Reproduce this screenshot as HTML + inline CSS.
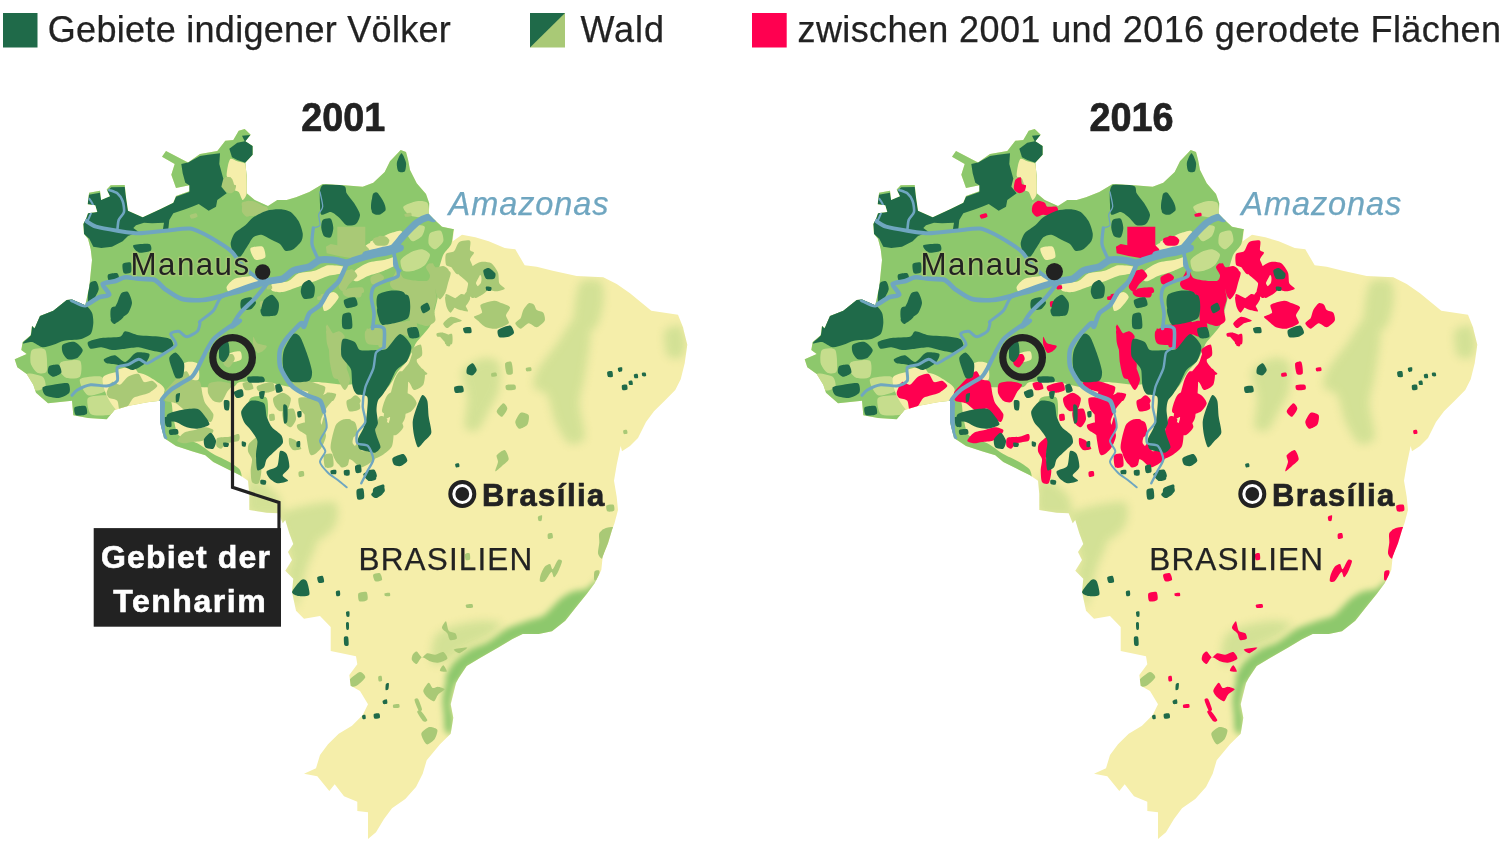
<!DOCTYPE html>
<html lang="de"><head><meta charset="utf-8"><title>Brasilien 2001 / 2016</title>
<style>
html,body{margin:0;padding:0;background:#fff}
svg{display:block}
text{font-family:"Liberation Sans",sans-serif;fill:#222222;stroke:#222222;stroke-width:0.25px}
.b{font-weight:bold}
.hv{stroke:#222222;stroke-width:0.7px}
.wh{fill:#fff;stroke:#fff;stroke-width:0.6px}
.bl{fill:#6fa6c0;stroke:#6fa6c0}
</style></head><body>
<svg width="1500" height="855" viewBox="0 0 1500 855">
<defs>
<clipPath id="bz"><path d="M34.7,328.0 L40.0,316.0 L53.3,310.7 L66.7,300.0 L72.0,299.5 L85.3,305.3 L89.3,286.7 L92.0,260.0 L90.7,249.3 L88.0,238.7 L84.0,234.0 L83.3,224.0 L86.0,218.7 L88.0,213.3 L97.3,212.0 L95.3,205.3 L87.7,204.3 L89.1,192.7 L100.0,190.7 L101.1,200.0 L110.0,196.3 L106.7,189.6 L110.7,185.3 L124.7,185.1 L126.0,197.3 L128.0,210.7 L142.7,217.3 L160.0,209.3 L173.3,202.7 L176.0,196.0 L189.3,191.3 L189.3,185.3 L176.0,188.0 L171.3,174.7 L174.7,164.0 L162.0,156.7 L166.0,150.9 L188.0,162.4 L200.0,154.0 L217.3,150.9 L225.3,140.7 L233.3,140.0 L238.7,130.7 L244.7,129.1 L250.7,134.7 L245.3,141.3 L252.7,146.0 L252.7,154.7 L245.3,162.7 L246.7,176.0 L246.7,193.3 L254.7,200.0 L268.0,206.0 L277.3,200.0 L286.7,200.0 L296.0,197.3 L309.3,192.0 L322.7,184.0 L344.0,185.3 L362.7,186.7 L373.3,182.7 L384.7,172.0 L390.0,161.3 L400.7,150.1 L406.0,152.0 L408.1,160.0 L410.0,169.9 L416.7,183.2 L426.0,193.9 L429.2,203.2 L428.9,213.9 L434.0,219.2 L442.0,226.7 L454.0,229.3 L452.7,241.3 L462.0,234.7 L475.3,237.3 L488.7,241.3 L504.7,248.0 L515.3,249.3 L524.7,265.3 L536.7,266.7 L552.7,270.7 L576.7,276.0 L603.3,277.3 L616.7,284.0 L630.0,293.3 L651.3,310.7 L678.0,314.7 L683.3,328.0 L683.3,328.7 L687.3,344.7 L684.7,363.3 L680.7,379.3 L675.3,390.0 L664.7,400.7 L654.0,411.3 L646.0,422.0 L638.0,438.0 L630.0,446.0 L622.0,451.3 L620.7,446.0 L616.7,464.7 L614.0,480.7 L616.7,496.7 L618.0,510.0 L614.5,523.3 L612.0,530.0 L608.0,543.3 L602.7,556.7 L601.3,570.0 L594.7,583.3 L586.7,594.0 L576.0,607.3 L565.3,620.7 L552.0,631.3 L538.7,634.0 L522.7,634.0 L512.0,639.3 L498.7,647.3 L480.0,658.0 L466.7,666.0 L458.7,678.0 L456.0,683.0 L450.7,704.3 L453.3,717.7 L450.7,733.7 L440.0,744.3 L426.7,760.3 L422.7,773.7 L416.0,787.0 L405.3,799.0 L392.0,808.3 L384.0,819.0 L376.0,832.3 L368.0,839.0 L368.0,812.3 L357.3,811.0 L357.3,801.7 L344.0,796.3 L334.7,784.3 L329.3,791.0 L317.3,776.3 L304.0,773.7 L316.0,768.3 L320.0,755.0 L328.0,744.3 L338.7,733.7 L352.0,725.7 L362.7,715.0 L368.0,704.3 L360.0,691.0 L350.7,685.7 L349.3,675.0 L357.3,664.3 L356.0,656.3 L344.0,653.7 L330.7,651.0 L330.7,627.0 L320.0,616.0 L304.0,618.7 L296.0,610.7 L292.0,592.0 L293.3,578.7 L285.3,570.7 L292.0,560.0 L288.0,552.0 L293.3,544.0 L289.3,533.3 L285.3,520.0 L282.7,523.3 L278.7,513.2 L266.7,512.7 L249.3,510.0 L249.3,494.0 L248.0,480.7 L240.0,475.3 L229.3,470.0 L213.3,462.0 L205.3,455.3 L192.0,451.3 L176.0,446.0 L164.0,438.0 L160.0,422.0 L160.0,400.7 L149.3,402.0 L128.0,406.0 L114.7,410.0 L106.7,419.3 L88.0,418.0 L73.3,415.3 L72.0,400.7 L48.0,403.3 L36.0,392.7 L33.3,384.7 L26.7,374.0 L17.3,367.3 L14.7,359.3 L26.7,354.0 L21.3,350.0 L22.7,342.0 L30.7,335.3 L32.0,326.0Z" fill="#000" /></clipPath>
<filter id="bl" x="-10%" y="-10%" width="120%" height="120%"><feGaussianBlur stdDeviation="4"/></filter>
<filter id="bl2" x="-10%" y="-10%" width="120%" height="120%"><feGaussianBlur stdDeviation="3"/></filter>
</defs>
<rect width="1500" height="855" fill="#fff"/>
<rect x="3" y="13" width="34.5" height="34.5" fill="#1f6a49"/>
<text x="47.8" y="41.9" font-size="36" textLength="403" lengthAdjust="spacing">Gebiete indigener Völker</text>
<rect x="530" y="13" width="35" height="34.5" fill="#a9c976"/><path d="M530,13 H565 L530,47.5Z" fill="#1f6a49"/>
<text x="580.5" y="41.9" font-size="36" textLength="83.5" lengthAdjust="spacing">Wald</text>
<rect x="752" y="13" width="34.7" height="34.5" fill="#ff0050"/>
<text x="797.5" y="41.9" font-size="36" textLength="703.5" lengthAdjust="spacing">zwischen 2001 und 2016 gerodete Flächen</text>
<g id="m2001">
<g clip-path="url(#bz)">
<rect x="0" y="100" width="720" height="760" fill="#f5eeaa"/>
<g opacity="0.32" filter="url(#bl)"><path d="M249.3,478.0 C251.3,474.3 260.3,481.0 264.0,483.3 C267.7,485.6 276.7,492.7 278.7,496.7 C280.7,500.7 283.8,513.3 280.0,515.3 C276.2,517.3 251.8,517.4 248.0,512.7 C244.2,508.0 247.3,481.7 249.3,478.0Z M249.3,478.0 C251.3,474.3 260.3,481.0 264.0,483.3 C267.7,485.6 276.7,492.7 278.7,496.7 C280.7,500.7 283.8,513.3 280.0,515.3 C276.2,517.3 251.8,517.4 248.0,512.7 C244.2,508.0 247.3,481.7 249.3,478.0Z M434.7,636.7 C437.4,632.0 447.6,628.0 453.3,626.0 C459.0,624.0 474.0,621.0 480.0,620.7 C486.0,620.4 500.3,621.3 501.3,623.3 C502.3,625.3 492.3,633.7 488.0,636.7 C483.7,639.7 471.7,644.3 466.7,647.3 C461.7,650.3 452.3,658.7 448.0,660.7 C443.7,662.7 433.7,666.3 432.0,663.3 C430.3,660.3 432.0,641.4 434.7,636.7Z M434.7,636.7 C437.4,632.0 447.6,628.0 453.3,626.0 C459.0,624.0 474.0,621.0 480.0,620.7 C486.0,620.4 500.3,621.3 501.3,623.3 C502.3,625.3 492.3,633.7 488.0,636.7 C483.7,639.7 471.7,644.3 466.7,647.3 C461.7,650.3 452.3,658.7 448.0,660.7 C443.7,662.7 433.7,666.3 432.0,663.3 C430.3,660.3 432.0,641.4 434.7,636.7Z M462.0,371.3 C464.0,366.3 478.6,359.0 483.3,358.0 C488.0,357.0 497.3,359.3 499.3,363.3 C501.3,367.3 500.6,384.0 499.3,390.0 C498.0,396.0 491.4,406.3 488.7,411.3 C486.0,416.3 481.0,428.0 478.0,430.0 C475.0,432.0 466.0,431.3 464.7,427.3 C463.4,423.3 467.6,405.0 467.3,398.0 C467.0,391.0 460.0,376.3 462.0,371.3Z M536.7,371.3 C539.7,365.6 553.3,348.7 558.0,342.0 C562.7,335.3 570.0,321.3 574.0,318.0 C578.0,314.7 588.0,312.3 590.0,315.3 C592.0,318.3 590.7,334.3 590.0,342.0 C589.3,349.7 586.0,369.0 584.7,376.7 C583.4,384.4 579.3,395.6 579.3,403.3 C579.3,411.0 586.0,433.0 584.7,438.0 C583.4,443.0 572.4,445.3 568.7,443.3 C565.0,441.3 558.0,428.0 555.3,422.0 C552.6,416.0 550.0,399.6 547.3,395.3 C544.6,391.0 535.3,390.3 534.0,387.3 C532.7,384.3 533.7,377.0 536.7,371.3Z M664.7,331.3 C666.4,327.6 678.0,324.3 680.7,326.0 C683.4,327.7 686.0,340.7 686.0,344.7 C686.0,348.7 683.0,356.7 680.7,358.0 C678.4,359.3 669.3,358.6 667.3,355.3 C665.3,352.0 663.0,335.0 664.7,331.3Z M579.3,284.0 C582.6,278.2 597.7,279.0 600.7,281.3 C603.7,283.6 604.0,296.9 603.3,302.7 C602.6,308.5 599.0,324.8 595.3,328.0 C591.6,331.2 576.0,333.5 574.0,328.0 C572.0,322.5 576.0,289.8 579.3,284.0Z M288.0,520.0 C291.0,516.0 308.3,517.3 312.0,520.0 C315.7,522.7 318.0,535.3 317.3,541.3 C316.6,547.3 309.4,559.7 306.7,568.0 C304.0,576.3 298.0,605.7 296.0,608.0 C294.0,610.3 291.9,591.4 290.7,586.7 C289.5,582.0 286.5,574.0 286.7,570.7 C286.9,567.4 291.8,562.3 292.0,560.0 C292.2,557.7 288.5,557.0 288.0,552.0 C287.5,547.0 285.0,524.0 288.0,520.0Z M282.7,512.7 C288.5,508.0 326.6,500.7 333.3,502.0 C340.0,503.3 337.7,518.6 336.0,523.3 C334.3,528.0 326.2,537.3 320.0,539.3 C313.8,541.3 291.4,542.6 286.7,539.3 C282.0,536.0 276.9,517.4 282.7,512.7Z" fill="#8dc86c"/></g>
<path d="M0,100 C57.5,63.8 402.5,85.6 460,100 C517.5,114.4 460.8,198.8 460,215 C459.2,231.2 455.1,225.7 454.0,229.3 C452.9,232.9 452.6,240.8 451.3,244.0 C450.0,247.2 445.0,251.4 443.3,254.7 C441.6,258.0 439.7,267.4 438.0,270.7 C436.3,274.0 430.0,278.6 430.0,281.3 C430.0,284.0 437.3,288.7 438.0,292.0 C438.7,295.3 436.3,304.0 435.3,308.0 C434.3,312.0 430.0,323.8 430.0,324.0 C430.0,324.2 435.3,309.8 435.3,310.0 C435.3,310.2 432.3,322.0 430.0,326.0 C427.7,330.0 418.7,339.3 416.7,342.0 C414.7,344.7 415.2,345.0 414.0,347.3 C412.8,349.6 409.3,357.7 407.3,360.7 C405.3,363.7 400.2,368.3 398.0,371.3 C395.8,374.3 392.3,381.7 390.0,384.7 C387.7,387.7 380.1,396.0 379.3,395.3 C378.6,394.6 388.1,380.6 384.0,379.3 C379.9,378.0 355.4,384.4 346.7,384.7 C338.0,385.0 321.4,381.7 314.7,382.0 C308.0,382.3 299.3,387.3 293.3,387.3 C287.3,387.3 273.4,382.7 266.7,382.0 C260.0,381.3 244.3,381.3 240.0,382.0 C235.7,382.7 236.7,386.6 232.0,387.3 C227.3,388.0 208.4,387.6 202.7,387.3 C197.0,387.0 191.4,383.0 186.7,384.7 C182.0,386.4 170.0,398.5 165.3,400.7 C160.6,402.9 154.0,401.3 149.3,402.0 C144.6,402.7 132.3,405.0 128.0,406.0 C123.7,407.0 117.4,407.7 114.7,410.0 C112.0,412.3 114.4,422.9 106.7,424.7 C99.0,426.5 66.6,429.0 53.3,424.7 C40.0,420.4 6.7,430.6 0.0,390.0 C-6.7,349.4 -57.5,136.2 0,100Z M158.7,398.0 C160.0,392.7 168.9,398.4 170.7,400.7 C172.5,403.0 172.3,412.4 173.3,416.7 C174.3,421.0 175.7,432.0 178.7,435.3 C181.7,438.6 193.0,441.0 197.3,443.3 C201.6,445.6 209.3,451.7 213.3,454.0 C217.3,456.3 226.0,460.0 229.3,462.0 C232.6,464.0 238.7,467.7 240.0,470.0 C241.3,472.3 243.3,480.7 240.0,480.7 C236.7,480.7 220.0,473.3 213.3,470.0 C206.6,466.7 193.4,457.3 186.7,454.0 C180.0,450.7 163.5,450.3 160.0,443.3 C156.5,436.3 157.4,403.3 158.7,398.0Z M250.7,398.0 C253.4,395.7 264.7,395.0 266.7,398.0 C268.7,401.0 268.4,418.3 266.7,422.0 C265.0,425.7 256.0,428.0 253.3,427.3 C250.6,426.6 245.6,420.4 245.3,416.7 C245.0,413.0 248.0,400.3 250.7,398.0Z" fill="#8dc86c"/>
<g filter="url(#bl2)"><path d="M602.7,575.3 C604.0,575.3 599.3,585.7 597.3,588.7 C595.3,591.7 589.4,596.3 586.7,599.3 C584.0,602.3 578.7,609.4 576.0,612.7 C573.3,616.0 568.3,623.0 565.3,626.0 C562.3,629.0 555.3,635.0 552.0,636.7 C548.7,638.4 542.4,639.1 538.7,639.3 C535.0,639.5 526.0,637.5 522.7,638.0 C519.4,638.5 515.0,641.6 512.0,643.3 C509.0,645.0 502.7,649.0 498.7,651.3 C494.7,653.6 484.0,659.7 480.0,662.0 C476.0,664.3 469.4,667.5 466.7,670.0 C464.0,672.5 461.4,680.8 458.7,682.0 C456.0,683.2 446.0,681.6 445.3,679.3 C444.6,677.0 450.3,667.0 453.3,663.3 C456.3,659.6 465.0,652.7 469.3,650.0 C473.6,647.3 483.3,644.7 488.0,642.0 C492.7,639.3 501.7,631.4 506.7,628.7 C511.7,626.0 523.3,622.4 528.0,620.7 C532.7,619.0 540.0,618.0 544.0,615.3 C548.0,612.6 556.3,602.3 560.0,599.3 C563.7,596.3 570.0,592.6 573.3,591.3 C576.6,590.0 583.0,590.7 586.7,588.7 C590.4,586.7 601.4,575.3 602.7,575.3Z M466.7,667.0 C466.7,669.0 458.0,678.3 456.0,683.0 C454.0,687.7 451.0,700.0 450.7,704.3 C450.4,708.6 453.1,714.0 453.3,717.7 C453.5,721.4 453.0,732.0 452.0,733.7 C451.0,735.4 446.3,733.3 445.3,731.0 C444.3,728.7 444.3,719.0 444.0,715.0 C443.7,711.0 442.4,703.3 442.7,699.0 C443.0,694.7 445.0,684.3 446.7,680.3 C448.4,676.3 453.5,668.7 456.0,667.0 C458.5,665.3 466.7,665.0 466.7,667.0Z" fill="#8dc86c"/></g>
<path d="M230.7,158.7 C231.9,158.2 235.5,160.6 237.3,161.3 C239.1,162.0 244.1,162.2 245.3,164.0 C246.5,165.8 246.5,172.3 246.7,176.0 C246.9,179.7 247.2,190.3 246.7,193.3 C246.2,196.3 243.7,200.2 242.7,200.0 C241.7,199.8 239.9,193.3 238.7,192.0 C237.5,190.7 234.3,191.0 233.3,189.3 C232.3,187.6 231.5,180.4 230.7,178.7 C229.9,177.0 227.0,177.7 226.7,176.0 C226.4,174.3 227.5,167.5 228.0,165.3 C228.5,163.1 229.5,159.2 230.7,158.7Z M226.7,286.7 C227.4,285.0 231.7,280.0 234.7,278.7 C237.7,277.4 247.4,276.7 250.7,276.0 C254.0,275.3 259.3,272.6 261.3,273.3 C263.3,274.0 267.4,279.6 266.7,281.3 C266.0,283.0 259.3,285.5 256.0,286.7 C252.7,287.9 243.3,290.0 240.0,290.7 C236.7,291.4 231.0,292.5 229.3,292.0 C227.6,291.5 226.0,288.4 226.7,286.7Z M250.7,248.0 C252.0,247.0 260.9,245.5 262.7,246.7 C264.5,247.9 266.1,255.6 265.3,257.3 C264.5,259.0 257.7,260.3 256.0,260.0 C254.3,259.7 252.7,256.2 252.0,254.7 C251.3,253.2 249.4,249.0 250.7,248.0Z M272.0,284.0 C274.0,282.8 284.7,282.6 288.0,281.3 C291.3,280.0 295.4,274.6 298.7,273.3 C302.0,272.0 311.0,271.7 314.7,270.7 C318.4,269.7 324.3,265.8 328.0,265.3 C331.7,264.8 342.3,265.7 344.0,266.7 C345.7,267.7 343.3,272.1 341.3,273.3 C339.3,274.5 331.3,275.0 328.0,276.0 C324.7,277.0 318.4,280.0 314.7,281.3 C311.0,282.6 302.7,285.4 298.7,286.7 C294.7,288.0 286.0,291.5 282.7,292.0 C279.4,292.5 273.3,291.7 272.0,290.7 C270.7,289.7 270.0,285.2 272.0,284.0Z M354.7,270.7 C356.7,268.7 364.3,264.0 368.0,262.7 C371.7,261.4 380.7,260.7 384.0,260.0 C387.3,259.3 393.4,256.6 394.7,257.3 C396.0,258.0 396.0,263.6 394.7,265.3 C393.4,267.0 387.3,269.4 384.0,270.7 C380.7,272.0 371.3,274.7 368.0,276.0 C364.7,277.3 359.3,281.0 357.3,281.3 C355.3,281.6 352.3,280.0 352.0,278.7 C351.7,277.4 352.7,272.7 354.7,270.7Z M370.7,241.3 C372.2,240.1 381.0,238.9 384.0,238.7 C387.0,238.5 393.5,238.8 394.7,240.0 C395.9,241.2 395.0,246.8 393.3,248.0 C391.6,249.2 384.0,249.3 381.3,249.3 C378.6,249.3 373.3,249.0 372.0,248.0 C370.7,247.0 369.2,242.5 370.7,241.3Z M322.7,297.3 C323.9,295.0 331.3,292.0 333.3,292.0 C335.3,292.0 339.0,295.3 338.7,297.3 C338.4,299.3 332.5,306.3 330.7,308.0 C328.9,309.7 325.0,312.0 324.0,310.7 C323.0,309.4 321.5,299.6 322.7,297.3Z M366.0,245.3 C367.5,243.6 376.3,240.2 379.3,238.7 C382.3,237.2 387.3,234.3 390.0,233.3 C392.7,232.3 399.0,230.4 400.7,230.7 C402.4,231.0 404.3,234.3 403.3,236.0 C402.3,237.7 395.7,242.5 392.7,244.0 C389.7,245.5 382.5,247.0 379.3,248.0 C376.1,249.0 369.0,252.3 367.3,252.0 C365.6,251.7 364.5,247.0 366.0,245.3Z M103.3,376.7 C105.5,373.9 118.3,371.6 123.3,371.3 C128.3,371.0 138.8,372.5 143.3,374.0 C147.8,375.5 156.6,381.3 159.3,383.3 C162.0,385.3 164.7,387.7 164.7,390.0 C164.7,392.3 162.0,400.3 159.3,402.0 C156.6,403.7 147.0,402.5 143.3,403.3 C139.6,404.1 133.3,407.9 130.0,408.7 C126.7,409.5 119.7,411.8 116.7,410.0 C113.7,408.2 107.7,398.2 106.0,394.0 C104.3,389.8 101.1,379.5 103.3,376.7Z M184.0,363.3 C185.3,361.1 195.5,361.3 197.3,363.3 C199.1,365.3 200.0,377.1 198.7,379.3 C197.4,381.5 188.5,382.7 186.7,380.7 C184.9,378.7 182.7,365.5 184.0,363.3Z M205.3,390.0 C208.0,387.3 223.5,384.7 226.7,384.7 C229.9,384.7 230.2,383.3 230.7,390.0 C231.2,396.7 232.2,432.3 230.7,438.0 C229.2,443.7 220.9,437.3 218.7,435.3 C216.5,433.3 215.0,425.7 213.3,422.0 C211.6,418.3 206.3,410.0 205.3,406.0 C204.3,402.0 202.6,392.7 205.3,390.0Z M228.0,354.0 C229.0,352.7 238.3,350.6 240.0,351.3 C241.7,352.0 242.3,358.0 241.3,359.3 C240.3,360.6 233.7,362.7 232.0,362.0 C230.3,361.3 227.0,355.3 228.0,354.0Z M117.3,370.0 C119.3,368.5 130.6,366.5 133.3,367.3 C136.0,368.1 139.7,374.9 138.7,376.7 C137.7,378.5 128.0,381.7 125.3,382.0 C122.6,382.3 118.3,380.8 117.3,379.3 C116.3,377.8 115.3,371.5 117.3,370.0Z" fill="#f5eeaa"/>
<g opacity="0.55"><path d="M400.7,260.0 C401.7,257.7 408.6,253.3 411.3,252.0 C414.0,250.7 419.7,249.0 422.0,249.3 C424.3,249.6 429.7,252.7 430.0,254.7 C430.3,256.7 426.7,263.3 424.7,265.3 C422.7,267.3 416.7,270.0 414.0,270.7 C411.3,271.4 405.0,272.0 403.3,270.7 C401.6,269.4 399.7,262.3 400.7,260.0Z M407.3,233.3 C407.8,231.3 414.5,226.1 416.7,225.3 C418.9,224.5 424.0,225.4 424.7,226.7 C425.4,228.0 423.5,234.2 422.0,236.0 C420.5,237.8 414.5,241.6 412.7,241.3 C410.9,241.0 406.8,235.3 407.3,233.3Z M430.0,233.3 C431.5,231.6 439.0,229.7 440.7,230.7 C442.4,231.7 444.0,239.0 443.3,241.3 C442.6,243.6 437.1,249.0 435.3,249.3 C433.5,249.6 429.4,246.0 428.7,244.0 C428.0,242.0 428.5,235.0 430.0,233.3Z M403.3,206.7 C404.3,205.0 413.7,201.8 416.7,201.3 C419.7,200.8 425.8,201.0 427.3,202.7 C428.8,204.4 429.7,212.9 428.7,214.7 C427.7,216.5 421.8,217.3 419.3,217.3 C416.8,217.3 410.7,216.0 408.7,214.7 C406.7,213.4 402.3,208.4 403.3,206.7Z M32.0,350.0 C33.8,348.3 43.5,347.3 45.3,350.0 C47.1,352.7 47.7,368.5 46.7,371.3 C45.7,374.1 39.3,373.7 37.3,372.7 C35.3,371.7 31.4,366.1 30.7,363.3 C30.0,360.5 30.2,351.7 32.0,350.0Z M61.3,362.0 C63.8,360.7 77.7,358.9 80.0,360.7 C82.3,362.5 81.7,374.5 80.0,376.7 C78.3,378.9 69.2,378.7 66.7,378.0 C64.2,377.3 60.7,373.3 60.0,371.3 C59.3,369.3 58.8,363.3 61.3,362.0Z M88.0,398.0 C90.0,395.7 101.7,395.3 106.7,395.3 C111.7,395.3 125.7,396.0 128.0,398.0 C130.3,400.0 128.0,409.1 125.3,411.3 C122.6,413.5 111.0,415.0 106.7,415.3 C102.4,415.6 93.0,416.2 90.7,414.0 C88.4,411.8 86.0,400.3 88.0,398.0Z M26.7,374.0 C27.7,372.3 40.4,375.0 42.7,376.7 C45.0,378.4 46.3,385.6 45.3,387.3 C44.3,389.0 37.0,391.7 34.7,390.0 C32.4,388.3 25.7,375.7 26.7,374.0Z M80.0,379.3 C81.7,377.0 98.0,375.4 101.3,376.7 C104.6,378.0 108.4,387.7 106.7,390.0 C105.0,392.3 91.3,396.6 88.0,395.3 C84.7,394.0 78.3,381.6 80.0,379.3Z" fill="#f5eeaa"/></g>
<path d="M225.3,177.3 C226.6,176.6 230.8,177.2 232.0,178.7 C233.2,180.2 234.9,187.5 234.7,189.3 C234.5,191.1 232.0,193.3 230.7,193.3 C229.4,193.3 225.2,190.5 224.0,189.3 C222.8,188.1 221.1,185.5 221.3,184.0 C221.5,182.5 224.0,178.0 225.3,177.3Z M242.0,202.7 C243.2,201.4 250.2,200.6 253.3,201.3 C256.4,202.0 265.4,206.5 266.7,208.0 C268.0,209.5 266.0,212.3 264.0,213.3 C262.0,214.3 253.2,216.2 250.7,216.0 C248.2,215.8 245.1,213.7 244.0,212.0 C242.9,210.3 240.8,204.0 242.0,202.7Z M349.3,680.0 C350.5,678.2 358.0,672.3 360.0,672.0 C362.0,671.7 365.6,675.6 365.3,677.3 C365.0,679.0 359.1,684.1 357.3,685.3 C355.5,686.5 351.7,687.4 350.7,686.7 C349.7,686.0 348.1,681.8 349.3,680.0Z M421.3,733.7 C421.6,731.5 427.3,727.5 429.3,727.0 C431.3,726.5 436.6,728.2 437.3,729.7 C438.0,731.2 436.0,737.2 434.7,739.0 C433.4,740.8 428.4,745.0 426.7,744.3 C425.0,743.6 421.0,735.9 421.3,733.7Z" fill="#a9c976"/>
<path d="M434.7,275.3 C435.9,272.5 443.3,270.3 445.3,270.0 C447.3,269.7 450.4,271.0 450.7,272.7 C451.0,274.4 448.7,280.8 448.0,283.3 C447.3,285.8 446.3,290.7 445.3,292.7 C444.3,294.7 441.2,299.3 440.0,299.3 C438.8,299.3 436.7,295.7 436.0,292.7 C435.3,289.7 433.5,278.1 434.7,275.3Z M458.7,274.0 C459.2,273.0 464.9,270.7 466.7,270.0 C468.5,269.3 471.6,268.2 473.3,268.7 C475.0,269.2 479.7,272.2 480.0,274.0 C480.3,275.8 476.0,281.3 476.0,283.3 C476.0,285.3 480.3,288.2 480.0,290.0 C479.7,291.8 475.0,297.7 473.3,298.0 C471.6,298.3 467.4,294.5 466.7,292.7 C466.0,290.9 468.5,285.1 468.0,283.3 C467.5,281.5 463.9,279.2 462.7,278.0 C461.5,276.8 458.2,275.0 458.7,274.0Z M445.3,296.7 C446.1,295.7 451.3,299.6 453.3,299.3 C455.3,299.0 459.6,294.3 461.3,294.0 C463.0,293.7 466.2,295.4 466.7,296.7 C467.2,298.0 465.1,302.9 465.3,304.7 C465.5,306.5 468.5,310.6 468.0,311.3 C467.5,312.0 462.8,310.7 461.3,310.0 C459.8,309.3 457.3,305.7 456.0,306.0 C454.7,306.3 451.9,312.5 450.7,312.7 C449.5,312.9 447.4,309.3 446.7,307.3 C446.0,305.3 444.5,297.7 445.3,296.7Z M365.3,331.3 C366.3,329.1 373.3,327.0 376.0,326.0 C378.7,325.0 383.7,324.0 386.7,323.3 C389.7,322.6 397.5,320.0 400.0,320.7 C402.5,321.4 406.7,326.7 406.7,328.7 C406.7,330.7 401.7,334.8 400.0,336.7 C398.3,338.6 397.3,343.1 393.3,344.0 C389.3,344.9 371.5,345.6 368.0,344.0 C364.5,342.4 364.3,333.6 365.3,331.3Z M445.3,336.7 C446.1,335.4 451.2,333.1 452.0,334.0 C452.8,334.9 452.8,342.8 452.0,344.0 C451.2,345.2 446.1,344.9 445.3,344.0 C444.5,343.1 444.5,337.9 445.3,336.7Z M225.3,180.0 C226.1,178.5 229.9,176.8 230.7,177.3 C231.5,177.8 231.3,183.0 232.0,184.0 C232.7,185.0 235.7,184.5 236.0,185.3 C236.3,186.1 235.5,189.7 234.7,190.7 C233.9,191.7 230.6,193.5 229.3,193.3 C228.0,193.1 224.5,191.0 224.0,189.3 C223.5,187.6 224.5,181.5 225.3,180.0Z M242.7,205.3 C243.4,203.9 246.5,201.1 248.0,200.8 C249.5,200.5 253.5,202.0 254.7,202.7 C255.9,203.4 255.8,206.2 257.3,206.7 C258.8,207.2 265.4,205.9 266.7,206.7 C268.0,207.5 268.8,212.1 268.0,213.3 C267.2,214.5 261.8,215.8 260.0,216.0 C258.2,216.2 255.0,214.6 253.3,214.7 C251.6,214.8 248.1,217.1 246.7,216.8 C245.3,216.5 242.6,213.4 242.1,212.0 C241.6,210.6 242.0,206.7 242.7,205.3Z M189.9,215.2 C190.5,214.5 195.1,213.1 196.0,213.3 C196.9,213.5 197.9,216.1 197.3,216.8 C196.7,217.5 192.4,218.9 191.5,218.7 C190.6,218.5 189.3,215.9 189.9,215.2Z M337.3,226.7 L365.3,226.7 L365.3,245.3 L369.3,249.3 L368.0,257.3 L354.7,258.7 L338.7,256.0 L326.7,253.3 L325.9,246.7 L330.7,244.0 L337.3,245.3Z M373.3,238.7 C374.3,237.5 382.0,235.8 384.0,236.0 C386.0,236.2 389.0,238.8 389.3,240.0 C389.6,241.2 388.4,244.6 386.7,245.3 C385.0,246.0 377.7,246.1 376.0,245.3 C374.3,244.5 372.3,239.9 373.3,238.7Z M345.3,273.3 C347.0,271.1 350.5,269.0 352.0,269.3 C353.5,269.6 357.6,274.2 357.3,276.0 C357.0,277.8 351.0,282.0 349.3,284.0 C347.6,286.0 345.3,291.7 344.0,292.0 C342.7,292.3 338.5,289.0 338.7,286.7 C338.9,284.4 343.6,275.5 345.3,273.3Z M342.7,292.0 C343.4,290.9 349.7,288.0 352.0,288.0 C354.3,288.0 360.3,290.8 361.3,292.0 C362.3,293.2 361.8,296.7 360.0,297.3 C358.2,297.9 348.9,297.5 346.7,296.8 C344.5,296.1 342.0,293.1 342.7,292.0Z M370.7,277.3 C371.5,276.0 377.0,273.3 378.7,273.3 C380.4,273.3 383.8,276.0 384.0,277.3 C384.2,278.6 381.5,282.7 380.0,283.5 C378.5,284.3 373.2,284.8 372.0,284.0 C370.8,283.2 369.9,278.6 370.7,277.3Z M266.7,285.9 C267.2,285.4 270.8,284.9 271.5,285.3 C272.2,285.7 272.5,288.3 272.0,288.8 C271.5,289.3 267.9,289.7 267.2,289.3 C266.5,288.9 266.2,286.4 266.7,285.9Z M260.0,302.1 C260.4,301.4 263.0,300.8 263.5,301.3 C264.0,301.8 264.4,305.4 264.0,306.1 C263.6,306.8 261.0,307.2 260.5,306.7 C260.0,306.2 259.6,302.8 260.0,302.1Z M317.3,296.8 C317.8,296.3 321.4,295.7 322.1,296.0 C322.8,296.3 323.2,299.0 322.7,299.5 C322.2,300.0 318.6,300.3 317.9,300.0 C317.2,299.7 316.8,297.3 317.3,296.8Z M372.7,242.0 C372.7,241.1 377.5,236.5 379.3,235.9 C381.1,235.3 386.1,236.7 387.3,237.5 C388.5,238.3 389.7,241.3 388.7,242.0 C387.7,242.7 381.3,243.3 379.3,243.3 C377.3,243.3 372.7,242.9 372.7,242.0Z M404.7,214.0 C405.4,213.5 410.0,212.4 410.8,212.7 C411.6,213.0 412.0,215.6 411.3,216.1 C410.6,216.6 406.3,217.0 405.5,216.7 C404.7,216.4 404.0,214.5 404.7,214.0Z M390.0,283.3 C390.3,281.3 394.3,274.7 395.3,272.7 C396.3,270.7 397.0,266.6 398.0,267.3 C399.0,268.0 401.0,276.3 403.3,278.0 C405.6,279.7 413.7,280.4 416.7,280.7 C419.7,281.0 425.6,281.4 427.3,280.7 C429.0,280.0 430.2,277.0 430.0,275.3 C429.8,273.6 426.0,268.8 426.0,267.3 C426.0,265.8 428.8,263.3 430.0,263.3 C431.2,263.3 434.3,265.5 435.3,267.3 C436.3,269.1 438.0,275.3 438.0,278.0 C438.0,280.7 435.5,286.0 435.3,288.7 C435.1,291.4 436.9,296.6 436.7,299.3 C436.5,302.0 434.2,307.3 434.0,310.0 C433.8,312.7 436.1,318.7 435.3,320.7 C434.5,322.7 429.6,325.7 427.3,326.0 C425.0,326.3 418.9,324.0 416.7,323.3 C414.5,322.6 411.0,323.7 410.0,320.7 C409.0,317.7 409.9,303.0 408.7,299.3 C407.5,295.6 402.7,292.6 400.7,291.3 C398.7,290.0 394.0,289.7 392.7,288.7 C391.4,287.7 389.7,285.3 390.0,283.3Z M367.3,331.3 C368.3,331.0 374.5,334.8 376.7,334.0 C378.9,333.2 382.0,326.0 384.7,324.7 C387.4,323.4 395.0,323.8 398.0,323.3 C401.0,322.8 406.4,320.7 408.7,320.7 C411.0,320.7 415.7,321.6 416.7,323.3 C417.7,325.0 417.7,332.3 416.7,334.0 C415.7,335.7 410.7,336.7 408.7,336.7 C406.7,336.7 403.0,333.3 400.7,334.0 C398.4,334.7 391.3,340.2 390.0,342.0 C388.7,343.8 391.0,348.0 390.0,348.7 C389.0,349.4 383.7,348.5 382.0,347.3 C380.3,346.1 378.4,340.6 376.7,339.3 C375.0,338.0 369.9,337.7 368.7,336.7 C367.5,335.7 366.3,331.6 367.3,331.3Z M446.0,254.0 C447.0,252.3 452.3,252.8 454.0,251.3 C455.7,249.8 457.3,243.3 459.3,242.0 C461.3,240.7 468.7,239.7 470.0,240.7 C471.3,241.7 469.5,248.5 470.0,250.0 C470.5,251.5 474.0,251.5 474.0,252.7 C474.0,253.9 470.2,257.5 470.0,259.3 C469.8,261.1 473.4,265.6 472.7,267.3 C472.0,269.0 466.7,271.9 464.7,272.7 C462.7,273.5 458.4,274.7 456.7,274.0 C455.0,273.3 452.6,268.5 451.3,267.3 C450.0,266.1 446.7,266.4 446.0,264.7 C445.3,263.0 445.0,255.7 446.0,254.0Z M427.3,264.7 C427.8,263.9 431.7,263.0 432.7,263.3 C433.7,263.6 434.0,267.0 435.3,267.3 C436.6,267.6 441.6,265.7 443.3,266.0 C445.0,266.3 448.2,268.5 448.7,270.0 C449.2,271.5 448.0,275.7 447.3,278.0 C446.6,280.3 444.5,288.0 443.3,288.7 C442.1,289.4 439.0,285.3 438.0,283.3 C437.0,281.3 436.5,274.4 435.3,272.7 C434.1,271.0 429.7,271.0 428.7,270.0 C427.7,269.0 426.8,265.5 427.3,264.7Z M471.3,267.3 C472.3,266.0 478.2,262.5 480.7,262.0 C483.2,261.5 489.1,262.0 491.3,263.3 C493.5,264.6 497.0,270.2 498.0,272.7 C499.0,275.2 498.5,281.3 499.3,283.3 C500.1,285.3 505.0,287.7 504.7,288.7 C504.4,289.7 498.7,291.1 496.7,291.3 C494.7,291.5 490.4,289.7 488.7,290.0 C487.0,290.3 485.0,293.0 483.3,294.0 C481.6,295.0 476.6,298.3 475.3,298.0 C474.0,297.7 472.0,293.1 472.7,291.3 C473.4,289.5 479.7,285.3 480.7,283.3 C481.7,281.3 481.7,276.6 480.7,275.3 C479.7,274.0 473.9,273.7 472.7,272.7 C471.5,271.7 470.3,268.6 471.3,267.3Z M446.0,294.0 C447.5,293.7 456.6,299.6 459.3,299.3 C462.0,299.0 466.0,291.3 467.3,291.3 C468.6,291.3 470.7,297.0 470.0,299.3 C469.3,301.6 464.0,309.0 462.0,310.0 C460.0,311.0 455.8,308.3 454.0,307.3 C452.2,306.3 448.3,303.7 447.3,302.0 C446.3,300.3 444.5,294.3 446.0,294.0Z M480.7,304.7 C482.2,303.2 491.3,300.9 494.0,300.7 C496.7,300.5 500.0,302.5 502.0,303.3 C504.0,304.1 509.5,305.8 510.0,307.3 C510.5,308.8 506.2,313.3 506.0,315.3 C505.8,317.3 509.9,321.6 508.7,323.3 C507.5,325.0 499.5,328.2 496.7,328.7 C493.9,329.2 488.3,328.3 486.0,327.3 C483.7,326.3 479.5,322.0 478.0,320.7 C476.5,319.4 473.5,317.7 474.0,316.7 C474.5,315.7 481.2,314.2 482.0,312.7 C482.8,311.2 479.2,306.2 480.7,304.7Z M523.3,310.0 C524.3,308.2 527.4,304.0 528.7,303.3 C530.0,302.6 533.0,303.9 534.0,304.7 C535.0,305.5 535.5,309.0 536.7,310.0 C537.9,311.0 542.3,311.4 543.3,312.7 C544.3,314.0 545.5,318.9 544.7,320.7 C543.9,322.5 538.7,327.0 536.7,327.3 C534.7,327.6 530.7,323.1 528.7,323.3 C526.7,323.5 522.4,328.7 520.7,328.7 C519.0,328.7 515.3,324.6 515.3,323.3 C515.3,322.0 519.7,319.7 520.7,318.0 C521.7,316.3 522.3,311.8 523.3,310.0Z M443.3,323.3 C443.8,321.9 449.0,317.0 451.3,316.7 C453.6,316.4 461.7,319.9 462.0,320.7 C462.3,321.5 455.8,322.4 454.0,323.3 C452.2,324.2 448.6,328.1 447.3,328.1 C446.0,328.1 442.8,324.7 443.3,323.3Z M447.3,335.3 C447.9,334.3 450.5,335.4 450.8,336.7 C451.1,338.0 450.6,345.0 450.0,346.0 C449.4,347.0 446.3,346.0 446.0,344.7 C445.7,343.4 446.7,336.3 447.3,335.3Z M436.7,333.5 C437.4,333.0 442.0,332.4 442.8,332.7 C443.6,333.0 444.0,335.6 443.3,336.1 C442.6,336.6 438.3,337.0 437.5,336.7 C436.7,336.4 436.0,334.0 436.7,333.5Z M326.0,331.3 C326.3,329.6 329.6,334.0 331.3,334.0 C333.0,334.0 337.6,331.0 339.3,331.3 C341.0,331.6 344.5,334.7 344.7,336.7 C344.9,338.7 341.0,344.3 340.7,347.3 C340.4,350.3 341.2,357.7 342.0,360.7 C342.8,363.7 347.0,369.1 347.3,371.3 C347.6,373.5 346.4,377.2 344.7,378.0 C343.0,378.8 335.8,379.8 334.0,378.0 C332.2,376.2 330.7,367.1 330.0,363.3 C329.3,359.5 329.2,351.3 328.7,347.3 C328.2,343.3 325.7,333.0 326.0,331.3Z M412.7,352.7 C414.0,350.4 418.1,345.0 419.3,344.7 C420.5,344.4 422.3,348.0 422.0,350.0 C421.7,352.0 416.7,358.4 416.7,360.7 C416.7,363.0 420.7,367.0 422.0,368.7 C423.3,370.4 428.0,373.0 427.3,374.0 C426.6,375.0 419.0,376.2 416.7,376.7 C414.4,377.2 410.7,378.3 408.7,378.0 C406.7,377.7 400.7,375.8 400.7,374.0 C400.7,372.2 407.2,366.0 408.7,363.3 C410.2,360.6 411.4,355.0 412.7,352.7Z M506.0,363.3 C506.5,362.0 510.5,361.0 511.3,362.0 C512.1,363.0 513.2,370.0 512.7,371.3 C512.2,372.6 508.1,373.7 507.3,372.7 C506.5,371.7 505.5,364.6 506.0,363.3Z M526.0,368.1 C526.5,367.6 530.1,367.0 530.8,367.3 C531.5,367.6 531.8,370.3 531.3,370.8 C530.8,371.3 527.2,371.6 526.5,371.3 C525.8,371.0 525.5,368.6 526.0,368.1Z M344.7,271.3 C345.5,270.3 351.5,269.3 352.7,270.0 C353.9,270.7 354.8,275.7 354.0,276.7 C353.2,277.7 347.2,278.7 346.0,278.0 C344.8,277.3 343.9,272.3 344.7,271.3Z M347.3,288.7 C349.0,287.9 360.0,286.8 362.0,287.3 C364.0,287.8 365.0,291.9 363.3,292.7 C361.6,293.5 350.7,294.5 348.7,294.0 C346.7,293.5 345.6,289.5 347.3,288.7Z M320.7,294.5 C321.2,293.8 324.8,293.5 325.5,294.0 C326.2,294.5 326.5,298.1 326.0,298.8 C325.5,299.5 321.9,299.8 321.2,299.3 C320.5,298.8 320.2,295.2 320.7,294.5Z M106.7,392.7 C107.0,390.7 110.3,383.0 112.0,382.0 C113.7,381.0 118.0,385.4 120.0,384.7 C122.0,384.0 125.7,378.0 128.0,376.7 C130.3,375.4 136.7,373.3 138.7,374.0 C140.7,374.7 142.3,381.2 144.0,382.0 C145.7,382.8 150.3,380.2 152.0,380.7 C153.7,381.2 157.6,384.5 157.3,386.0 C157.0,387.5 151.3,391.5 149.3,392.7 C147.3,393.9 143.3,394.6 141.3,395.3 C139.3,396.0 135.0,396.7 133.3,398.0 C131.6,399.3 129.7,404.3 128.0,406.0 C126.3,407.7 121.3,412.0 120.0,411.3 C118.7,410.6 118.6,402.4 117.3,400.7 C116.0,399.0 110.6,399.0 109.3,398.0 C108.0,397.0 106.4,394.7 106.7,392.7Z M164.0,392.7 C164.7,390.7 168.5,387.0 170.7,384.7 C172.9,382.4 179.3,375.7 181.3,374.0 C183.3,372.3 185.4,370.6 186.7,371.3 C188.0,372.0 190.3,378.0 192.0,379.3 C193.7,380.6 198.7,380.0 200.0,382.0 C201.3,384.0 202.0,392.6 202.7,395.3 C203.4,398.0 204.0,401.0 205.3,403.3 C206.6,405.6 212.6,411.7 213.3,414.0 C214.0,416.3 212.0,421.7 210.7,422.0 C209.4,422.3 204.4,418.4 202.7,416.7 C201.0,415.0 199.3,409.4 197.3,408.7 C195.3,408.0 189.4,412.0 186.7,411.3 C184.0,410.6 178.7,404.6 176.0,403.3 C173.3,402.0 166.8,402.0 165.3,400.7 C163.8,399.4 163.3,394.7 164.0,392.7Z M209.3,383.3 C211.0,381.9 218.5,381.3 221.3,381.5 C224.1,381.7 231.3,383.3 232.0,384.7 C232.7,386.1 228.0,390.5 226.7,392.7 C225.4,394.9 223.0,401.0 221.3,402.0 C219.6,403.0 215.0,401.9 213.3,400.7 C211.6,399.5 208.5,394.9 208.0,392.7 C207.5,390.5 207.6,384.7 209.3,383.3Z M177.3,440.7 C177.3,439.4 181.8,434.0 184.0,432.7 C186.2,431.4 192.0,430.7 194.7,430.0 C197.4,429.3 203.0,427.3 205.3,427.3 C207.6,427.3 212.6,429.0 213.3,430.0 C214.0,431.0 212.0,434.0 210.7,435.3 C209.4,436.6 205.0,439.9 202.7,440.7 C200.4,441.5 194.3,441.7 192.0,442.0 C189.7,442.3 185.8,443.5 184.0,443.3 C182.2,443.1 177.3,442.0 177.3,440.7Z M217.3,438.0 C218.9,436.8 226.6,437.2 229.3,436.7 C232.0,436.2 237.5,433.5 238.7,434.0 C239.9,434.5 240.2,439.5 238.7,440.7 C237.2,441.9 228.9,442.3 226.7,443.3 C224.5,444.3 222.6,448.4 221.3,448.7 C220.0,449.0 217.0,447.3 216.5,446.0 C216.0,444.7 215.7,439.2 217.3,438.0Z M249.3,443.3 C250.8,441.3 259.0,434.6 260.0,435.3 C261.0,436.0 257.8,445.7 257.3,448.7 C256.8,451.7 255.5,456.6 256.0,459.3 C256.5,462.0 261.0,467.0 261.3,470.0 C261.6,473.0 259.9,481.8 258.7,483.3 C257.5,484.8 253.0,483.7 252.0,482.0 C251.0,480.3 250.7,472.8 250.7,470.0 C250.7,467.2 252.3,461.6 252.0,459.3 C251.7,457.0 248.3,453.3 248.0,451.3 C247.7,449.3 247.8,445.3 249.3,443.3Z M222.7,356.7 C223.7,355.4 230.5,353.7 232.0,354.0 C233.5,354.3 235.0,357.6 234.7,359.3 C234.4,361.0 230.6,366.6 229.3,367.3 C228.0,368.0 224.8,366.0 224.0,364.7 C223.2,363.4 221.7,358.0 222.7,356.7Z M253.3,336.7 C253.8,336.5 255.6,342.1 257.3,343.3 C259.0,344.5 266.0,345.0 266.7,346.0 C267.4,347.0 263.9,350.5 262.7,351.3 C261.5,352.1 258.5,353.5 257.3,352.7 C256.1,351.9 253.8,346.7 253.3,344.7 C252.8,342.7 252.8,336.9 253.3,336.7Z M326.7,324.7 C327.5,323.7 331.5,332.2 333.3,334.0 C335.1,335.8 340.1,337.0 341.3,339.3 C342.5,341.6 342.0,349.7 342.7,352.7 C343.4,355.7 346.4,360.3 346.7,363.3 C347.0,366.3 346.3,374.7 345.3,376.7 C344.3,378.7 340.2,380.3 338.7,379.3 C337.2,378.3 334.3,371.7 333.3,368.7 C332.3,365.7 331.5,358.6 330.7,355.3 C329.9,352.0 327.2,345.8 326.7,342.0 C326.2,338.2 325.9,325.7 326.7,324.7Z M366.7,328.7 C367.4,327.9 371.1,330.7 373.3,330.0 C375.5,329.3 381.3,324.5 384.0,323.3 C386.7,322.1 392.7,320.4 394.7,320.7 C396.7,321.0 399.3,323.0 400.0,326.0 C400.7,329.0 401.7,341.9 400.0,344.7 C398.3,347.5 389.4,348.7 386.7,348.7 C384.0,348.7 379.9,346.2 378.7,344.7 C377.5,343.2 378.6,337.7 377.3,336.7 C376.0,335.7 369.3,337.7 368.0,336.7 C366.7,335.7 366.0,329.5 366.7,328.7Z M242.7,383.3 C243.4,382.3 249.4,381.3 250.7,382.0 C252.0,382.7 254.0,387.7 253.3,388.7 C252.6,389.7 246.6,390.7 245.3,390.0 C244.0,389.3 242.0,384.3 242.7,383.3Z M257.3,386.0 C259.0,384.8 269.8,381.5 272.0,382.0 C274.2,382.5 275.4,388.7 274.7,390.0 C274.0,391.3 268.7,392.5 266.7,392.7 C264.7,392.9 259.9,392.1 258.7,391.3 C257.5,390.5 255.6,387.2 257.3,386.0Z M273.3,398.0 C274.3,396.3 280.5,392.7 282.7,392.7 C284.9,392.7 290.0,396.0 290.7,398.0 C291.4,400.0 289.3,407.0 288.0,408.7 C286.7,410.4 281.7,411.6 280.0,411.3 C278.3,411.0 275.5,407.7 274.7,406.0 C273.9,404.3 272.3,399.7 273.3,398.0Z M293.3,382.0 C294.8,381.2 303.4,380.4 306.7,380.7 C310.0,381.0 317.7,383.9 320.0,384.7 C322.3,385.5 325.0,386.0 325.3,387.3 C325.6,388.6 324.4,394.6 322.7,395.3 C321.0,396.0 314.7,393.4 312.0,392.7 C309.3,392.0 303.5,390.7 301.3,390.0 C299.1,389.3 295.7,388.3 294.7,387.3 C293.7,386.3 291.8,382.8 293.3,382.0Z M282.7,411.3 C283.9,409.6 291.6,407.7 293.3,408.7 C295.0,409.7 296.3,417.0 296.0,419.3 C295.7,421.6 292.2,427.0 290.7,427.3 C289.2,427.6 285.0,424.0 284.0,422.0 C283.0,420.0 281.5,413.0 282.7,411.3Z M298.7,398.0 C299.9,396.7 307.0,397.0 309.3,398.0 C311.6,399.0 316.0,403.7 317.3,406.0 C318.6,408.3 320.3,414.4 320.0,416.7 C319.7,419.0 316.4,424.7 314.7,424.7 C313.0,424.7 308.5,418.7 306.7,416.7 C304.9,414.7 301.0,411.0 300.0,408.7 C299.0,406.4 297.5,399.3 298.7,398.0Z M297.3,424.7 C298.6,423.7 306.5,421.7 309.3,422.0 C312.1,422.3 318.2,428.0 320.0,427.3 C321.8,426.6 323.2,416.7 324.0,416.7 C324.8,416.7 327.2,424.3 326.7,427.3 C326.2,430.3 321.8,438.7 320.0,440.7 C318.2,442.7 313.7,444.0 312.0,443.3 C310.3,442.6 308.4,437.0 306.7,435.3 C305.0,433.6 299.9,431.3 298.7,430.0 C297.5,428.7 296.0,425.7 297.3,424.7Z M289.3,438.0 C290.1,437.5 294.5,439.4 296.0,440.7 C297.5,442.0 301.6,447.5 301.3,448.7 C301.0,449.9 294.8,450.5 293.3,450.0 C291.8,449.5 289.8,446.2 289.3,444.7 C288.8,443.2 288.5,438.5 289.3,438.0Z M326.7,392.7 C327.7,392.0 335.2,393.0 336.0,394.0 C336.8,395.0 334.3,400.0 333.3,400.7 C332.3,401.4 328.8,400.3 328.0,399.3 C327.2,398.3 325.7,393.4 326.7,392.7Z M332.0,438.0 C332.7,435.0 334.5,427.0 336.0,424.7 C337.5,422.4 341.7,419.6 344.0,419.3 C346.3,419.0 353.0,420.3 354.7,422.0 C356.4,423.7 357.6,430.7 357.3,432.7 C357.0,434.7 353.7,437.7 352.0,438.0 C350.3,438.3 345.3,434.6 344.0,435.3 C342.7,436.0 340.6,441.3 341.3,443.3 C342.0,445.3 348.5,448.6 349.3,451.3 C350.1,454.0 349.0,462.7 348.0,464.7 C347.0,466.7 342.8,468.0 341.3,467.3 C339.8,466.6 337.3,461.6 336.0,459.3 C334.7,457.0 331.2,451.4 330.7,448.7 C330.2,446.0 331.3,441.0 332.0,438.0Z M352.0,454.0 C351.7,451.7 356.0,443.6 357.3,443.3 C358.6,443.0 360.7,450.6 362.7,451.3 C364.7,452.0 371.0,449.7 373.3,448.7 C375.6,447.7 380.6,446.0 381.3,443.3 C382.0,440.6 378.0,430.0 378.7,427.3 C379.4,424.6 384.9,421.7 386.7,422.0 C388.5,422.3 392.6,427.0 393.3,430.0 C394.0,433.0 393.2,443.0 392.0,446.0 C390.8,449.0 386.3,452.3 384.0,454.0 C381.7,455.7 376.3,458.3 373.3,459.3 C370.3,460.3 362.7,462.7 360.0,462.0 C357.3,461.3 352.3,456.3 352.0,454.0Z M389.3,398.0 C390.5,394.7 393.4,382.6 394.7,379.3 C396.0,376.0 398.3,371.6 400.0,371.3 C401.7,371.0 407.3,371.0 408.0,376.7 C408.7,382.4 406.6,410.4 405.3,416.7 C404.0,423.0 399.0,427.3 397.3,427.3 C395.6,427.3 393.7,417.7 392.0,416.7 C390.3,415.7 384.8,420.6 384.0,419.3 C383.2,418.0 384.6,408.7 385.3,406.0 C386.0,403.3 388.1,401.3 389.3,398.0Z M346.7,400.7 C347.7,399.0 355.6,397.0 357.3,398.0 C359.0,399.0 361.0,407.0 360.0,408.7 C359.0,410.4 351.0,412.3 349.3,411.3 C347.6,410.3 345.7,402.4 346.7,400.7Z M324.0,455.3 C324.8,453.6 330.8,452.7 332.0,454.0 C333.2,455.3 334.1,464.3 333.3,466.0 C332.5,467.7 326.5,468.6 325.3,467.3 C324.1,466.0 323.2,457.0 324.0,455.3Z M269.3,414.5 C269.8,413.7 273.4,413.3 274.1,414.0 C274.8,414.7 275.2,419.3 274.7,420.1 C274.2,420.9 270.6,421.4 269.9,420.7 C269.2,420.0 268.8,415.3 269.3,414.5Z M298.7,471.9 C299.2,471.2 302.8,470.8 303.5,471.3 C304.2,471.8 304.5,475.4 304.0,476.1 C303.5,476.8 299.9,477.2 299.2,476.7 C298.5,476.2 298.2,472.6 298.7,471.9Z M326.0,326.0 C326.7,325.0 332.0,332.7 334.0,334.0 C336.0,335.3 341.2,335.0 342.0,336.7 C342.8,338.4 340.4,344.0 340.7,347.3 C341.0,350.6 343.5,359.3 344.7,363.3 C345.9,367.3 350.0,376.0 350.0,379.3 C350.0,382.6 346.4,390.3 344.7,390.0 C343.0,389.7 338.4,380.7 336.7,376.7 C335.0,372.7 332.3,362.3 331.3,358.0 C330.3,353.7 329.4,346.0 328.7,342.0 C328.0,338.0 325.3,327.0 326.0,326.0Z M370.0,334.0 C370.3,332.7 376.8,330.0 379.3,328.7 C381.8,327.4 387.7,323.6 390.0,323.3 C392.3,323.0 397.3,324.3 398.0,326.0 C398.7,327.7 396.6,334.4 395.3,336.7 C394.0,339.0 389.3,343.4 387.3,344.7 C385.3,346.0 380.6,348.0 379.3,347.3 C378.0,346.6 377.9,341.0 376.7,339.3 C375.5,337.6 369.7,335.3 370.0,334.0Z M411.3,350.0 C412.0,348.2 419.4,344.0 420.7,344.7 C422.0,345.4 422.7,353.5 422.0,355.3 C421.3,357.1 416.6,360.0 415.3,359.3 C414.0,358.6 410.6,351.8 411.3,350.0Z M406.0,368.7 C408.0,367.9 414.4,365.7 416.7,366.0 C419.0,366.3 423.9,369.0 424.7,371.3 C425.5,373.6 424.6,382.4 423.3,384.7 C422.0,387.0 415.8,390.3 414.0,390.0 C412.2,389.7 410.7,383.3 408.7,382.0 C406.7,380.7 399.0,380.5 398.0,379.3 C397.0,378.1 399.7,374.0 400.7,372.7 C401.7,371.4 404.0,369.5 406.0,368.7Z M387.3,395.3 C389.3,392.6 395.0,390.0 398.0,390.0 C401.0,390.0 409.0,393.6 411.3,395.3 C413.6,397.0 416.7,401.3 416.7,403.3 C416.7,405.3 413.3,409.6 411.3,411.3 C409.3,413.0 401.7,414.7 400.7,416.7 C399.7,418.7 404.0,425.0 403.3,427.3 C402.6,429.6 397.3,435.0 395.3,435.3 C393.3,435.6 388.0,432.3 387.3,430.0 C386.6,427.7 390.7,419.0 390.0,416.7 C389.3,414.4 382.3,414.0 382.0,411.3 C381.7,408.6 385.3,398.0 387.3,395.3Z M379.3,416.7 C381.0,414.4 386.6,417.6 387.3,419.3 C388.0,421.0 384.4,427.3 384.7,430.0 C385.0,432.7 390.7,438.4 390.0,440.7 C389.3,443.0 381.3,449.0 379.3,448.7 C377.3,448.4 374.0,442.0 374.0,438.0 C374.0,434.0 377.6,419.0 379.3,416.7Z M310.0,387.3 C312.0,384.6 318.4,394.6 320.7,395.3 C323.0,396.0 327.0,392.4 328.7,392.7 C330.4,393.0 334.3,396.0 334.0,398.0 C333.7,400.0 327.7,405.7 326.0,408.7 C324.3,411.7 320.7,418.7 320.7,422.0 C320.7,425.3 326.0,432.0 326.0,435.3 C326.0,438.6 322.7,446.4 320.7,448.7 C318.7,451.0 312.0,458.0 310.0,454.0 C308.0,450.0 304.7,425.0 304.7,416.7 C304.7,408.4 308.0,390.0 310.0,387.3Z M332.7,435.3 C333.5,431.3 337.1,424.0 339.3,422.0 C341.5,420.0 348.0,418.3 350.0,419.3 C352.0,420.3 355.0,427.0 355.3,430.0 C355.6,433.0 351.7,440.6 352.7,443.3 C353.7,446.0 360.6,451.0 363.3,451.3 C366.0,451.6 372.0,445.7 374.0,446.0 C376.0,446.3 379.6,452.0 379.3,454.0 C379.0,456.0 373.6,460.3 371.3,462.0 C369.0,463.7 363.4,467.6 360.7,467.3 C358.0,467.0 352.7,459.6 350.0,459.3 C347.3,459.0 341.5,465.4 339.3,464.7 C337.1,464.0 333.5,457.7 332.7,454.0 C331.9,450.3 331.9,439.3 332.7,435.3Z M347.3,403.3 C347.5,401.5 353.6,395.6 355.3,395.3 C357.0,395.0 360.9,398.9 360.7,400.7 C360.5,402.5 355.7,409.7 354.0,410.0 C352.3,410.3 347.1,405.1 347.3,403.3Z M505.2,363.3 C505.8,361.8 510.4,360.7 511.3,362.0 C512.2,363.3 513.3,372.0 512.7,373.5 C512.1,375.0 507.7,375.3 506.8,374.0 C505.9,372.7 504.6,364.8 505.2,363.3Z M491.3,373.5 C491.8,373.0 495.4,372.4 496.1,372.7 C496.8,373.0 497.2,375.6 496.7,376.1 C496.2,376.6 492.6,377.0 491.9,376.7 C491.2,376.4 490.8,374.0 491.3,373.5Z M506.0,385.2 C507.0,384.5 513.6,384.2 514.8,384.7 C516.0,385.2 516.3,388.8 515.3,389.5 C514.3,390.2 508.0,390.5 506.8,390.0 C505.6,389.5 505.0,385.9 506.0,385.2Z M496.7,411.3 C496.9,409.6 502.0,403.6 503.3,403.3 C504.6,403.0 507.5,407.0 507.3,408.7 C507.1,410.4 503.3,416.4 502.0,416.7 C500.7,417.0 496.5,413.0 496.7,411.3Z M515.3,422.0 C515.5,420.0 519.0,413.5 520.7,412.7 C522.4,411.9 527.9,413.8 528.7,415.3 C529.5,416.8 528.5,423.0 527.3,424.7 C526.1,426.4 520.8,429.0 519.3,428.7 C517.8,428.4 515.1,424.0 515.3,422.0Z M496.7,455.3 C497.5,453.8 503.2,449.5 504.7,450.0 C506.2,450.5 509.0,457.3 508.7,459.3 C508.4,461.3 503.7,464.5 502.0,466.0 C500.3,467.5 495.8,471.8 495.3,471.3 C494.8,470.8 497.8,464.0 498.0,462.0 C498.2,460.0 495.9,456.8 496.7,455.3Z M623.3,430.5 C623.7,430.0 626.3,429.6 626.8,430.0 C627.3,430.4 627.7,433.0 627.3,433.5 C626.9,434.0 624.4,434.4 623.9,434.0 C623.4,433.6 622.9,431.0 623.3,430.5Z M606.5,505.5 C607.3,504.7 612.6,504.0 613.5,504.7 C614.4,505.4 614.8,510.0 614.0,510.8 C613.2,511.6 608.2,512.0 607.3,511.3 C606.4,510.6 605.7,506.3 606.5,505.5Z M602.0,530.0 C603.7,528.5 612.5,526.1 614.0,527.3 C615.5,528.5 615.7,537.8 614.0,539.3 C612.3,540.8 602.2,540.5 600.7,539.3 C599.2,538.1 600.3,531.5 602.0,530.0Z M538.0,516.7 C538.4,516.0 541.6,514.8 542.0,515.3 C542.4,515.8 541.9,520.0 541.5,520.7 C541.1,521.4 538.9,521.2 538.5,520.7 C538.1,520.2 537.6,517.4 538.0,516.7Z M439.3,335.3 C439.1,334.1 441.8,332.5 443.3,332.7 C444.8,332.9 450.6,335.2 451.3,336.7 C452.0,338.2 449.5,344.0 448.7,344.7 C447.9,345.4 445.9,343.2 444.7,342.0 C443.5,340.8 439.5,336.5 439.3,335.3Z M599.3,533.3 C600.1,531.5 604.3,528.7 606.0,528.0 C607.7,527.3 612.0,526.5 612.7,528.0 C613.4,529.5 612.1,537.3 611.3,540.0 C610.5,542.7 607.2,547.0 606.0,549.3 C604.8,551.6 603.0,558.2 602.0,558.7 C601.0,559.2 598.3,555.3 598.0,553.3 C597.7,551.3 599.1,545.2 599.3,542.7 C599.5,540.2 598.5,535.1 599.3,533.3Z M594.5,571.5 C595.1,570.3 598.8,569.7 599.3,570.7 C599.8,571.7 599.4,578.3 598.8,579.5 C598.2,580.7 594.8,581.0 594.3,580.0 C593.8,579.0 593.9,572.7 594.5,571.5Z M547.9,534.1 C548.4,533.4 551.5,532.8 552.1,533.3 C552.7,533.8 553.2,537.4 552.7,538.1 C552.2,538.8 548.7,539.2 548.1,538.7 C547.5,538.2 547.4,534.8 547.9,534.1Z M540.7,574.7 C541.3,572.9 543.5,568.0 544.7,566.7 C545.9,565.4 549.0,563.7 550.0,564.0 C551.0,564.3 551.7,569.8 552.7,569.3 C553.7,568.8 556.8,561.0 558.0,560.0 C559.2,559.0 562.0,559.8 562.0,561.3 C562.0,562.8 559.0,570.0 558.0,572.0 C557.0,574.0 554.8,577.3 554.0,577.3 C553.2,577.3 552.5,571.5 551.3,572.0 C550.1,572.5 546.1,580.1 544.7,581.3 C543.3,582.5 540.4,582.1 539.9,581.3 C539.4,580.5 540.1,576.5 540.7,574.7Z M465.2,554.1 C465.7,553.3 468.9,552.6 469.5,553.3 C470.1,554.0 470.5,558.7 470.0,559.5 C469.5,560.3 466.3,560.7 465.7,560.0 C465.1,559.3 464.7,554.9 465.2,554.1Z M466.0,604.8 C466.7,604.3 471.3,603.7 472.1,604.0 C472.9,604.3 473.4,607.0 472.7,607.5 C472.0,608.0 467.6,608.3 466.8,608.0 C466.0,607.7 465.3,605.3 466.0,604.8Z M373.2,574.7 C373.8,573.7 378.8,572.6 379.9,573.3 C381.0,574.0 382.6,579.0 382.0,580.0 C381.4,581.0 376.4,582.0 375.3,581.3 C374.2,580.6 372.6,575.7 373.2,574.7Z M358.5,593.3 C359.4,592.1 365.4,591.2 366.5,592.0 C367.6,592.8 368.2,598.8 367.3,600.0 C366.4,601.2 360.4,602.1 359.3,601.3 C358.2,600.5 357.6,594.5 358.5,593.3Z M384.7,593.3 C385.2,592.9 388.8,592.5 389.5,592.8 C390.2,593.1 390.5,595.6 390.0,596.0 C389.5,596.4 385.9,596.3 385.2,596.0 C384.5,595.7 384.2,593.7 384.7,593.3Z M442.0,628.0 C441.8,626.5 445.2,621.0 446.0,621.3 C446.8,621.6 447.5,629.2 448.7,630.7 C449.9,632.2 454.3,632.3 455.3,633.3 C456.3,634.3 457.4,637.9 456.7,638.7 C456.0,639.5 451.2,640.7 450.0,640.0 C448.8,639.3 448.3,634.8 447.3,633.3 C446.3,631.8 442.2,629.5 442.0,628.0Z M454.0,649.3 C455.0,648.6 466.6,647.0 467.3,647.5 C468.0,648.0 461.0,653.1 459.3,653.3 C457.6,653.5 453.0,650.0 454.0,649.3Z M412.7,654.7 C413.3,653.6 415.5,651.2 416.7,651.5 C417.9,651.8 420.7,657.1 422.0,657.3 C423.3,657.5 425.6,653.6 427.3,653.3 C429.0,653.0 433.3,654.9 435.3,654.7 C437.3,654.5 441.8,651.5 443.3,652.0 C444.8,652.5 448.0,657.4 447.3,658.7 C446.6,660.0 440.2,662.4 438.0,662.7 C435.8,663.0 432.0,662.0 430.0,661.3 C428.0,660.6 423.7,657.0 422.0,657.3 C420.3,657.6 418.0,663.7 416.7,664.0 C415.4,664.3 412.4,661.2 411.9,660.0 C411.4,658.8 412.1,655.8 412.7,654.7Z M439.9,670.7 C439.5,669.9 442.4,665.2 443.3,665.3 C444.2,665.4 447.2,670.8 446.8,671.5 C446.4,672.2 440.3,671.5 439.9,670.7Z M423.3,690.7 C423.5,688.9 427.5,683.0 428.7,682.7 C429.9,682.4 431.5,687.5 432.7,688.0 C433.9,688.5 436.5,686.5 438.0,686.7 C439.5,686.9 444.7,688.3 444.7,689.3 C444.7,690.3 439.3,693.2 438.0,694.7 C436.7,696.2 435.3,701.0 434.0,701.3 C432.7,701.6 428.6,698.6 427.3,697.3 C426.0,696.0 423.1,692.5 423.3,690.7Z M414.5,700.0 C414.4,698.5 417.1,697.5 418.0,698.7 C418.9,699.9 421.9,707.8 422.0,709.3 C422.1,710.8 419.7,711.9 418.8,710.7 C417.9,709.5 414.6,701.5 414.5,700.0Z M417.2,712.0 C416.9,710.7 419.4,709.7 420.7,710.7 C422.0,711.7 427.0,718.7 427.3,720.0 C427.6,721.3 424.6,722.3 423.3,721.3 C422.0,720.3 417.5,713.3 417.2,712.0Z M393.2,704.8 C393.8,704.3 398.0,703.7 398.8,704.0 C399.6,704.3 399.9,707.0 399.3,707.5 C398.7,708.0 394.5,708.3 393.7,708.0 C392.9,707.7 392.6,705.3 393.2,704.8Z M378.3,676.8 C378.6,676.1 381.0,675.5 381.5,676.0 C382.0,676.5 382.3,680.1 382.0,680.8 C381.7,681.5 379.3,681.8 378.8,681.3 C378.3,680.8 378.0,677.5 378.3,676.8Z" fill="#a9c976"/>
<path d="M234.0,392.0 C234.7,390.9 240.8,388.8 242.0,389.3 C243.2,389.8 244.0,394.9 243.3,396.0 C242.6,397.1 237.9,398.5 236.7,398.0 C235.5,397.5 233.3,393.1 234.0,392.0Z M275.3,385.3 C275.7,384.2 279.1,383.3 280.0,384.0 C280.9,384.7 283.1,389.6 282.7,390.7 C282.3,391.8 277.6,393.4 276.7,392.7 C275.8,392.0 274.9,386.4 275.3,385.3Z M259.3,392.0 C259.9,391.2 264.2,390.5 264.7,391.3 C265.2,392.1 263.9,397.9 263.3,398.7 C262.7,399.5 260.5,398.8 260.0,398.0 C259.5,397.2 258.7,392.8 259.3,392.0Z M283.3,405.3 C283.7,403.3 286.8,404.7 287.3,406.7 C287.8,408.7 287.7,419.3 287.3,421.3 C286.9,423.3 284.5,424.7 284.0,422.7 C283.5,420.7 282.9,407.3 283.3,405.3Z M297.3,412.0 C297.7,411.2 300.8,410.7 301.3,411.3 C301.8,411.9 301.7,415.9 301.3,416.7 C300.9,417.4 298.5,417.9 298.0,417.3 C297.5,416.7 296.9,412.8 297.3,412.0Z M296.7,442.0 C297.1,441.3 299.6,440.7 300.0,441.3 C300.4,441.9 300.4,446.0 300.0,446.7 C299.6,447.4 297.1,447.3 296.7,446.7 C296.3,446.1 296.3,442.7 296.7,442.0Z M242.0,441.3 C242.5,440.9 245.6,442.0 246.0,442.7 C246.4,443.4 245.8,446.3 245.3,446.7 C244.8,447.1 242.4,446.7 242.0,446.0 C241.6,445.3 241.5,441.7 242.0,441.3Z M223.3,442.7 C223.9,442.3 228.1,442.8 228.7,443.3 C229.3,443.8 228.6,446.3 228.0,446.7 C227.4,447.1 224.6,447.2 224.0,446.7 C223.4,446.2 222.7,443.1 223.3,442.7Z M260.7,480.0 C261.4,479.6 265.4,480.1 266.0,480.7 C266.6,481.3 266.0,484.3 265.3,484.7 C264.6,485.1 261.3,484.6 260.7,484.0 C260.1,483.4 260.0,480.4 260.7,480.0Z M176.0,394.7 C176.5,393.6 179.7,392.5 180.0,393.3 C180.3,394.1 179.2,400.2 178.7,401.3 C178.2,402.4 176.3,402.8 176.0,402.0 C175.7,401.2 175.5,395.8 176.0,394.7Z M164.7,417.3 C165.3,416.4 169.9,417.5 170.7,418.7 C171.5,419.9 171.9,425.8 171.3,426.7 C170.7,427.6 166.8,427.2 166.0,426.0 C165.2,424.8 164.1,418.2 164.7,417.3Z M169.3,430.0 C170.2,429.3 176.2,428.8 177.3,429.3 C178.4,429.8 178.9,433.3 178.0,434.0 C177.1,434.7 171.1,435.2 170.0,434.7 C168.9,434.2 168.4,430.7 169.3,430.0Z M84.0,234.0 L83.3,224.0 L86.0,218.7 L88.0,213.3 L97.3,212.0 L95.3,205.3 L87.7,204.3 L88.8,194.7 L100.0,192.7 L101.1,200.0 L110.0,196.3 L107.3,190.7 L111.3,187.3 L124.7,186.9 L126.0,197.3 L128.0,210.7 L142.7,217.3 L160.0,209.3 L173.3,202.7 L176.0,196.7 L189.3,192.0 L189.3,185.3 L185.3,182.7 L182.7,173.3 L181.3,164.0 L188.0,162.4 L200.0,156.0 L208.0,154.7 L220.0,153.3 L219.3,164.0 L223.3,178.7 L221.3,186.7 L226.7,193.3 L217.3,200.0 L216.0,206.7 L208.7,210.7 L198.7,204.0 L192.0,206.7 L185.3,209.3 L173.3,213.3 L169.3,220.0 L168.0,232.0 L162.7,230.7 L164.0,222.7 L152.0,223.3 L144.0,222.7 L136.0,225.3 L133.3,228.0 L138.7,232.0 L128.0,236.0 L122.7,241.3 L112.0,246.7 L101.3,248.0 L93.3,246.7 L89.3,238.7Z M229.3,148.7 L237.3,142.7 L244.7,141.3 L242.0,135.7 L250.4,134.9 L246.0,141.3 L252.7,146.0 L252.7,154.7 L245.3,162.7 L237.3,160.0 L232.0,157.3Z M230.7,244.0 C230.7,241.2 232.9,235.6 234.7,233.3 C236.5,231.0 243.0,227.3 245.3,225.3 C247.6,223.3 250.6,219.1 253.3,217.3 C256.0,215.5 263.4,211.7 266.7,210.7 C270.0,209.7 277.0,209.1 280.0,209.3 C283.0,209.5 288.4,210.5 290.7,212.0 C293.0,213.5 297.2,218.6 298.7,221.3 C300.2,224.0 302.4,230.8 302.7,233.3 C303.0,235.8 302.5,239.3 301.3,241.3 C300.1,243.3 295.3,248.1 293.3,249.3 C291.3,250.5 287.0,251.4 285.3,250.7 C283.6,250.0 281.7,245.3 280.0,244.0 C278.3,242.7 274.3,241.2 272.0,240.0 C269.7,238.8 263.6,235.0 261.3,234.7 C259.0,234.4 255.0,236.0 253.3,237.3 C251.6,238.6 249.7,242.8 248.0,245.3 C246.3,247.8 241.7,256.0 240.0,257.3 C238.3,258.6 235.9,257.7 234.7,256.0 C233.5,254.3 230.7,246.8 230.7,244.0Z M320.0,190.7 C320.5,188.3 321.0,185.4 324.0,184.8 C327.0,184.2 341.2,184.8 344.0,185.9 C346.8,187.0 345.4,191.0 346.7,193.3 C348.0,195.6 353.0,201.3 354.7,204.0 C356.4,206.7 359.8,212.2 360.0,214.7 C360.2,217.2 357.7,222.7 356.0,224.0 C354.3,225.3 348.9,226.1 346.7,225.3 C344.5,224.5 340.7,219.0 338.7,217.3 C336.7,215.6 332.9,212.3 330.7,212.0 C328.5,211.7 322.6,215.7 321.3,214.7 C320.0,213.7 320.2,207.0 320.0,204.0 C319.8,201.0 319.5,193.1 320.0,190.7Z M322.7,220.0 C323.9,218.8 329.4,217.7 330.7,218.7 C332.0,219.7 333.3,225.7 333.3,228.0 C333.3,230.3 331.9,236.3 330.7,237.3 C329.5,238.3 325.2,237.2 324.0,236.0 C322.8,234.8 321.5,230.0 321.3,228.0 C321.1,226.0 321.5,221.2 322.7,220.0Z M372.0,198.7 C372.8,196.7 375.8,192.8 377.3,193.3 C378.8,193.8 383.0,200.5 384.0,202.7 C385.0,204.9 386.3,209.2 385.3,210.7 C384.3,212.2 377.8,214.9 376.0,214.7 C374.2,214.5 371.7,211.3 371.2,209.3 C370.7,207.3 371.2,200.7 372.0,198.7Z M121.3,293.3 C122.6,292.0 126.7,290.8 128.0,292.0 C129.3,293.2 132.0,300.0 132.0,302.7 C132.0,305.4 129.5,311.3 128.0,313.3 C126.5,315.3 121.7,317.4 120.0,318.7 C118.3,320.0 115.9,323.8 114.7,324.0 C113.5,324.2 110.9,321.7 110.7,320.0 C110.5,318.3 112.5,312.9 113.3,310.7 C114.1,308.5 116.3,304.9 117.3,302.7 C118.3,300.5 120.0,294.6 121.3,293.3Z M89.3,284.0 C90.3,281.3 94.8,280.6 96.0,281.3 C97.2,282.0 99.0,287.0 98.7,289.3 C98.4,291.6 94.6,298.3 93.3,300.0 C92.0,301.7 88.5,304.7 88.0,302.7 C87.5,300.7 88.3,286.7 89.3,284.0Z M122.7,264.0 C123.5,262.7 129.6,261.7 130.7,262.7 C131.8,263.7 132.0,270.7 131.2,272.0 C130.4,273.3 125.1,274.3 124.0,273.3 C122.9,272.3 121.9,265.3 122.7,264.0Z M133.3,245.3 C134.6,244.2 147.1,243.3 149.3,244.0 C151.5,244.7 152.0,249.6 150.7,250.7 C149.4,251.8 140.9,253.2 138.7,252.5 C136.5,251.8 132.0,246.4 133.3,245.3Z M108.0,274.7 C109.0,273.7 116.0,272.6 117.3,273.3 C118.6,274.0 119.7,279.0 118.7,280.0 C117.7,281.0 110.6,282.0 109.3,281.3 C108.0,280.6 107.0,275.7 108.0,274.7Z M241.3,300.0 C242.5,298.5 248.9,297.0 250.7,297.3 C252.5,297.6 256.0,301.2 256.0,302.7 C256.0,304.2 252.5,308.5 250.7,309.3 C248.9,310.1 242.5,310.5 241.3,309.3 C240.1,308.1 240.1,301.5 241.3,300.0Z M264.0,300.0 C265.3,298.0 270.2,294.4 272.0,294.7 C273.8,295.0 278.0,300.4 278.7,302.7 C279.4,305.0 278.8,311.6 277.3,313.3 C275.8,315.0 268.7,316.3 266.7,316.0 C264.7,315.7 261.6,312.7 261.3,310.7 C261.0,308.7 262.7,302.0 264.0,300.0Z M302.7,284.0 C303.8,282.5 307.8,279.7 309.3,280.0 C310.8,280.3 314.2,284.5 314.7,286.7 C315.2,288.9 314.6,295.8 313.3,297.3 C312.0,298.8 305.6,299.4 304.0,298.7 C302.4,298.0 301.0,293.8 300.8,292.0 C300.6,290.2 301.6,285.5 302.7,284.0Z M344.0,300.0 C345.0,298.7 353.0,296.6 354.7,297.3 C356.4,298.0 358.3,304.0 357.3,305.3 C356.3,306.6 348.4,308.7 346.7,308.0 C345.0,307.3 343.0,301.3 344.0,300.0Z M342.7,314.7 C343.7,312.9 349.5,311.6 350.7,313.3 C351.9,315.0 353.0,326.2 352.0,328.0 C351.0,329.8 343.9,329.7 342.7,328.0 C341.5,326.3 341.7,316.5 342.7,314.7Z M396.9,162.7 C397.3,160.4 400.4,153.3 401.5,153.3 C402.6,153.3 405.6,160.4 406.0,162.7 C406.4,165.0 405.6,170.4 404.7,171.5 C403.8,172.6 399.5,172.6 398.5,171.5 C397.5,170.4 396.5,165.0 396.9,162.7Z M372.7,194.7 C373.5,192.4 376.5,191.5 378.0,193.3 C379.5,195.1 384.5,206.6 384.7,209.3 C384.9,212.0 380.9,214.4 379.3,214.7 C377.7,215.0 372.7,214.5 371.9,212.0 C371.1,209.5 371.9,197.0 372.7,194.7Z M483.3,270.7 C483.6,269.4 487.2,267.7 488.7,268.0 C490.2,268.3 494.6,272.0 495.3,273.3 C496.0,274.6 495.2,278.0 494.0,278.7 C492.8,279.4 487.3,279.7 486.0,278.7 C484.7,277.7 483.0,272.0 483.3,270.7Z M378.0,294.7 C379.7,292.9 386.8,291.0 390.0,290.7 C393.2,290.4 401.0,290.5 403.3,292.0 C405.6,293.5 408.2,299.7 408.7,302.7 C409.2,305.7 409.0,313.8 407.3,316.0 C405.6,318.2 397.8,319.0 395.3,320.0 C392.8,321.0 389.1,324.2 387.3,324.0 C385.5,323.8 382.0,321.0 380.7,318.7 C379.4,316.4 377.0,308.3 376.7,305.3 C376.4,302.3 376.3,296.5 378.0,294.7Z M420.7,306.7 C421.2,305.4 426.1,302.4 427.3,302.7 C428.5,303.0 430.5,308.0 430.0,309.3 C429.5,310.6 424.5,313.6 423.3,313.3 C422.1,313.0 420.2,308.0 420.7,306.7Z M486.0,286.7 C486.6,286.3 490.7,286.7 491.3,287.2 C491.9,287.7 491.4,290.3 490.8,290.7 C490.2,291.1 487.1,290.9 486.5,290.4 C485.9,289.9 485.4,287.1 486.0,286.7Z M34.7,327.9 C35.7,326.4 37.7,316.4 40.0,314.0 C42.3,311.6 50.0,310.7 53.3,308.7 C56.6,306.7 64.4,299.3 66.7,298.0 C69.0,296.7 69.7,297.2 72.0,298.0 C74.3,298.8 82.8,302.9 85.3,304.7 C87.8,306.5 91.0,310.4 92.0,312.7 C93.0,315.0 93.5,320.6 93.3,323.3 C93.1,326.0 92.4,332.0 90.7,334.0 C89.0,336.0 83.3,338.5 80.0,339.3 C76.7,340.1 67.3,340.0 64.0,340.7 C60.7,341.4 56.0,343.9 53.3,344.7 C50.6,345.5 45.4,347.6 42.7,347.3 C40.0,347.0 34.5,342.5 32.0,342.0 C29.5,341.5 22.9,344.1 22.7,343.3 C22.5,342.5 29.5,337.5 30.7,335.3 C31.9,333.1 31.5,326.9 32.0,326.0 C32.5,325.1 33.7,329.4 34.7,327.9Z M88.0,342.0 C89.3,340.7 97.3,338.7 101.3,338.0 C105.3,337.3 117.0,337.5 120.0,336.7 C123.0,335.9 123.0,331.5 125.3,331.3 C127.6,331.1 134.4,334.6 138.7,335.3 C143.0,336.0 156.0,336.2 160.0,336.7 C164.0,337.2 169.0,338.0 170.7,339.3 C172.4,340.6 174.0,345.6 173.3,347.3 C172.6,349.0 168.3,352.4 165.3,352.7 C162.3,353.0 152.6,350.7 149.3,350.0 C146.0,349.3 141.7,347.5 138.7,347.3 C135.7,347.1 128.6,348.4 125.3,348.7 C122.0,349.0 115.0,350.2 112.0,350.0 C109.0,349.8 104.0,347.5 101.3,347.3 C98.6,347.1 92.4,349.4 90.7,348.7 C89.0,348.0 86.7,343.3 88.0,342.0Z M112.0,307.3 C114.2,306.0 126.7,306.0 128.0,307.3 C129.3,308.6 124.4,316.0 122.7,318.0 C121.0,320.0 116.2,323.3 114.7,323.3 C113.2,323.3 111.0,320.0 110.7,318.0 C110.4,316.0 109.8,308.6 112.0,307.3Z M62.7,344.7 C64.2,343.4 72.2,341.3 74.7,342.0 C77.2,342.7 82.4,348.0 82.7,350.0 C83.0,352.0 79.1,356.8 77.3,358.0 C75.5,359.2 69.8,360.0 68.0,359.3 C66.2,358.6 63.4,354.5 62.7,352.7 C62.0,350.9 61.2,346.0 62.7,344.7Z M104.0,359.3 C105.0,358.3 112.0,355.0 114.7,355.3 C117.4,355.6 122.6,362.3 125.3,362.0 C128.0,361.7 133.0,353.7 136.0,352.7 C139.0,351.7 148.1,352.7 149.3,354.0 C150.5,355.3 147.3,361.3 145.3,363.3 C143.3,365.3 135.8,369.5 133.3,370.0 C130.8,370.5 127.3,368.0 125.3,367.3 C123.3,366.6 119.6,365.2 117.3,364.7 C115.0,364.2 108.4,364.0 106.7,363.3 C105.0,362.6 103.0,360.3 104.0,359.3Z M169.3,358.0 C169.8,356.0 174.2,352.0 176.0,352.7 C177.8,353.4 183.2,360.3 184.0,363.3 C184.8,366.3 183.7,374.9 182.7,376.7 C181.7,378.5 177.3,379.0 176.0,378.0 C174.7,377.0 172.8,371.2 172.0,368.7 C171.2,366.2 168.8,360.0 169.3,358.0Z M42.7,387.3 C43.7,386.0 50.1,385.2 53.3,384.7 C56.5,384.2 66.0,382.3 68.0,383.3 C70.0,384.3 70.5,390.9 69.3,392.7 C68.1,394.5 61.7,397.7 58.7,398.0 C55.7,398.3 47.3,396.6 45.3,395.3 C43.3,394.0 41.7,388.6 42.7,387.3Z M49.3,366.0 C50.6,365.0 57.2,363.9 58.7,364.7 C60.2,365.5 62.0,371.2 61.3,372.7 C60.6,374.2 55.0,376.7 53.3,376.7 C51.6,376.7 48.5,374.0 48.0,372.7 C47.5,371.4 48.0,367.0 49.3,366.0Z M74.7,407.3 C75.9,406.1 83.8,405.2 85.3,406.0 C86.8,406.8 87.9,412.8 86.7,414.0 C85.5,415.2 77.5,416.1 76.0,415.3 C74.5,414.5 73.5,408.5 74.7,407.3Z M168.0,414.0 C169.8,412.7 177.6,410.7 181.3,410.0 C185.0,409.3 194.3,407.9 197.3,408.7 C200.3,409.5 203.8,414.7 205.3,416.7 C206.8,418.7 210.3,423.2 209.3,424.7 C208.3,426.2 200.1,428.4 197.3,428.7 C194.5,429.0 189.4,428.1 186.7,427.3 C184.0,426.5 178.5,422.8 176.0,422.0 C173.5,421.2 167.7,421.7 166.7,420.7 C165.7,419.7 166.2,415.3 168.0,414.0Z M204.0,439.3 C204.7,437.5 209.2,432.5 210.7,432.7 C212.2,432.9 215.7,438.7 216.0,440.7 C216.3,442.7 214.6,447.9 213.3,448.7 C212.0,449.5 206.5,448.5 205.3,447.3 C204.1,446.1 203.3,441.1 204.0,439.3Z M241.3,411.3 C242.1,408.6 247.9,401.7 250.7,400.7 C253.5,399.7 262.0,401.3 264.0,403.3 C266.0,405.3 265.7,413.7 266.7,416.7 C267.7,419.7 270.2,425.0 272.0,427.3 C273.8,429.6 280.0,433.3 281.3,435.3 C282.6,437.3 283.5,441.3 282.7,443.3 C281.9,445.3 276.7,449.3 274.7,451.3 C272.7,453.3 268.0,457.3 266.7,459.3 C265.4,461.3 265.2,466.0 264.0,467.3 C262.8,468.6 258.3,471.7 257.3,470.0 C256.3,468.3 256.0,457.7 256.0,454.0 C256.0,450.3 258.0,443.7 257.3,440.7 C256.6,437.7 252.4,432.3 250.7,430.0 C249.0,427.7 245.2,424.3 244.0,422.0 C242.8,419.7 240.5,414.0 241.3,411.3Z M280.0,451.3 C281.2,449.8 285.5,452.0 286.7,454.0 C287.9,456.0 289.8,464.6 289.3,467.3 C288.8,470.0 282.9,473.6 282.7,475.3 C282.5,477.0 288.7,479.7 288.0,480.7 C287.3,481.7 279.6,483.6 277.3,483.3 C275.0,483.0 270.6,479.5 269.3,478.0 C268.0,476.5 265.7,472.8 266.7,471.3 C267.7,469.8 275.6,468.5 277.3,466.0 C279.0,463.5 278.8,452.8 280.0,451.3Z M284.0,350.0 C285.3,346.3 291.3,335.7 293.3,334.0 C295.3,332.3 298.3,334.4 300.0,336.7 C301.7,339.0 305.2,348.4 306.7,352.7 C308.2,357.0 311.7,367.8 312.0,371.3 C312.3,374.8 311.6,379.4 309.3,380.7 C307.0,382.0 296.3,382.5 293.3,382.0 C290.3,381.5 286.6,379.0 285.3,376.7 C284.0,374.4 282.9,366.6 282.7,363.3 C282.5,360.0 282.7,353.7 284.0,350.0Z M342.7,339.3 C344.4,337.6 352.5,340.7 354.7,342.0 C356.9,343.3 357.3,349.0 360.0,350.0 C362.7,351.0 372.7,350.2 376.0,350.0 C379.3,349.8 383.7,350.7 386.7,348.7 C389.7,346.7 396.9,334.3 400.0,334.0 C403.1,333.7 410.3,342.7 411.2,346.0 C412.1,349.3 409.0,357.7 407.2,360.7 C405.4,363.7 398.7,367.2 396.5,370.0 C394.3,372.8 391.6,380.3 389.9,383.3 C388.2,386.3 384.7,391.8 383.2,394.0 C381.7,396.2 378.7,398.7 377.9,400.7 C377.1,402.7 376.5,407.2 376.5,410.0 C376.5,412.8 378.1,420.8 377.9,423.3 C377.7,425.8 375.2,428.0 375.2,430.0 C375.2,432.0 377.2,437.1 377.9,439.3 C378.6,441.5 380.8,445.6 380.5,447.3 C380.2,449.0 376.9,452.2 375.2,452.7 C373.5,453.2 369.2,451.8 367.2,451.3 C365.2,450.8 360.4,450.2 359.2,448.7 C358.0,447.2 357.4,441.8 357.9,439.3 C358.4,436.8 362.2,431.0 363.2,428.7 C364.2,426.4 365.4,423.0 365.9,420.7 C366.4,418.4 367.0,413.0 367.2,410.0 C367.4,407.0 368.5,398.7 367.2,396.7 C365.9,394.7 358.3,395.3 356.5,394.0 C354.7,392.7 353.2,389.0 352.5,386.0 C351.8,383.0 351.9,372.8 351.2,370.0 C350.5,367.2 347.9,365.1 346.7,363.3 C345.5,361.5 341.8,358.3 341.3,355.3 C340.8,352.3 341.0,341.0 342.7,339.3Z M342.7,316.7 C343.5,314.9 349.5,312.7 350.7,314.0 C351.9,315.3 352.8,325.5 352.0,327.3 C351.2,329.1 345.2,330.0 344.0,328.7 C342.8,327.4 341.9,318.5 342.7,316.7Z M377.3,298.0 C378.0,295.0 380.2,294.3 384.0,294.0 C387.8,293.7 405.0,292.3 408.0,295.3 C411.0,298.3 411.0,314.3 408.0,318.0 C405.0,321.7 387.7,324.7 384.0,324.7 C380.3,324.7 379.5,321.3 378.7,318.0 C377.9,314.7 376.6,301.0 377.3,298.0Z M261.3,308.7 C263.1,307.8 275.5,307.9 277.3,308.7 C279.1,309.5 277.8,314.4 276.0,315.3 C274.2,316.2 264.5,316.7 262.7,315.9 C260.9,315.1 259.5,309.6 261.3,308.7Z M224.0,400.7 C224.6,399.7 228.7,400.0 229.3,401.2 C229.9,402.4 229.4,409.0 228.8,410.0 C228.2,411.0 225.1,410.4 224.5,409.2 C223.9,408.0 223.4,401.7 224.0,400.7Z M366.7,471.3 C367.5,470.0 373.5,469.0 374.7,470.0 C375.9,471.0 376.8,478.0 376.0,479.3 C375.2,480.6 369.2,481.7 368.0,480.7 C366.8,479.7 365.9,472.6 366.7,471.3Z M373.3,488.7 C374.5,487.0 382.8,484.0 384.0,484.7 C385.2,485.4 383.9,492.3 382.7,494.0 C381.5,495.7 375.9,498.7 374.7,498.0 C373.5,497.3 372.1,490.4 373.3,488.7Z M357.9,490.0 C358.5,488.7 362.4,487.7 363.2,488.7 C364.0,489.7 364.6,496.7 364.0,498.0 C363.4,499.3 359.5,500.3 358.7,499.3 C357.9,498.3 357.3,491.3 357.9,490.0Z M355.2,466.0 C355.8,465.0 359.7,463.9 360.5,464.7 C361.3,465.5 361.9,471.1 361.3,472.1 C360.7,473.1 356.8,473.5 356.0,472.7 C355.2,471.9 354.6,467.0 355.2,466.0Z M344.0,470.5 C344.6,469.8 348.6,469.4 349.3,470.0 C350.0,470.6 349.9,474.6 349.3,475.3 C348.7,476.0 345.2,475.9 344.5,475.3 C343.8,474.7 343.4,471.2 344.0,470.5Z M330.7,470.5 C331.3,470.0 335.3,469.6 336.0,470.0 C336.7,470.4 336.6,473.5 336.0,474.0 C335.4,474.5 331.9,474.4 331.2,474.0 C330.5,473.6 330.1,471.0 330.7,470.5Z M220.0,344.7 C221.1,342.7 226.8,340.8 228.0,342.0 C229.2,343.2 229.8,351.5 229.3,354.0 C228.8,356.5 225.3,361.5 224.0,362.0 C222.7,362.5 219.7,360.2 219.2,358.0 C218.7,355.8 218.9,346.7 220.0,344.7Z M248.0,376.7 C249.7,376.0 260.7,376.0 262.7,376.7 C264.7,377.4 265.7,381.3 264.0,382.0 C262.3,382.7 251.3,383.2 249.3,382.5 C247.3,381.8 246.3,377.4 248.0,376.7Z M378.0,307.3 C381.2,305.1 403.6,306.0 407.3,307.3 C411.0,308.6 409.1,316.3 407.3,318.0 C405.5,319.7 395.9,319.9 392.7,320.7 C389.5,321.5 383.8,326.4 382.0,324.7 C380.2,323.0 374.8,309.5 378.0,307.3Z M407.3,328.7 C408.1,327.4 415.2,326.3 416.7,327.3 C418.2,328.3 420.1,335.4 419.3,336.7 C418.5,338.0 411.5,339.0 410.0,338.0 C408.5,337.0 406.5,330.0 407.3,328.7Z M415.3,411.3 C416.5,408.0 420.5,396.6 422.0,395.3 C423.5,394.0 426.5,398.0 427.3,400.7 C428.1,403.4 428.2,412.7 428.7,416.7 C429.2,420.7 431.8,429.7 431.3,432.7 C430.8,435.7 426.4,438.9 424.7,440.7 C423.0,442.5 419.3,448.0 418.0,447.3 C416.7,446.6 414.7,438.5 414.0,435.3 C413.3,432.1 412.5,425.0 412.7,422.0 C412.9,419.0 414.1,414.6 415.3,411.3Z M392.7,458.0 C393.9,456.7 401.5,453.7 403.3,454.0 C405.1,454.3 407.6,459.2 407.3,460.7 C407.0,462.2 402.4,465.5 400.7,466.0 C399.0,466.5 395.0,465.7 394.0,464.7 C393.0,463.7 391.5,459.3 392.7,458.0Z M363.3,474.0 C364.0,472.7 372.3,469.7 374.0,470.0 C375.7,470.3 377.4,475.4 376.7,476.7 C376.0,478.0 370.4,481.0 368.7,480.7 C367.0,480.4 362.6,475.3 363.3,474.0Z M371.3,494.0 C372.0,492.3 380.3,485.0 382.0,484.7 C383.7,484.4 385.4,489.6 384.7,491.3 C384.0,493.0 378.4,497.7 376.7,498.0 C375.0,498.3 370.6,495.7 371.3,494.0Z M356.7,490.0 C357.4,488.7 362.0,487.7 362.8,488.7 C363.6,489.7 364.0,496.7 363.3,498.0 C362.6,499.3 358.3,500.3 357.5,499.3 C356.7,498.3 356.0,491.3 356.7,490.0Z M467.3,367.3 C468.0,366.0 471.5,363.0 472.7,363.3 C473.9,363.6 476.7,368.5 476.7,370.0 C476.7,371.5 473.9,374.9 472.7,375.3 C471.5,375.7 467.5,374.5 466.8,373.5 C466.1,372.5 466.6,368.6 467.3,367.3Z M454.5,386.8 C455.4,386.0 461.4,385.3 462.5,386.0 C463.6,386.7 464.2,391.3 463.3,392.1 C462.4,392.9 456.4,393.4 455.3,392.7 C454.2,392.0 453.6,387.6 454.5,386.8Z M463.3,328.1 C464.0,327.4 469.5,326.7 470.5,327.3 C471.5,327.9 472.0,332.0 471.3,332.7 C470.6,333.4 465.7,333.5 464.7,332.9 C463.7,332.3 462.6,328.8 463.3,328.1Z M498.0,330.0 C499.3,328.5 508.0,325.2 510.0,325.5 C512.0,325.8 514.2,331.3 514.0,332.7 C513.8,334.1 510.5,336.1 508.7,336.7 C506.9,337.3 500.6,338.0 499.3,337.2 C498.0,336.4 496.7,331.5 498.0,330.0Z M455.3,463.9 C455.7,463.4 458.3,462.9 458.8,463.3 C459.3,463.7 459.7,466.3 459.3,466.8 C458.9,467.3 456.4,467.7 455.9,467.3 C455.4,466.9 454.9,464.4 455.3,463.9Z M607.3,371.9 C607.8,371.2 611.4,370.7 612.1,371.3 C612.8,371.9 613.2,376.0 612.7,376.7 C612.2,377.4 608.8,377.3 608.1,376.7 C607.4,376.1 606.8,372.6 607.3,371.9Z M618.0,367.9 C618.4,367.4 621.5,366.9 622.0,367.3 C622.5,367.7 622.4,370.8 622.0,371.3 C621.6,371.8 619.0,371.7 618.5,371.3 C618.0,370.9 617.6,368.4 618.0,367.9Z M622.0,385.2 C622.5,384.5 626.1,384.2 626.8,384.7 C627.5,385.2 627.8,388.8 627.3,389.5 C626.8,390.2 623.2,390.5 622.5,390.0 C621.8,389.5 621.5,385.9 622.0,385.2Z M628.7,381.2 C629.1,380.7 631.6,380.3 632.1,380.7 C632.6,381.1 633.1,384.2 632.7,384.7 C632.3,385.2 629.7,385.1 629.2,384.7 C628.7,384.3 628.3,381.7 628.7,381.2Z M634.0,374.5 C634.4,374.0 637.0,373.6 637.5,374.0 C638.0,374.4 638.4,377.5 638.0,378.0 C637.6,378.5 635.0,378.4 634.5,378.0 C634.0,377.6 633.6,375.0 634.0,374.5Z M642.0,372.9 C642.4,372.5 645.0,372.3 645.5,372.7 C646.0,373.1 646.4,375.7 646.0,376.1 C645.6,376.5 643.0,376.5 642.5,376.1 C642.0,375.7 641.6,373.3 642.0,372.9Z M292.0,592.0 C292.3,590.0 299.5,581.3 301.3,580.0 C303.1,578.7 305.7,579.5 306.7,581.3 C307.7,583.1 310.3,592.9 309.3,594.7 C308.3,596.5 300.9,596.3 298.7,596.0 C296.5,595.7 291.7,594.0 292.0,592.0Z M317.3,577.3 C317.8,576.5 321.9,575.4 322.7,576.0 C323.5,576.6 324.5,581.1 324.0,581.9 C323.5,582.7 319.5,583.3 318.7,582.7 C317.9,582.1 316.8,578.1 317.3,577.3Z M336.0,591.5 C336.4,590.8 339.2,590.2 339.7,590.7 C340.2,591.2 340.4,594.8 340.0,595.5 C339.6,596.2 337.0,596.5 336.5,596.0 C336.0,595.5 335.6,592.2 336.0,591.5Z M344.0,637.3 C344.4,636.2 347.4,635.8 348.0,636.8 C348.6,637.8 348.9,644.2 348.5,645.3 C348.1,646.4 345.1,646.3 344.5,645.3 C343.9,644.3 343.6,638.4 344.0,637.3Z M346.1,612.0 C346.4,611.4 348.9,610.9 349.3,611.5 C349.7,612.1 349.6,615.9 349.3,616.5 C349.0,617.1 347.1,617.1 346.7,616.5 C346.3,615.9 345.8,612.6 346.1,612.0Z M346.1,622.7 C346.4,621.9 348.5,621.9 348.8,622.7 C349.1,623.5 349.1,628.5 348.8,629.3 C348.5,630.1 346.7,630.1 346.4,629.3 C346.1,628.5 345.8,623.5 346.1,622.7Z M385.9,684.0 C386.3,683.2 388.5,682.5 388.8,683.2 C389.1,683.9 388.7,688.5 388.3,689.3 C387.9,690.1 385.9,690.6 385.6,689.9 C385.3,689.2 385.5,684.8 385.9,684.0Z M382.7,700.8 C383.1,700.2 386.1,698.9 386.7,699.2 C387.3,699.5 387.6,702.9 387.2,703.5 C386.8,704.1 384.1,704.3 383.5,704.0 C382.9,703.7 382.3,701.4 382.7,700.8Z M373.9,714.1 C374.5,713.5 378.5,713.1 379.2,713.6 C379.9,714.1 380.3,717.3 379.7,717.9 C379.1,718.5 375.1,718.9 374.4,718.4 C373.7,717.9 373.3,714.7 373.9,714.1Z M362.1,715.5 C362.4,715.0 364.9,714.5 365.3,714.9 C365.7,715.3 365.9,718.2 365.6,718.7 C365.3,719.2 363.1,719.3 362.7,718.9 C362.3,718.5 361.8,716.0 362.1,715.5Z" fill="#1f6a49"/>
<path d="M163.1,402.7 C163.0,404.4 162.7,412.9 162.7,416.7 C162.7,420.4 163.0,430.0 163.3,432.7 C163.6,435.4 165.1,437.3 165.3,438.0" fill="none" stroke="#6fa6c0" stroke-width="4.0" stroke-linecap="round" stroke-linejoin="round"/>
<path d="M84.8,220.0 C86.2,220.8 91.9,225.4 96.0,226.7 C100.1,228.0 112.0,229.9 117.3,230.7 C122.6,231.5 132.7,233.3 138.7,233.3 C144.7,233.3 159.0,231.3 165.3,230.7 C171.6,230.1 184.6,228.2 189.3,228.5 C194.0,228.8 198.7,231.4 202.7,233.3 C206.7,235.2 217.6,241.7 221.3,244.0 C225.0,246.3 229.7,249.7 232.0,252.0 C234.3,254.3 237.7,260.0 240.0,262.7 C242.3,265.4 247.9,271.0 250.7,273.3 C253.5,275.6 261.2,280.3 262.7,281.3" fill="none" stroke="#6fa6c0" stroke-width="4.0" stroke-linecap="round" stroke-linejoin="round"/>
<path d="M117.3,230.7 C117.5,229.4 117.9,222.3 118.7,220.0 C119.5,217.7 123.5,214.3 124.0,212.0 C124.5,209.7 123.5,203.6 122.7,201.3 C121.9,199.0 119.0,194.7 117.3,193.3 C115.6,191.9 110.3,190.5 109.3,190.1" fill="none" stroke="#6fa6c0" stroke-width="2.6" stroke-linecap="round" stroke-linejoin="round"/>
<path d="M88.0,220.0 C88.7,218.3 93.1,209.4 93.3,206.7 C93.5,204.0 89.8,199.7 89.3,198.7" fill="none" stroke="#6fa6c0" stroke-width="2.0" stroke-linecap="round" stroke-linejoin="round"/>
<path d="M72.0,300.0 C73.7,300.7 82.0,305.6 85.3,305.3 C88.6,305.0 95.7,298.6 98.7,297.3 C101.7,296.0 108.8,296.4 109.3,294.7 C109.8,293.0 102.0,285.7 102.7,284.0 C103.4,282.3 111.9,282.1 114.7,281.3 C117.5,280.5 122.3,277.6 125.3,277.3 C128.3,277.0 135.0,278.4 138.7,278.7 C142.4,279.0 151.4,278.7 154.7,280.0 C158.0,281.3 162.0,287.0 165.3,289.3 C168.6,291.6 176.6,297.4 181.3,298.7 C186.0,300.0 197.7,300.3 202.7,300.0 C207.7,299.7 216.6,297.3 221.3,296.0 C226.0,294.7 235.7,290.8 240.0,289.3 C244.3,287.8 252.7,285.0 256.0,284.0 C259.3,283.0 265.4,281.6 266.7,281.3" fill="none" stroke="#6fa6c0" stroke-width="4.6" stroke-linecap="round" stroke-linejoin="round"/>
<path d="M262.7,281.9 C265.2,281.5 278.9,280.1 282.7,278.7 C286.5,277.3 290.0,272.2 293.3,270.7 C296.6,269.2 306.0,268.0 309.3,266.7 C312.6,265.4 317.0,260.8 320.0,260.0 C323.0,259.2 330.0,259.7 333.3,260.0 C336.6,260.3 344.0,262.7 346.7,262.7 C349.4,262.7 351.4,261.0 354.7,260.0 C358.0,259.0 369.3,255.7 373.3,254.7 C377.3,253.7 383.4,252.8 386.7,252.0 C390.0,251.2 402.6,247.7 400.0,248.0 C397.4,248.3 368.2,254.4 366.0,254.7 C363.8,255.0 378.7,251.5 382.0,250.7 C385.3,249.9 390.0,249.8 392.7,248.0 C395.4,246.2 400.3,239.2 403.3,236.0 C406.3,232.8 413.7,225.0 416.7,222.7 C419.7,220.4 425.2,217.8 427.3,217.3 C429.4,216.8 432.5,218.5 433.2,218.7" fill="none" stroke="#6fa6c0" stroke-width="7.0" stroke-linecap="round" stroke-linejoin="round"/>
<path d="M266.7,284.0 C265.4,285.7 259.3,293.6 256.0,297.3 C252.7,301.0 243.0,309.6 240.0,313.3 C237.0,317.0 232.0,325.8 232.0,326.7 C232.0,327.6 240.7,320.4 240.0,320.7 C239.3,320.9 230.0,326.4 226.7,328.7 C223.4,331.0 216.0,336.3 213.3,339.3 C210.6,342.3 207.3,349.0 205.3,352.7 C203.3,356.4 199.0,365.7 197.3,368.7 C195.6,371.7 194.0,374.9 192.0,376.7 C190.0,378.5 184.0,381.6 181.3,383.3 C178.6,385.0 173.2,387.8 170.7,390.0 C168.2,392.2 162.6,397.4 161.3,400.7 C160.0,404.0 159.8,412.7 160.0,416.7 C160.2,420.7 162.4,430.7 162.7,432.7" fill="none" stroke="#6fa6c0" stroke-width="4.2" stroke-linecap="round" stroke-linejoin="round"/>
<path d="M264.0,284.0 C261.0,285.0 245.3,290.3 240.0,292.0 C234.7,293.7 224.6,295.0 221.3,297.3 C218.0,299.6 216.0,307.7 213.3,310.7 C210.6,313.7 201.7,319.7 200.0,321.3 C198.3,322.9 200.3,322.1 200.0,323.3 C199.7,324.6 199.0,329.6 197.3,331.3 C195.6,333.0 189.0,336.7 186.7,336.7 C184.4,336.7 180.7,331.6 178.7,331.3 C176.7,331.0 171.0,332.3 170.7,334.0 C170.4,335.7 176.7,342.4 176.0,344.7 C175.3,347.0 168.0,350.9 165.3,352.7 C162.6,354.5 157.0,358.0 154.7,359.3 C152.4,360.6 148.7,363.3 146.7,363.3 C144.7,363.3 141.0,359.1 138.7,359.3 C136.4,359.5 130.7,363.7 128.0,364.7 C125.3,365.7 118.6,365.3 117.3,367.3 C116.0,369.3 118.6,378.4 117.3,380.7 C116.0,383.0 110.0,385.5 106.7,386.0 C103.4,386.5 94.4,384.2 90.7,384.7 C87.0,385.2 79.6,388.7 77.3,390.0 C75.0,391.3 72.7,394.6 72.0,395.3" fill="none" stroke="#6fa6c0" stroke-width="3.0" stroke-linecap="round" stroke-linejoin="round"/>
<path d="M320.0,192.0 C320.3,193.8 322.9,203.9 322.7,206.7 C322.5,209.5 319.0,212.4 318.7,214.7 C318.4,217.0 320.7,223.6 320.0,225.3 C319.3,227.0 314.1,227.7 313.3,228.0" fill="none" stroke="#6fa6c0" stroke-width="1.3" stroke-linecap="round" stroke-linejoin="round"/>
<path d="M313.3,228.0 C313.1,230.0 311.5,240.3 312.0,244.0 C312.5,247.7 316.3,255.2 317.3,257.3 C318.3,259.4 319.7,260.1 320.0,260.5" fill="none" stroke="#6fa6c0" stroke-width="3.3" stroke-linecap="round" stroke-linejoin="round"/>
<path d="M346.7,264.0 C345.7,266.2 341.0,277.8 338.7,281.3 C336.4,284.8 330.3,289.0 328.0,292.0 C325.7,295.0 322.3,302.6 320.0,305.3 C317.7,308.0 311.3,310.6 309.3,313.3 C307.3,316.0 305.0,325.4 304.0,326.7 C303.0,327.9 303.3,322.1 301.3,323.3 C299.3,324.6 290.7,333.4 288.0,336.7 C285.3,340.0 281.0,346.3 280.0,350.0 C279.0,353.7 279.2,362.3 280.0,366.0 C280.8,369.7 285.0,376.6 286.7,379.3 C288.4,382.0 290.8,385.3 293.3,387.3 C295.8,389.3 303.4,393.6 306.7,395.3 C310.0,397.0 317.8,398.7 320.0,400.7 C322.2,402.7 323.5,410.0 324.0,411.3" fill="none" stroke="#6fa6c0" stroke-width="4.6" stroke-linecap="round" stroke-linejoin="round"/>
<path d="M324.0,411.3 C324.3,413.3 327.2,423.6 326.7,427.3 C326.2,431.0 320.2,437.7 320.0,440.7 C319.8,443.7 325.3,448.6 325.3,451.3 C325.3,454.0 319.7,459.3 320.0,462.0 C320.3,464.7 325.7,470.4 328.0,472.7 C330.3,475.0 336.4,478.9 338.7,480.7 C341.0,482.5 345.7,486.5 346.7,487.3" fill="none" stroke="#6fa6c0" stroke-width="2.0" stroke-linecap="round" stroke-linejoin="round"/>
<path d="M392.7,249.3 C393.2,251.3 396.0,262.0 396.7,265.3 C397.4,268.6 399.5,274.0 398.0,276.0 C396.5,278.0 387.7,280.0 384.7,281.3 C381.7,282.6 375.7,284.7 374.0,286.7 C372.3,288.7 371.3,294.0 371.3,297.3 C371.3,300.6 373.8,309.5 374.0,313.3 C374.2,317.1 372.8,326.4 372.7,328.0 C372.6,329.6 371.9,325.9 373.3,326.0 C374.7,326.1 382.7,326.0 384.0,328.7 C385.3,331.4 384.0,345.0 384.0,347.3" fill="none" stroke="#6fa6c0" stroke-width="3.6" stroke-linecap="round" stroke-linejoin="round"/>
<path d="M384.0,347.3 C383.0,348.0 377.3,350.0 376.0,352.7 C374.7,355.4 374.6,364.4 373.3,368.7 C372.0,373.0 366.6,382.6 365.3,387.3 C364.0,392.0 362.7,401.7 362.7,406.0 C362.7,410.3 366.0,418.7 365.3,422.0 C364.6,425.3 358.3,430.0 357.3,432.7 C356.3,435.4 356.0,441.6 357.3,443.3 C358.6,445.0 366.0,444.0 368.0,446.0 C370.0,448.0 373.3,456.3 373.3,459.3 C373.3,462.3 369.5,467.0 368.0,470.0 C366.5,473.0 362.1,481.6 361.3,483.3" fill="none" stroke="#6fa6c0" stroke-width="2.4" stroke-linecap="round" stroke-linejoin="round"/>
<path d="M394.7,249.3 C394.7,251.3 394.0,262.6 394.7,265.3 C395.4,268.0 399.3,270.0 400.0,270.7" fill="none" stroke="#6fa6c0" stroke-width="3.0" stroke-linecap="round" stroke-linejoin="round"/>
</g>
<text x="301.3" y="131.4" class="b hv" font-size="40.5" textLength="84" lengthAdjust="spacingAndGlyphs">2001</text>
<text x="448.6" y="214.9" class="bl" font-style="italic" font-size="32.5" textLength="160" lengthAdjust="spacing">Amazonas</text>
<text x="130.6" y="275" font-size="31.3" textLength="118.5" lengthAdjust="spacing" style="stroke:#a9c976;stroke-opacity:0.8;stroke-width:3px;stroke-linejoin:round;paint-order:stroke">Manaus</text>
<circle cx="262.7" cy="272" r="7.7" fill="#222222"/>
<circle cx="462.3" cy="494" r="12" fill="#fff" stroke="#222222" stroke-width="4"/><circle cx="462.3" cy="494" r="6.9" fill="#222222"/>
<text x="482" y="506.2" class="b hv" font-size="31" textLength="122.3" lengthAdjust="spacing">Brasília</text>
<text x="358.6" y="569.8" font-size="31.5" textLength="173.6" lengthAdjust="spacing">BRASILIEN</text>
<circle cx="232.6" cy="357.4" r="19.8" fill="none" stroke="#222222" stroke-width="7.2"/>
<path d="M232.5,378 V487.3 L279,502.5 V529" fill="none" stroke="#222222" stroke-width="3.2"/>
<rect x="93.7" y="528.1" width="187.3" height="98.6" fill="#222222"/>
<text x="101" y="568" class="b wh" font-size="32" textLength="169" lengthAdjust="spacing">Gebiet der</text>
<text x="113.2" y="611.5" class="b wh" font-size="32" textLength="152.5" lengthAdjust="spacing">Tenharim</text>
</g>
<g id="m2016" transform="translate(790,0)">
<g clip-path="url(#bz)">
<rect x="0" y="100" width="720" height="760" fill="#f5eeaa"/>
<g opacity="0.32" filter="url(#bl)"><path d="M249.3,478.0 C251.3,474.3 260.3,481.0 264.0,483.3 C267.7,485.6 276.7,492.7 278.7,496.7 C280.7,500.7 283.8,513.3 280.0,515.3 C276.2,517.3 251.8,517.4 248.0,512.7 C244.2,508.0 247.3,481.7 249.3,478.0Z M249.3,478.0 C251.3,474.3 260.3,481.0 264.0,483.3 C267.7,485.6 276.7,492.7 278.7,496.7 C280.7,500.7 283.8,513.3 280.0,515.3 C276.2,517.3 251.8,517.4 248.0,512.7 C244.2,508.0 247.3,481.7 249.3,478.0Z M434.7,636.7 C437.4,632.0 447.6,628.0 453.3,626.0 C459.0,624.0 474.0,621.0 480.0,620.7 C486.0,620.4 500.3,621.3 501.3,623.3 C502.3,625.3 492.3,633.7 488.0,636.7 C483.7,639.7 471.7,644.3 466.7,647.3 C461.7,650.3 452.3,658.7 448.0,660.7 C443.7,662.7 433.7,666.3 432.0,663.3 C430.3,660.3 432.0,641.4 434.7,636.7Z M434.7,636.7 C437.4,632.0 447.6,628.0 453.3,626.0 C459.0,624.0 474.0,621.0 480.0,620.7 C486.0,620.4 500.3,621.3 501.3,623.3 C502.3,625.3 492.3,633.7 488.0,636.7 C483.7,639.7 471.7,644.3 466.7,647.3 C461.7,650.3 452.3,658.7 448.0,660.7 C443.7,662.7 433.7,666.3 432.0,663.3 C430.3,660.3 432.0,641.4 434.7,636.7Z M462.0,371.3 C464.0,366.3 478.6,359.0 483.3,358.0 C488.0,357.0 497.3,359.3 499.3,363.3 C501.3,367.3 500.6,384.0 499.3,390.0 C498.0,396.0 491.4,406.3 488.7,411.3 C486.0,416.3 481.0,428.0 478.0,430.0 C475.0,432.0 466.0,431.3 464.7,427.3 C463.4,423.3 467.6,405.0 467.3,398.0 C467.0,391.0 460.0,376.3 462.0,371.3Z M536.7,371.3 C539.7,365.6 553.3,348.7 558.0,342.0 C562.7,335.3 570.0,321.3 574.0,318.0 C578.0,314.7 588.0,312.3 590.0,315.3 C592.0,318.3 590.7,334.3 590.0,342.0 C589.3,349.7 586.0,369.0 584.7,376.7 C583.4,384.4 579.3,395.6 579.3,403.3 C579.3,411.0 586.0,433.0 584.7,438.0 C583.4,443.0 572.4,445.3 568.7,443.3 C565.0,441.3 558.0,428.0 555.3,422.0 C552.6,416.0 550.0,399.6 547.3,395.3 C544.6,391.0 535.3,390.3 534.0,387.3 C532.7,384.3 533.7,377.0 536.7,371.3Z M664.7,331.3 C666.4,327.6 678.0,324.3 680.7,326.0 C683.4,327.7 686.0,340.7 686.0,344.7 C686.0,348.7 683.0,356.7 680.7,358.0 C678.4,359.3 669.3,358.6 667.3,355.3 C665.3,352.0 663.0,335.0 664.7,331.3Z M579.3,284.0 C582.6,278.2 597.7,279.0 600.7,281.3 C603.7,283.6 604.0,296.9 603.3,302.7 C602.6,308.5 599.0,324.8 595.3,328.0 C591.6,331.2 576.0,333.5 574.0,328.0 C572.0,322.5 576.0,289.8 579.3,284.0Z M288.0,520.0 C291.0,516.0 308.3,517.3 312.0,520.0 C315.7,522.7 318.0,535.3 317.3,541.3 C316.6,547.3 309.4,559.7 306.7,568.0 C304.0,576.3 298.0,605.7 296.0,608.0 C294.0,610.3 291.9,591.4 290.7,586.7 C289.5,582.0 286.5,574.0 286.7,570.7 C286.9,567.4 291.8,562.3 292.0,560.0 C292.2,557.7 288.5,557.0 288.0,552.0 C287.5,547.0 285.0,524.0 288.0,520.0Z M282.7,512.7 C288.5,508.0 326.6,500.7 333.3,502.0 C340.0,503.3 337.7,518.6 336.0,523.3 C334.3,528.0 326.2,537.3 320.0,539.3 C313.8,541.3 291.4,542.6 286.7,539.3 C282.0,536.0 276.9,517.4 282.7,512.7Z" fill="#8dc86c"/></g>
<path d="M0,100 C57.5,63.8 402.5,85.6 460,100 C517.5,114.4 460.8,198.8 460,215 C459.2,231.2 455.1,225.7 454.0,229.3 C452.9,232.9 452.6,240.8 451.3,244.0 C450.0,247.2 445.0,251.4 443.3,254.7 C441.6,258.0 439.7,267.4 438.0,270.7 C436.3,274.0 430.0,278.6 430.0,281.3 C430.0,284.0 437.3,288.7 438.0,292.0 C438.7,295.3 436.3,304.0 435.3,308.0 C434.3,312.0 430.0,323.8 430.0,324.0 C430.0,324.2 435.3,309.8 435.3,310.0 C435.3,310.2 432.3,322.0 430.0,326.0 C427.7,330.0 418.7,339.3 416.7,342.0 C414.7,344.7 415.2,345.0 414.0,347.3 C412.8,349.6 409.3,357.7 407.3,360.7 C405.3,363.7 400.2,368.3 398.0,371.3 C395.8,374.3 392.3,381.7 390.0,384.7 C387.7,387.7 380.1,396.0 379.3,395.3 C378.6,394.6 388.1,380.6 384.0,379.3 C379.9,378.0 355.4,384.4 346.7,384.7 C338.0,385.0 321.4,381.7 314.7,382.0 C308.0,382.3 299.3,387.3 293.3,387.3 C287.3,387.3 273.4,382.7 266.7,382.0 C260.0,381.3 244.3,381.3 240.0,382.0 C235.7,382.7 236.7,386.6 232.0,387.3 C227.3,388.0 208.4,387.6 202.7,387.3 C197.0,387.0 191.4,383.0 186.7,384.7 C182.0,386.4 170.0,398.5 165.3,400.7 C160.6,402.9 154.0,401.3 149.3,402.0 C144.6,402.7 132.3,405.0 128.0,406.0 C123.7,407.0 117.4,407.7 114.7,410.0 C112.0,412.3 114.4,422.9 106.7,424.7 C99.0,426.5 66.6,429.0 53.3,424.7 C40.0,420.4 6.7,430.6 0.0,390.0 C-6.7,349.4 -57.5,136.2 0,100Z M158.7,398.0 C160.0,392.7 168.9,398.4 170.7,400.7 C172.5,403.0 172.3,412.4 173.3,416.7 C174.3,421.0 175.7,432.0 178.7,435.3 C181.7,438.6 193.0,441.0 197.3,443.3 C201.6,445.6 209.3,451.7 213.3,454.0 C217.3,456.3 226.0,460.0 229.3,462.0 C232.6,464.0 238.7,467.7 240.0,470.0 C241.3,472.3 243.3,480.7 240.0,480.7 C236.7,480.7 220.0,473.3 213.3,470.0 C206.6,466.7 193.4,457.3 186.7,454.0 C180.0,450.7 163.5,450.3 160.0,443.3 C156.5,436.3 157.4,403.3 158.7,398.0Z M250.7,398.0 C253.4,395.7 264.7,395.0 266.7,398.0 C268.7,401.0 268.4,418.3 266.7,422.0 C265.0,425.7 256.0,428.0 253.3,427.3 C250.6,426.6 245.6,420.4 245.3,416.7 C245.0,413.0 248.0,400.3 250.7,398.0Z" fill="#8dc86c"/>
<g filter="url(#bl2)"><path d="M602.7,575.3 C604.0,575.3 599.3,585.7 597.3,588.7 C595.3,591.7 589.4,596.3 586.7,599.3 C584.0,602.3 578.7,609.4 576.0,612.7 C573.3,616.0 568.3,623.0 565.3,626.0 C562.3,629.0 555.3,635.0 552.0,636.7 C548.7,638.4 542.4,639.1 538.7,639.3 C535.0,639.5 526.0,637.5 522.7,638.0 C519.4,638.5 515.0,641.6 512.0,643.3 C509.0,645.0 502.7,649.0 498.7,651.3 C494.7,653.6 484.0,659.7 480.0,662.0 C476.0,664.3 469.4,667.5 466.7,670.0 C464.0,672.5 461.4,680.8 458.7,682.0 C456.0,683.2 446.0,681.6 445.3,679.3 C444.6,677.0 450.3,667.0 453.3,663.3 C456.3,659.6 465.0,652.7 469.3,650.0 C473.6,647.3 483.3,644.7 488.0,642.0 C492.7,639.3 501.7,631.4 506.7,628.7 C511.7,626.0 523.3,622.4 528.0,620.7 C532.7,619.0 540.0,618.0 544.0,615.3 C548.0,612.6 556.3,602.3 560.0,599.3 C563.7,596.3 570.0,592.6 573.3,591.3 C576.6,590.0 583.0,590.7 586.7,588.7 C590.4,586.7 601.4,575.3 602.7,575.3Z M466.7,667.0 C466.7,669.0 458.0,678.3 456.0,683.0 C454.0,687.7 451.0,700.0 450.7,704.3 C450.4,708.6 453.1,714.0 453.3,717.7 C453.5,721.4 453.0,732.0 452.0,733.7 C451.0,735.4 446.3,733.3 445.3,731.0 C444.3,728.7 444.3,719.0 444.0,715.0 C443.7,711.0 442.4,703.3 442.7,699.0 C443.0,694.7 445.0,684.3 446.7,680.3 C448.4,676.3 453.5,668.7 456.0,667.0 C458.5,665.3 466.7,665.0 466.7,667.0Z" fill="#8dc86c"/></g>
<path d="M230.7,158.7 C231.9,158.2 235.5,160.6 237.3,161.3 C239.1,162.0 244.1,162.2 245.3,164.0 C246.5,165.8 246.5,172.3 246.7,176.0 C246.9,179.7 247.2,190.3 246.7,193.3 C246.2,196.3 243.7,200.2 242.7,200.0 C241.7,199.8 239.9,193.3 238.7,192.0 C237.5,190.7 234.3,191.0 233.3,189.3 C232.3,187.6 231.5,180.4 230.7,178.7 C229.9,177.0 227.0,177.7 226.7,176.0 C226.4,174.3 227.5,167.5 228.0,165.3 C228.5,163.1 229.5,159.2 230.7,158.7Z M226.7,286.7 C227.4,285.0 231.7,280.0 234.7,278.7 C237.7,277.4 247.4,276.7 250.7,276.0 C254.0,275.3 259.3,272.6 261.3,273.3 C263.3,274.0 267.4,279.6 266.7,281.3 C266.0,283.0 259.3,285.5 256.0,286.7 C252.7,287.9 243.3,290.0 240.0,290.7 C236.7,291.4 231.0,292.5 229.3,292.0 C227.6,291.5 226.0,288.4 226.7,286.7Z M250.7,248.0 C252.0,247.0 260.9,245.5 262.7,246.7 C264.5,247.9 266.1,255.6 265.3,257.3 C264.5,259.0 257.7,260.3 256.0,260.0 C254.3,259.7 252.7,256.2 252.0,254.7 C251.3,253.2 249.4,249.0 250.7,248.0Z M272.0,284.0 C274.0,282.8 284.7,282.6 288.0,281.3 C291.3,280.0 295.4,274.6 298.7,273.3 C302.0,272.0 311.0,271.7 314.7,270.7 C318.4,269.7 324.3,265.8 328.0,265.3 C331.7,264.8 342.3,265.7 344.0,266.7 C345.7,267.7 343.3,272.1 341.3,273.3 C339.3,274.5 331.3,275.0 328.0,276.0 C324.7,277.0 318.4,280.0 314.7,281.3 C311.0,282.6 302.7,285.4 298.7,286.7 C294.7,288.0 286.0,291.5 282.7,292.0 C279.4,292.5 273.3,291.7 272.0,290.7 C270.7,289.7 270.0,285.2 272.0,284.0Z M354.7,270.7 C356.7,268.7 364.3,264.0 368.0,262.7 C371.7,261.4 380.7,260.7 384.0,260.0 C387.3,259.3 393.4,256.6 394.7,257.3 C396.0,258.0 396.0,263.6 394.7,265.3 C393.4,267.0 387.3,269.4 384.0,270.7 C380.7,272.0 371.3,274.7 368.0,276.0 C364.7,277.3 359.3,281.0 357.3,281.3 C355.3,281.6 352.3,280.0 352.0,278.7 C351.7,277.4 352.7,272.7 354.7,270.7Z M370.7,241.3 C372.2,240.1 381.0,238.9 384.0,238.7 C387.0,238.5 393.5,238.8 394.7,240.0 C395.9,241.2 395.0,246.8 393.3,248.0 C391.6,249.2 384.0,249.3 381.3,249.3 C378.6,249.3 373.3,249.0 372.0,248.0 C370.7,247.0 369.2,242.5 370.7,241.3Z M322.7,297.3 C323.9,295.0 331.3,292.0 333.3,292.0 C335.3,292.0 339.0,295.3 338.7,297.3 C338.4,299.3 332.5,306.3 330.7,308.0 C328.9,309.7 325.0,312.0 324.0,310.7 C323.0,309.4 321.5,299.6 322.7,297.3Z M366.0,245.3 C367.5,243.6 376.3,240.2 379.3,238.7 C382.3,237.2 387.3,234.3 390.0,233.3 C392.7,232.3 399.0,230.4 400.7,230.7 C402.4,231.0 404.3,234.3 403.3,236.0 C402.3,237.7 395.7,242.5 392.7,244.0 C389.7,245.5 382.5,247.0 379.3,248.0 C376.1,249.0 369.0,252.3 367.3,252.0 C365.6,251.7 364.5,247.0 366.0,245.3Z M103.3,376.7 C105.5,373.9 118.3,371.6 123.3,371.3 C128.3,371.0 138.8,372.5 143.3,374.0 C147.8,375.5 156.6,381.3 159.3,383.3 C162.0,385.3 164.7,387.7 164.7,390.0 C164.7,392.3 162.0,400.3 159.3,402.0 C156.6,403.7 147.0,402.5 143.3,403.3 C139.6,404.1 133.3,407.9 130.0,408.7 C126.7,409.5 119.7,411.8 116.7,410.0 C113.7,408.2 107.7,398.2 106.0,394.0 C104.3,389.8 101.1,379.5 103.3,376.7Z M184.0,363.3 C185.3,361.1 195.5,361.3 197.3,363.3 C199.1,365.3 200.0,377.1 198.7,379.3 C197.4,381.5 188.5,382.7 186.7,380.7 C184.9,378.7 182.7,365.5 184.0,363.3Z M205.3,390.0 C208.0,387.3 223.5,384.7 226.7,384.7 C229.9,384.7 230.2,383.3 230.7,390.0 C231.2,396.7 232.2,432.3 230.7,438.0 C229.2,443.7 220.9,437.3 218.7,435.3 C216.5,433.3 215.0,425.7 213.3,422.0 C211.6,418.3 206.3,410.0 205.3,406.0 C204.3,402.0 202.6,392.7 205.3,390.0Z M228.0,354.0 C229.0,352.7 238.3,350.6 240.0,351.3 C241.7,352.0 242.3,358.0 241.3,359.3 C240.3,360.6 233.7,362.7 232.0,362.0 C230.3,361.3 227.0,355.3 228.0,354.0Z M117.3,370.0 C119.3,368.5 130.6,366.5 133.3,367.3 C136.0,368.1 139.7,374.9 138.7,376.7 C137.7,378.5 128.0,381.7 125.3,382.0 C122.6,382.3 118.3,380.8 117.3,379.3 C116.3,377.8 115.3,371.5 117.3,370.0Z" fill="#f5eeaa"/>
<g opacity="0.55"><path d="M400.7,260.0 C401.7,257.7 408.6,253.3 411.3,252.0 C414.0,250.7 419.7,249.0 422.0,249.3 C424.3,249.6 429.7,252.7 430.0,254.7 C430.3,256.7 426.7,263.3 424.7,265.3 C422.7,267.3 416.7,270.0 414.0,270.7 C411.3,271.4 405.0,272.0 403.3,270.7 C401.6,269.4 399.7,262.3 400.7,260.0Z M407.3,233.3 C407.8,231.3 414.5,226.1 416.7,225.3 C418.9,224.5 424.0,225.4 424.7,226.7 C425.4,228.0 423.5,234.2 422.0,236.0 C420.5,237.8 414.5,241.6 412.7,241.3 C410.9,241.0 406.8,235.3 407.3,233.3Z M430.0,233.3 C431.5,231.6 439.0,229.7 440.7,230.7 C442.4,231.7 444.0,239.0 443.3,241.3 C442.6,243.6 437.1,249.0 435.3,249.3 C433.5,249.6 429.4,246.0 428.7,244.0 C428.0,242.0 428.5,235.0 430.0,233.3Z M403.3,206.7 C404.3,205.0 413.7,201.8 416.7,201.3 C419.7,200.8 425.8,201.0 427.3,202.7 C428.8,204.4 429.7,212.9 428.7,214.7 C427.7,216.5 421.8,217.3 419.3,217.3 C416.8,217.3 410.7,216.0 408.7,214.7 C406.7,213.4 402.3,208.4 403.3,206.7Z M32.0,350.0 C33.8,348.3 43.5,347.3 45.3,350.0 C47.1,352.7 47.7,368.5 46.7,371.3 C45.7,374.1 39.3,373.7 37.3,372.7 C35.3,371.7 31.4,366.1 30.7,363.3 C30.0,360.5 30.2,351.7 32.0,350.0Z M61.3,362.0 C63.8,360.7 77.7,358.9 80.0,360.7 C82.3,362.5 81.7,374.5 80.0,376.7 C78.3,378.9 69.2,378.7 66.7,378.0 C64.2,377.3 60.7,373.3 60.0,371.3 C59.3,369.3 58.8,363.3 61.3,362.0Z M88.0,398.0 C90.0,395.7 101.7,395.3 106.7,395.3 C111.7,395.3 125.7,396.0 128.0,398.0 C130.3,400.0 128.0,409.1 125.3,411.3 C122.6,413.5 111.0,415.0 106.7,415.3 C102.4,415.6 93.0,416.2 90.7,414.0 C88.4,411.8 86.0,400.3 88.0,398.0Z M26.7,374.0 C27.7,372.3 40.4,375.0 42.7,376.7 C45.0,378.4 46.3,385.6 45.3,387.3 C44.3,389.0 37.0,391.7 34.7,390.0 C32.4,388.3 25.7,375.7 26.7,374.0Z M80.0,379.3 C81.7,377.0 98.0,375.4 101.3,376.7 C104.6,378.0 108.4,387.7 106.7,390.0 C105.0,392.3 91.3,396.6 88.0,395.3 C84.7,394.0 78.3,381.6 80.0,379.3Z" fill="#f5eeaa"/></g>
<path d="M225.3,177.3 C226.6,176.6 230.8,177.2 232.0,178.7 C233.2,180.2 234.9,187.5 234.7,189.3 C234.5,191.1 232.0,193.3 230.7,193.3 C229.4,193.3 225.2,190.5 224.0,189.3 C222.8,188.1 221.1,185.5 221.3,184.0 C221.5,182.5 224.0,178.0 225.3,177.3Z M242.0,202.7 C243.2,201.4 250.2,200.6 253.3,201.3 C256.4,202.0 265.4,206.5 266.7,208.0 C268.0,209.5 266.0,212.3 264.0,213.3 C262.0,214.3 253.2,216.2 250.7,216.0 C248.2,215.8 245.1,213.7 244.0,212.0 C242.9,210.3 240.8,204.0 242.0,202.7Z M349.3,680.0 C350.5,678.2 358.0,672.3 360.0,672.0 C362.0,671.7 365.6,675.6 365.3,677.3 C365.0,679.0 359.1,684.1 357.3,685.3 C355.5,686.5 351.7,687.4 350.7,686.7 C349.7,686.0 348.1,681.8 349.3,680.0Z M421.3,733.7 C421.6,731.5 427.3,727.5 429.3,727.0 C431.3,726.5 436.6,728.2 437.3,729.7 C438.0,731.2 436.0,737.2 434.7,739.0 C433.4,740.8 428.4,745.0 426.7,744.3 C425.0,743.6 421.0,735.9 421.3,733.7Z" fill="#a9c976"/>
<path d="M434.7,275.3 C435.9,272.5 443.3,270.3 445.3,270.0 C447.3,269.7 450.4,271.0 450.7,272.7 C451.0,274.4 448.7,280.8 448.0,283.3 C447.3,285.8 446.3,290.7 445.3,292.7 C444.3,294.7 441.2,299.3 440.0,299.3 C438.8,299.3 436.7,295.7 436.0,292.7 C435.3,289.7 433.5,278.1 434.7,275.3Z M458.7,274.0 C459.2,273.0 464.9,270.7 466.7,270.0 C468.5,269.3 471.6,268.2 473.3,268.7 C475.0,269.2 479.7,272.2 480.0,274.0 C480.3,275.8 476.0,281.3 476.0,283.3 C476.0,285.3 480.3,288.2 480.0,290.0 C479.7,291.8 475.0,297.7 473.3,298.0 C471.6,298.3 467.4,294.5 466.7,292.7 C466.0,290.9 468.5,285.1 468.0,283.3 C467.5,281.5 463.9,279.2 462.7,278.0 C461.5,276.8 458.2,275.0 458.7,274.0Z M445.3,296.7 C446.1,295.7 451.3,299.6 453.3,299.3 C455.3,299.0 459.6,294.3 461.3,294.0 C463.0,293.7 466.2,295.4 466.7,296.7 C467.2,298.0 465.1,302.9 465.3,304.7 C465.5,306.5 468.5,310.6 468.0,311.3 C467.5,312.0 462.8,310.7 461.3,310.0 C459.8,309.3 457.3,305.7 456.0,306.0 C454.7,306.3 451.9,312.5 450.7,312.7 C449.5,312.9 447.4,309.3 446.7,307.3 C446.0,305.3 444.5,297.7 445.3,296.7Z M365.3,331.3 C366.3,329.1 373.3,327.0 376.0,326.0 C378.7,325.0 383.7,324.0 386.7,323.3 C389.7,322.6 397.5,320.0 400.0,320.7 C402.5,321.4 406.7,326.7 406.7,328.7 C406.7,330.7 401.7,334.8 400.0,336.7 C398.3,338.6 397.3,343.1 393.3,344.0 C389.3,344.9 371.5,345.6 368.0,344.0 C364.5,342.4 364.3,333.6 365.3,331.3Z M445.3,336.7 C446.1,335.4 451.2,333.1 452.0,334.0 C452.8,334.9 452.8,342.8 452.0,344.0 C451.2,345.2 446.1,344.9 445.3,344.0 C444.5,343.1 444.5,337.9 445.3,336.7Z M225.3,180.0 C226.1,178.5 229.9,176.8 230.7,177.3 C231.5,177.8 231.3,183.0 232.0,184.0 C232.7,185.0 235.7,184.5 236.0,185.3 C236.3,186.1 235.5,189.7 234.7,190.7 C233.9,191.7 230.6,193.5 229.3,193.3 C228.0,193.1 224.5,191.0 224.0,189.3 C223.5,187.6 224.5,181.5 225.3,180.0Z M242.7,205.3 C243.4,203.9 246.5,201.1 248.0,200.8 C249.5,200.5 253.5,202.0 254.7,202.7 C255.9,203.4 255.8,206.2 257.3,206.7 C258.8,207.2 265.4,205.9 266.7,206.7 C268.0,207.5 268.8,212.1 268.0,213.3 C267.2,214.5 261.8,215.8 260.0,216.0 C258.2,216.2 255.0,214.6 253.3,214.7 C251.6,214.8 248.1,217.1 246.7,216.8 C245.3,216.5 242.6,213.4 242.1,212.0 C241.6,210.6 242.0,206.7 242.7,205.3Z M189.9,215.2 C190.5,214.5 195.1,213.1 196.0,213.3 C196.9,213.5 197.9,216.1 197.3,216.8 C196.7,217.5 192.4,218.9 191.5,218.7 C190.6,218.5 189.3,215.9 189.9,215.2Z M337.3,226.7 L365.3,226.7 L365.3,245.3 L369.3,249.3 L368.0,257.3 L354.7,258.7 L338.7,256.0 L326.7,253.3 L325.9,246.7 L330.7,244.0 L337.3,245.3Z M373.3,238.7 C374.3,237.5 382.0,235.8 384.0,236.0 C386.0,236.2 389.0,238.8 389.3,240.0 C389.6,241.2 388.4,244.6 386.7,245.3 C385.0,246.0 377.7,246.1 376.0,245.3 C374.3,244.5 372.3,239.9 373.3,238.7Z M345.3,273.3 C347.0,271.1 350.5,269.0 352.0,269.3 C353.5,269.6 357.6,274.2 357.3,276.0 C357.0,277.8 351.0,282.0 349.3,284.0 C347.6,286.0 345.3,291.7 344.0,292.0 C342.7,292.3 338.5,289.0 338.7,286.7 C338.9,284.4 343.6,275.5 345.3,273.3Z M342.7,292.0 C343.4,290.9 349.7,288.0 352.0,288.0 C354.3,288.0 360.3,290.8 361.3,292.0 C362.3,293.2 361.8,296.7 360.0,297.3 C358.2,297.9 348.9,297.5 346.7,296.8 C344.5,296.1 342.0,293.1 342.7,292.0Z M370.7,277.3 C371.5,276.0 377.0,273.3 378.7,273.3 C380.4,273.3 383.8,276.0 384.0,277.3 C384.2,278.6 381.5,282.7 380.0,283.5 C378.5,284.3 373.2,284.8 372.0,284.0 C370.8,283.2 369.9,278.6 370.7,277.3Z M266.7,285.9 C267.2,285.4 270.8,284.9 271.5,285.3 C272.2,285.7 272.5,288.3 272.0,288.8 C271.5,289.3 267.9,289.7 267.2,289.3 C266.5,288.9 266.2,286.4 266.7,285.9Z M260.0,302.1 C260.4,301.4 263.0,300.8 263.5,301.3 C264.0,301.8 264.4,305.4 264.0,306.1 C263.6,306.8 261.0,307.2 260.5,306.7 C260.0,306.2 259.6,302.8 260.0,302.1Z M317.3,296.8 C317.8,296.3 321.4,295.7 322.1,296.0 C322.8,296.3 323.2,299.0 322.7,299.5 C322.2,300.0 318.6,300.3 317.9,300.0 C317.2,299.7 316.8,297.3 317.3,296.8Z M372.7,242.0 C372.7,241.1 377.5,236.5 379.3,235.9 C381.1,235.3 386.1,236.7 387.3,237.5 C388.5,238.3 389.7,241.3 388.7,242.0 C387.7,242.7 381.3,243.3 379.3,243.3 C377.3,243.3 372.7,242.9 372.7,242.0Z M404.7,214.0 C405.4,213.5 410.0,212.4 410.8,212.7 C411.6,213.0 412.0,215.6 411.3,216.1 C410.6,216.6 406.3,217.0 405.5,216.7 C404.7,216.4 404.0,214.5 404.7,214.0Z M390.0,283.3 C390.3,281.3 394.3,274.7 395.3,272.7 C396.3,270.7 397.0,266.6 398.0,267.3 C399.0,268.0 401.0,276.3 403.3,278.0 C405.6,279.7 413.7,280.4 416.7,280.7 C419.7,281.0 425.6,281.4 427.3,280.7 C429.0,280.0 430.2,277.0 430.0,275.3 C429.8,273.6 426.0,268.8 426.0,267.3 C426.0,265.8 428.8,263.3 430.0,263.3 C431.2,263.3 434.3,265.5 435.3,267.3 C436.3,269.1 438.0,275.3 438.0,278.0 C438.0,280.7 435.5,286.0 435.3,288.7 C435.1,291.4 436.9,296.6 436.7,299.3 C436.5,302.0 434.2,307.3 434.0,310.0 C433.8,312.7 436.1,318.7 435.3,320.7 C434.5,322.7 429.6,325.7 427.3,326.0 C425.0,326.3 418.9,324.0 416.7,323.3 C414.5,322.6 411.0,323.7 410.0,320.7 C409.0,317.7 409.9,303.0 408.7,299.3 C407.5,295.6 402.7,292.6 400.7,291.3 C398.7,290.0 394.0,289.7 392.7,288.7 C391.4,287.7 389.7,285.3 390.0,283.3Z M367.3,331.3 C368.3,331.0 374.5,334.8 376.7,334.0 C378.9,333.2 382.0,326.0 384.7,324.7 C387.4,323.4 395.0,323.8 398.0,323.3 C401.0,322.8 406.4,320.7 408.7,320.7 C411.0,320.7 415.7,321.6 416.7,323.3 C417.7,325.0 417.7,332.3 416.7,334.0 C415.7,335.7 410.7,336.7 408.7,336.7 C406.7,336.7 403.0,333.3 400.7,334.0 C398.4,334.7 391.3,340.2 390.0,342.0 C388.7,343.8 391.0,348.0 390.0,348.7 C389.0,349.4 383.7,348.5 382.0,347.3 C380.3,346.1 378.4,340.6 376.7,339.3 C375.0,338.0 369.9,337.7 368.7,336.7 C367.5,335.7 366.3,331.6 367.3,331.3Z M446.0,254.0 C447.0,252.3 452.3,252.8 454.0,251.3 C455.7,249.8 457.3,243.3 459.3,242.0 C461.3,240.7 468.7,239.7 470.0,240.7 C471.3,241.7 469.5,248.5 470.0,250.0 C470.5,251.5 474.0,251.5 474.0,252.7 C474.0,253.9 470.2,257.5 470.0,259.3 C469.8,261.1 473.4,265.6 472.7,267.3 C472.0,269.0 466.7,271.9 464.7,272.7 C462.7,273.5 458.4,274.7 456.7,274.0 C455.0,273.3 452.6,268.5 451.3,267.3 C450.0,266.1 446.7,266.4 446.0,264.7 C445.3,263.0 445.0,255.7 446.0,254.0Z M427.3,264.7 C427.8,263.9 431.7,263.0 432.7,263.3 C433.7,263.6 434.0,267.0 435.3,267.3 C436.6,267.6 441.6,265.7 443.3,266.0 C445.0,266.3 448.2,268.5 448.7,270.0 C449.2,271.5 448.0,275.7 447.3,278.0 C446.6,280.3 444.5,288.0 443.3,288.7 C442.1,289.4 439.0,285.3 438.0,283.3 C437.0,281.3 436.5,274.4 435.3,272.7 C434.1,271.0 429.7,271.0 428.7,270.0 C427.7,269.0 426.8,265.5 427.3,264.7Z M471.3,267.3 C472.3,266.0 478.2,262.5 480.7,262.0 C483.2,261.5 489.1,262.0 491.3,263.3 C493.5,264.6 497.0,270.2 498.0,272.7 C499.0,275.2 498.5,281.3 499.3,283.3 C500.1,285.3 505.0,287.7 504.7,288.7 C504.4,289.7 498.7,291.1 496.7,291.3 C494.7,291.5 490.4,289.7 488.7,290.0 C487.0,290.3 485.0,293.0 483.3,294.0 C481.6,295.0 476.6,298.3 475.3,298.0 C474.0,297.7 472.0,293.1 472.7,291.3 C473.4,289.5 479.7,285.3 480.7,283.3 C481.7,281.3 481.7,276.6 480.7,275.3 C479.7,274.0 473.9,273.7 472.7,272.7 C471.5,271.7 470.3,268.6 471.3,267.3Z M446.0,294.0 C447.5,293.7 456.6,299.6 459.3,299.3 C462.0,299.0 466.0,291.3 467.3,291.3 C468.6,291.3 470.7,297.0 470.0,299.3 C469.3,301.6 464.0,309.0 462.0,310.0 C460.0,311.0 455.8,308.3 454.0,307.3 C452.2,306.3 448.3,303.7 447.3,302.0 C446.3,300.3 444.5,294.3 446.0,294.0Z M480.7,304.7 C482.2,303.2 491.3,300.9 494.0,300.7 C496.7,300.5 500.0,302.5 502.0,303.3 C504.0,304.1 509.5,305.8 510.0,307.3 C510.5,308.8 506.2,313.3 506.0,315.3 C505.8,317.3 509.9,321.6 508.7,323.3 C507.5,325.0 499.5,328.2 496.7,328.7 C493.9,329.2 488.3,328.3 486.0,327.3 C483.7,326.3 479.5,322.0 478.0,320.7 C476.5,319.4 473.5,317.7 474.0,316.7 C474.5,315.7 481.2,314.2 482.0,312.7 C482.8,311.2 479.2,306.2 480.7,304.7Z M523.3,310.0 C524.3,308.2 527.4,304.0 528.7,303.3 C530.0,302.6 533.0,303.9 534.0,304.7 C535.0,305.5 535.5,309.0 536.7,310.0 C537.9,311.0 542.3,311.4 543.3,312.7 C544.3,314.0 545.5,318.9 544.7,320.7 C543.9,322.5 538.7,327.0 536.7,327.3 C534.7,327.6 530.7,323.1 528.7,323.3 C526.7,323.5 522.4,328.7 520.7,328.7 C519.0,328.7 515.3,324.6 515.3,323.3 C515.3,322.0 519.7,319.7 520.7,318.0 C521.7,316.3 522.3,311.8 523.3,310.0Z M443.3,323.3 C443.8,321.9 449.0,317.0 451.3,316.7 C453.6,316.4 461.7,319.9 462.0,320.7 C462.3,321.5 455.8,322.4 454.0,323.3 C452.2,324.2 448.6,328.1 447.3,328.1 C446.0,328.1 442.8,324.7 443.3,323.3Z M447.3,335.3 C447.9,334.3 450.5,335.4 450.8,336.7 C451.1,338.0 450.6,345.0 450.0,346.0 C449.4,347.0 446.3,346.0 446.0,344.7 C445.7,343.4 446.7,336.3 447.3,335.3Z M436.7,333.5 C437.4,333.0 442.0,332.4 442.8,332.7 C443.6,333.0 444.0,335.6 443.3,336.1 C442.6,336.6 438.3,337.0 437.5,336.7 C436.7,336.4 436.0,334.0 436.7,333.5Z M326.0,331.3 C326.3,329.6 329.6,334.0 331.3,334.0 C333.0,334.0 337.6,331.0 339.3,331.3 C341.0,331.6 344.5,334.7 344.7,336.7 C344.9,338.7 341.0,344.3 340.7,347.3 C340.4,350.3 341.2,357.7 342.0,360.7 C342.8,363.7 347.0,369.1 347.3,371.3 C347.6,373.5 346.4,377.2 344.7,378.0 C343.0,378.8 335.8,379.8 334.0,378.0 C332.2,376.2 330.7,367.1 330.0,363.3 C329.3,359.5 329.2,351.3 328.7,347.3 C328.2,343.3 325.7,333.0 326.0,331.3Z M412.7,352.7 C414.0,350.4 418.1,345.0 419.3,344.7 C420.5,344.4 422.3,348.0 422.0,350.0 C421.7,352.0 416.7,358.4 416.7,360.7 C416.7,363.0 420.7,367.0 422.0,368.7 C423.3,370.4 428.0,373.0 427.3,374.0 C426.6,375.0 419.0,376.2 416.7,376.7 C414.4,377.2 410.7,378.3 408.7,378.0 C406.7,377.7 400.7,375.8 400.7,374.0 C400.7,372.2 407.2,366.0 408.7,363.3 C410.2,360.6 411.4,355.0 412.7,352.7Z M506.0,363.3 C506.5,362.0 510.5,361.0 511.3,362.0 C512.1,363.0 513.2,370.0 512.7,371.3 C512.2,372.6 508.1,373.7 507.3,372.7 C506.5,371.7 505.5,364.6 506.0,363.3Z M526.0,368.1 C526.5,367.6 530.1,367.0 530.8,367.3 C531.5,367.6 531.8,370.3 531.3,370.8 C530.8,371.3 527.2,371.6 526.5,371.3 C525.8,371.0 525.5,368.6 526.0,368.1Z M344.7,271.3 C345.5,270.3 351.5,269.3 352.7,270.0 C353.9,270.7 354.8,275.7 354.0,276.7 C353.2,277.7 347.2,278.7 346.0,278.0 C344.8,277.3 343.9,272.3 344.7,271.3Z M347.3,288.7 C349.0,287.9 360.0,286.8 362.0,287.3 C364.0,287.8 365.0,291.9 363.3,292.7 C361.6,293.5 350.7,294.5 348.7,294.0 C346.7,293.5 345.6,289.5 347.3,288.7Z M320.7,294.5 C321.2,293.8 324.8,293.5 325.5,294.0 C326.2,294.5 326.5,298.1 326.0,298.8 C325.5,299.5 321.9,299.8 321.2,299.3 C320.5,298.8 320.2,295.2 320.7,294.5Z M106.7,392.7 C107.0,390.7 110.3,383.0 112.0,382.0 C113.7,381.0 118.0,385.4 120.0,384.7 C122.0,384.0 125.7,378.0 128.0,376.7 C130.3,375.4 136.7,373.3 138.7,374.0 C140.7,374.7 142.3,381.2 144.0,382.0 C145.7,382.8 150.3,380.2 152.0,380.7 C153.7,381.2 157.6,384.5 157.3,386.0 C157.0,387.5 151.3,391.5 149.3,392.7 C147.3,393.9 143.3,394.6 141.3,395.3 C139.3,396.0 135.0,396.7 133.3,398.0 C131.6,399.3 129.7,404.3 128.0,406.0 C126.3,407.7 121.3,412.0 120.0,411.3 C118.7,410.6 118.6,402.4 117.3,400.7 C116.0,399.0 110.6,399.0 109.3,398.0 C108.0,397.0 106.4,394.7 106.7,392.7Z M164.0,392.7 C164.7,390.7 168.5,387.0 170.7,384.7 C172.9,382.4 179.3,375.7 181.3,374.0 C183.3,372.3 185.4,370.6 186.7,371.3 C188.0,372.0 190.3,378.0 192.0,379.3 C193.7,380.6 198.7,380.0 200.0,382.0 C201.3,384.0 202.0,392.6 202.7,395.3 C203.4,398.0 204.0,401.0 205.3,403.3 C206.6,405.6 212.6,411.7 213.3,414.0 C214.0,416.3 212.0,421.7 210.7,422.0 C209.4,422.3 204.4,418.4 202.7,416.7 C201.0,415.0 199.3,409.4 197.3,408.7 C195.3,408.0 189.4,412.0 186.7,411.3 C184.0,410.6 178.7,404.6 176.0,403.3 C173.3,402.0 166.8,402.0 165.3,400.7 C163.8,399.4 163.3,394.7 164.0,392.7Z M209.3,383.3 C211.0,381.9 218.5,381.3 221.3,381.5 C224.1,381.7 231.3,383.3 232.0,384.7 C232.7,386.1 228.0,390.5 226.7,392.7 C225.4,394.9 223.0,401.0 221.3,402.0 C219.6,403.0 215.0,401.9 213.3,400.7 C211.6,399.5 208.5,394.9 208.0,392.7 C207.5,390.5 207.6,384.7 209.3,383.3Z M177.3,440.7 C177.3,439.4 181.8,434.0 184.0,432.7 C186.2,431.4 192.0,430.7 194.7,430.0 C197.4,429.3 203.0,427.3 205.3,427.3 C207.6,427.3 212.6,429.0 213.3,430.0 C214.0,431.0 212.0,434.0 210.7,435.3 C209.4,436.6 205.0,439.9 202.7,440.7 C200.4,441.5 194.3,441.7 192.0,442.0 C189.7,442.3 185.8,443.5 184.0,443.3 C182.2,443.1 177.3,442.0 177.3,440.7Z M217.3,438.0 C218.9,436.8 226.6,437.2 229.3,436.7 C232.0,436.2 237.5,433.5 238.7,434.0 C239.9,434.5 240.2,439.5 238.7,440.7 C237.2,441.9 228.9,442.3 226.7,443.3 C224.5,444.3 222.6,448.4 221.3,448.7 C220.0,449.0 217.0,447.3 216.5,446.0 C216.0,444.7 215.7,439.2 217.3,438.0Z M249.3,443.3 C250.8,441.3 259.0,434.6 260.0,435.3 C261.0,436.0 257.8,445.7 257.3,448.7 C256.8,451.7 255.5,456.6 256.0,459.3 C256.5,462.0 261.0,467.0 261.3,470.0 C261.6,473.0 259.9,481.8 258.7,483.3 C257.5,484.8 253.0,483.7 252.0,482.0 C251.0,480.3 250.7,472.8 250.7,470.0 C250.7,467.2 252.3,461.6 252.0,459.3 C251.7,457.0 248.3,453.3 248.0,451.3 C247.7,449.3 247.8,445.3 249.3,443.3Z M222.7,356.7 C223.7,355.4 230.5,353.7 232.0,354.0 C233.5,354.3 235.0,357.6 234.7,359.3 C234.4,361.0 230.6,366.6 229.3,367.3 C228.0,368.0 224.8,366.0 224.0,364.7 C223.2,363.4 221.7,358.0 222.7,356.7Z M253.3,336.7 C253.8,336.5 255.6,342.1 257.3,343.3 C259.0,344.5 266.0,345.0 266.7,346.0 C267.4,347.0 263.9,350.5 262.7,351.3 C261.5,352.1 258.5,353.5 257.3,352.7 C256.1,351.9 253.8,346.7 253.3,344.7 C252.8,342.7 252.8,336.9 253.3,336.7Z M326.7,324.7 C327.5,323.7 331.5,332.2 333.3,334.0 C335.1,335.8 340.1,337.0 341.3,339.3 C342.5,341.6 342.0,349.7 342.7,352.7 C343.4,355.7 346.4,360.3 346.7,363.3 C347.0,366.3 346.3,374.7 345.3,376.7 C344.3,378.7 340.2,380.3 338.7,379.3 C337.2,378.3 334.3,371.7 333.3,368.7 C332.3,365.7 331.5,358.6 330.7,355.3 C329.9,352.0 327.2,345.8 326.7,342.0 C326.2,338.2 325.9,325.7 326.7,324.7Z M366.7,328.7 C367.4,327.9 371.1,330.7 373.3,330.0 C375.5,329.3 381.3,324.5 384.0,323.3 C386.7,322.1 392.7,320.4 394.7,320.7 C396.7,321.0 399.3,323.0 400.0,326.0 C400.7,329.0 401.7,341.9 400.0,344.7 C398.3,347.5 389.4,348.7 386.7,348.7 C384.0,348.7 379.9,346.2 378.7,344.7 C377.5,343.2 378.6,337.7 377.3,336.7 C376.0,335.7 369.3,337.7 368.0,336.7 C366.7,335.7 366.0,329.5 366.7,328.7Z M242.7,383.3 C243.4,382.3 249.4,381.3 250.7,382.0 C252.0,382.7 254.0,387.7 253.3,388.7 C252.6,389.7 246.6,390.7 245.3,390.0 C244.0,389.3 242.0,384.3 242.7,383.3Z M257.3,386.0 C259.0,384.8 269.8,381.5 272.0,382.0 C274.2,382.5 275.4,388.7 274.7,390.0 C274.0,391.3 268.7,392.5 266.7,392.7 C264.7,392.9 259.9,392.1 258.7,391.3 C257.5,390.5 255.6,387.2 257.3,386.0Z M273.3,398.0 C274.3,396.3 280.5,392.7 282.7,392.7 C284.9,392.7 290.0,396.0 290.7,398.0 C291.4,400.0 289.3,407.0 288.0,408.7 C286.7,410.4 281.7,411.6 280.0,411.3 C278.3,411.0 275.5,407.7 274.7,406.0 C273.9,404.3 272.3,399.7 273.3,398.0Z M293.3,382.0 C294.8,381.2 303.4,380.4 306.7,380.7 C310.0,381.0 317.7,383.9 320.0,384.7 C322.3,385.5 325.0,386.0 325.3,387.3 C325.6,388.6 324.4,394.6 322.7,395.3 C321.0,396.0 314.7,393.4 312.0,392.7 C309.3,392.0 303.5,390.7 301.3,390.0 C299.1,389.3 295.7,388.3 294.7,387.3 C293.7,386.3 291.8,382.8 293.3,382.0Z M282.7,411.3 C283.9,409.6 291.6,407.7 293.3,408.7 C295.0,409.7 296.3,417.0 296.0,419.3 C295.7,421.6 292.2,427.0 290.7,427.3 C289.2,427.6 285.0,424.0 284.0,422.0 C283.0,420.0 281.5,413.0 282.7,411.3Z M298.7,398.0 C299.9,396.7 307.0,397.0 309.3,398.0 C311.6,399.0 316.0,403.7 317.3,406.0 C318.6,408.3 320.3,414.4 320.0,416.7 C319.7,419.0 316.4,424.7 314.7,424.7 C313.0,424.7 308.5,418.7 306.7,416.7 C304.9,414.7 301.0,411.0 300.0,408.7 C299.0,406.4 297.5,399.3 298.7,398.0Z M297.3,424.7 C298.6,423.7 306.5,421.7 309.3,422.0 C312.1,422.3 318.2,428.0 320.0,427.3 C321.8,426.6 323.2,416.7 324.0,416.7 C324.8,416.7 327.2,424.3 326.7,427.3 C326.2,430.3 321.8,438.7 320.0,440.7 C318.2,442.7 313.7,444.0 312.0,443.3 C310.3,442.6 308.4,437.0 306.7,435.3 C305.0,433.6 299.9,431.3 298.7,430.0 C297.5,428.7 296.0,425.7 297.3,424.7Z M289.3,438.0 C290.1,437.5 294.5,439.4 296.0,440.7 C297.5,442.0 301.6,447.5 301.3,448.7 C301.0,449.9 294.8,450.5 293.3,450.0 C291.8,449.5 289.8,446.2 289.3,444.7 C288.8,443.2 288.5,438.5 289.3,438.0Z M326.7,392.7 C327.7,392.0 335.2,393.0 336.0,394.0 C336.8,395.0 334.3,400.0 333.3,400.7 C332.3,401.4 328.8,400.3 328.0,399.3 C327.2,398.3 325.7,393.4 326.7,392.7Z M332.0,438.0 C332.7,435.0 334.5,427.0 336.0,424.7 C337.5,422.4 341.7,419.6 344.0,419.3 C346.3,419.0 353.0,420.3 354.7,422.0 C356.4,423.7 357.6,430.7 357.3,432.7 C357.0,434.7 353.7,437.7 352.0,438.0 C350.3,438.3 345.3,434.6 344.0,435.3 C342.7,436.0 340.6,441.3 341.3,443.3 C342.0,445.3 348.5,448.6 349.3,451.3 C350.1,454.0 349.0,462.7 348.0,464.7 C347.0,466.7 342.8,468.0 341.3,467.3 C339.8,466.6 337.3,461.6 336.0,459.3 C334.7,457.0 331.2,451.4 330.7,448.7 C330.2,446.0 331.3,441.0 332.0,438.0Z M352.0,454.0 C351.7,451.7 356.0,443.6 357.3,443.3 C358.6,443.0 360.7,450.6 362.7,451.3 C364.7,452.0 371.0,449.7 373.3,448.7 C375.6,447.7 380.6,446.0 381.3,443.3 C382.0,440.6 378.0,430.0 378.7,427.3 C379.4,424.6 384.9,421.7 386.7,422.0 C388.5,422.3 392.6,427.0 393.3,430.0 C394.0,433.0 393.2,443.0 392.0,446.0 C390.8,449.0 386.3,452.3 384.0,454.0 C381.7,455.7 376.3,458.3 373.3,459.3 C370.3,460.3 362.7,462.7 360.0,462.0 C357.3,461.3 352.3,456.3 352.0,454.0Z M389.3,398.0 C390.5,394.7 393.4,382.6 394.7,379.3 C396.0,376.0 398.3,371.6 400.0,371.3 C401.7,371.0 407.3,371.0 408.0,376.7 C408.7,382.4 406.6,410.4 405.3,416.7 C404.0,423.0 399.0,427.3 397.3,427.3 C395.6,427.3 393.7,417.7 392.0,416.7 C390.3,415.7 384.8,420.6 384.0,419.3 C383.2,418.0 384.6,408.7 385.3,406.0 C386.0,403.3 388.1,401.3 389.3,398.0Z M346.7,400.7 C347.7,399.0 355.6,397.0 357.3,398.0 C359.0,399.0 361.0,407.0 360.0,408.7 C359.0,410.4 351.0,412.3 349.3,411.3 C347.6,410.3 345.7,402.4 346.7,400.7Z M324.0,455.3 C324.8,453.6 330.8,452.7 332.0,454.0 C333.2,455.3 334.1,464.3 333.3,466.0 C332.5,467.7 326.5,468.6 325.3,467.3 C324.1,466.0 323.2,457.0 324.0,455.3Z M269.3,414.5 C269.8,413.7 273.4,413.3 274.1,414.0 C274.8,414.7 275.2,419.3 274.7,420.1 C274.2,420.9 270.6,421.4 269.9,420.7 C269.2,420.0 268.8,415.3 269.3,414.5Z M298.7,471.9 C299.2,471.2 302.8,470.8 303.5,471.3 C304.2,471.8 304.5,475.4 304.0,476.1 C303.5,476.8 299.9,477.2 299.2,476.7 C298.5,476.2 298.2,472.6 298.7,471.9Z M326.0,326.0 C326.7,325.0 332.0,332.7 334.0,334.0 C336.0,335.3 341.2,335.0 342.0,336.7 C342.8,338.4 340.4,344.0 340.7,347.3 C341.0,350.6 343.5,359.3 344.7,363.3 C345.9,367.3 350.0,376.0 350.0,379.3 C350.0,382.6 346.4,390.3 344.7,390.0 C343.0,389.7 338.4,380.7 336.7,376.7 C335.0,372.7 332.3,362.3 331.3,358.0 C330.3,353.7 329.4,346.0 328.7,342.0 C328.0,338.0 325.3,327.0 326.0,326.0Z M370.0,334.0 C370.3,332.7 376.8,330.0 379.3,328.7 C381.8,327.4 387.7,323.6 390.0,323.3 C392.3,323.0 397.3,324.3 398.0,326.0 C398.7,327.7 396.6,334.4 395.3,336.7 C394.0,339.0 389.3,343.4 387.3,344.7 C385.3,346.0 380.6,348.0 379.3,347.3 C378.0,346.6 377.9,341.0 376.7,339.3 C375.5,337.6 369.7,335.3 370.0,334.0Z M411.3,350.0 C412.0,348.2 419.4,344.0 420.7,344.7 C422.0,345.4 422.7,353.5 422.0,355.3 C421.3,357.1 416.6,360.0 415.3,359.3 C414.0,358.6 410.6,351.8 411.3,350.0Z M406.0,368.7 C408.0,367.9 414.4,365.7 416.7,366.0 C419.0,366.3 423.9,369.0 424.7,371.3 C425.5,373.6 424.6,382.4 423.3,384.7 C422.0,387.0 415.8,390.3 414.0,390.0 C412.2,389.7 410.7,383.3 408.7,382.0 C406.7,380.7 399.0,380.5 398.0,379.3 C397.0,378.1 399.7,374.0 400.7,372.7 C401.7,371.4 404.0,369.5 406.0,368.7Z M387.3,395.3 C389.3,392.6 395.0,390.0 398.0,390.0 C401.0,390.0 409.0,393.6 411.3,395.3 C413.6,397.0 416.7,401.3 416.7,403.3 C416.7,405.3 413.3,409.6 411.3,411.3 C409.3,413.0 401.7,414.7 400.7,416.7 C399.7,418.7 404.0,425.0 403.3,427.3 C402.6,429.6 397.3,435.0 395.3,435.3 C393.3,435.6 388.0,432.3 387.3,430.0 C386.6,427.7 390.7,419.0 390.0,416.7 C389.3,414.4 382.3,414.0 382.0,411.3 C381.7,408.6 385.3,398.0 387.3,395.3Z M379.3,416.7 C381.0,414.4 386.6,417.6 387.3,419.3 C388.0,421.0 384.4,427.3 384.7,430.0 C385.0,432.7 390.7,438.4 390.0,440.7 C389.3,443.0 381.3,449.0 379.3,448.7 C377.3,448.4 374.0,442.0 374.0,438.0 C374.0,434.0 377.6,419.0 379.3,416.7Z M310.0,387.3 C312.0,384.6 318.4,394.6 320.7,395.3 C323.0,396.0 327.0,392.4 328.7,392.7 C330.4,393.0 334.3,396.0 334.0,398.0 C333.7,400.0 327.7,405.7 326.0,408.7 C324.3,411.7 320.7,418.7 320.7,422.0 C320.7,425.3 326.0,432.0 326.0,435.3 C326.0,438.6 322.7,446.4 320.7,448.7 C318.7,451.0 312.0,458.0 310.0,454.0 C308.0,450.0 304.7,425.0 304.7,416.7 C304.7,408.4 308.0,390.0 310.0,387.3Z M332.7,435.3 C333.5,431.3 337.1,424.0 339.3,422.0 C341.5,420.0 348.0,418.3 350.0,419.3 C352.0,420.3 355.0,427.0 355.3,430.0 C355.6,433.0 351.7,440.6 352.7,443.3 C353.7,446.0 360.6,451.0 363.3,451.3 C366.0,451.6 372.0,445.7 374.0,446.0 C376.0,446.3 379.6,452.0 379.3,454.0 C379.0,456.0 373.6,460.3 371.3,462.0 C369.0,463.7 363.4,467.6 360.7,467.3 C358.0,467.0 352.7,459.6 350.0,459.3 C347.3,459.0 341.5,465.4 339.3,464.7 C337.1,464.0 333.5,457.7 332.7,454.0 C331.9,450.3 331.9,439.3 332.7,435.3Z M347.3,403.3 C347.5,401.5 353.6,395.6 355.3,395.3 C357.0,395.0 360.9,398.9 360.7,400.7 C360.5,402.5 355.7,409.7 354.0,410.0 C352.3,410.3 347.1,405.1 347.3,403.3Z M505.2,363.3 C505.8,361.8 510.4,360.7 511.3,362.0 C512.2,363.3 513.3,372.0 512.7,373.5 C512.1,375.0 507.7,375.3 506.8,374.0 C505.9,372.7 504.6,364.8 505.2,363.3Z M491.3,373.5 C491.8,373.0 495.4,372.4 496.1,372.7 C496.8,373.0 497.2,375.6 496.7,376.1 C496.2,376.6 492.6,377.0 491.9,376.7 C491.2,376.4 490.8,374.0 491.3,373.5Z M506.0,385.2 C507.0,384.5 513.6,384.2 514.8,384.7 C516.0,385.2 516.3,388.8 515.3,389.5 C514.3,390.2 508.0,390.5 506.8,390.0 C505.6,389.5 505.0,385.9 506.0,385.2Z M496.7,411.3 C496.9,409.6 502.0,403.6 503.3,403.3 C504.6,403.0 507.5,407.0 507.3,408.7 C507.1,410.4 503.3,416.4 502.0,416.7 C500.7,417.0 496.5,413.0 496.7,411.3Z M515.3,422.0 C515.5,420.0 519.0,413.5 520.7,412.7 C522.4,411.9 527.9,413.8 528.7,415.3 C529.5,416.8 528.5,423.0 527.3,424.7 C526.1,426.4 520.8,429.0 519.3,428.7 C517.8,428.4 515.1,424.0 515.3,422.0Z M496.7,455.3 C497.5,453.8 503.2,449.5 504.7,450.0 C506.2,450.5 509.0,457.3 508.7,459.3 C508.4,461.3 503.7,464.5 502.0,466.0 C500.3,467.5 495.8,471.8 495.3,471.3 C494.8,470.8 497.8,464.0 498.0,462.0 C498.2,460.0 495.9,456.8 496.7,455.3Z M623.3,430.5 C623.7,430.0 626.3,429.6 626.8,430.0 C627.3,430.4 627.7,433.0 627.3,433.5 C626.9,434.0 624.4,434.4 623.9,434.0 C623.4,433.6 622.9,431.0 623.3,430.5Z M606.5,505.5 C607.3,504.7 612.6,504.0 613.5,504.7 C614.4,505.4 614.8,510.0 614.0,510.8 C613.2,511.6 608.2,512.0 607.3,511.3 C606.4,510.6 605.7,506.3 606.5,505.5Z M602.0,530.0 C603.7,528.5 612.5,526.1 614.0,527.3 C615.5,528.5 615.7,537.8 614.0,539.3 C612.3,540.8 602.2,540.5 600.7,539.3 C599.2,538.1 600.3,531.5 602.0,530.0Z M538.0,516.7 C538.4,516.0 541.6,514.8 542.0,515.3 C542.4,515.8 541.9,520.0 541.5,520.7 C541.1,521.4 538.9,521.2 538.5,520.7 C538.1,520.2 537.6,517.4 538.0,516.7Z M439.3,335.3 C439.1,334.1 441.8,332.5 443.3,332.7 C444.8,332.9 450.6,335.2 451.3,336.7 C452.0,338.2 449.5,344.0 448.7,344.7 C447.9,345.4 445.9,343.2 444.7,342.0 C443.5,340.8 439.5,336.5 439.3,335.3Z M599.3,533.3 C600.1,531.5 604.3,528.7 606.0,528.0 C607.7,527.3 612.0,526.5 612.7,528.0 C613.4,529.5 612.1,537.3 611.3,540.0 C610.5,542.7 607.2,547.0 606.0,549.3 C604.8,551.6 603.0,558.2 602.0,558.7 C601.0,559.2 598.3,555.3 598.0,553.3 C597.7,551.3 599.1,545.2 599.3,542.7 C599.5,540.2 598.5,535.1 599.3,533.3Z M594.5,571.5 C595.1,570.3 598.8,569.7 599.3,570.7 C599.8,571.7 599.4,578.3 598.8,579.5 C598.2,580.7 594.8,581.0 594.3,580.0 C593.8,579.0 593.9,572.7 594.5,571.5Z M547.9,534.1 C548.4,533.4 551.5,532.8 552.1,533.3 C552.7,533.8 553.2,537.4 552.7,538.1 C552.2,538.8 548.7,539.2 548.1,538.7 C547.5,538.2 547.4,534.8 547.9,534.1Z M540.7,574.7 C541.3,572.9 543.5,568.0 544.7,566.7 C545.9,565.4 549.0,563.7 550.0,564.0 C551.0,564.3 551.7,569.8 552.7,569.3 C553.7,568.8 556.8,561.0 558.0,560.0 C559.2,559.0 562.0,559.8 562.0,561.3 C562.0,562.8 559.0,570.0 558.0,572.0 C557.0,574.0 554.8,577.3 554.0,577.3 C553.2,577.3 552.5,571.5 551.3,572.0 C550.1,572.5 546.1,580.1 544.7,581.3 C543.3,582.5 540.4,582.1 539.9,581.3 C539.4,580.5 540.1,576.5 540.7,574.7Z M465.2,554.1 C465.7,553.3 468.9,552.6 469.5,553.3 C470.1,554.0 470.5,558.7 470.0,559.5 C469.5,560.3 466.3,560.7 465.7,560.0 C465.1,559.3 464.7,554.9 465.2,554.1Z M466.0,604.8 C466.7,604.3 471.3,603.7 472.1,604.0 C472.9,604.3 473.4,607.0 472.7,607.5 C472.0,608.0 467.6,608.3 466.8,608.0 C466.0,607.7 465.3,605.3 466.0,604.8Z M373.2,574.7 C373.8,573.7 378.8,572.6 379.9,573.3 C381.0,574.0 382.6,579.0 382.0,580.0 C381.4,581.0 376.4,582.0 375.3,581.3 C374.2,580.6 372.6,575.7 373.2,574.7Z M358.5,593.3 C359.4,592.1 365.4,591.2 366.5,592.0 C367.6,592.8 368.2,598.8 367.3,600.0 C366.4,601.2 360.4,602.1 359.3,601.3 C358.2,600.5 357.6,594.5 358.5,593.3Z M384.7,593.3 C385.2,592.9 388.8,592.5 389.5,592.8 C390.2,593.1 390.5,595.6 390.0,596.0 C389.5,596.4 385.9,596.3 385.2,596.0 C384.5,595.7 384.2,593.7 384.7,593.3Z M442.0,628.0 C441.8,626.5 445.2,621.0 446.0,621.3 C446.8,621.6 447.5,629.2 448.7,630.7 C449.9,632.2 454.3,632.3 455.3,633.3 C456.3,634.3 457.4,637.9 456.7,638.7 C456.0,639.5 451.2,640.7 450.0,640.0 C448.8,639.3 448.3,634.8 447.3,633.3 C446.3,631.8 442.2,629.5 442.0,628.0Z M454.0,649.3 C455.0,648.6 466.6,647.0 467.3,647.5 C468.0,648.0 461.0,653.1 459.3,653.3 C457.6,653.5 453.0,650.0 454.0,649.3Z M412.7,654.7 C413.3,653.6 415.5,651.2 416.7,651.5 C417.9,651.8 420.7,657.1 422.0,657.3 C423.3,657.5 425.6,653.6 427.3,653.3 C429.0,653.0 433.3,654.9 435.3,654.7 C437.3,654.5 441.8,651.5 443.3,652.0 C444.8,652.5 448.0,657.4 447.3,658.7 C446.6,660.0 440.2,662.4 438.0,662.7 C435.8,663.0 432.0,662.0 430.0,661.3 C428.0,660.6 423.7,657.0 422.0,657.3 C420.3,657.6 418.0,663.7 416.7,664.0 C415.4,664.3 412.4,661.2 411.9,660.0 C411.4,658.8 412.1,655.8 412.7,654.7Z M439.9,670.7 C439.5,669.9 442.4,665.2 443.3,665.3 C444.2,665.4 447.2,670.8 446.8,671.5 C446.4,672.2 440.3,671.5 439.9,670.7Z M423.3,690.7 C423.5,688.9 427.5,683.0 428.7,682.7 C429.9,682.4 431.5,687.5 432.7,688.0 C433.9,688.5 436.5,686.5 438.0,686.7 C439.5,686.9 444.7,688.3 444.7,689.3 C444.7,690.3 439.3,693.2 438.0,694.7 C436.7,696.2 435.3,701.0 434.0,701.3 C432.7,701.6 428.6,698.6 427.3,697.3 C426.0,696.0 423.1,692.5 423.3,690.7Z M414.5,700.0 C414.4,698.5 417.1,697.5 418.0,698.7 C418.9,699.9 421.9,707.8 422.0,709.3 C422.1,710.8 419.7,711.9 418.8,710.7 C417.9,709.5 414.6,701.5 414.5,700.0Z M417.2,712.0 C416.9,710.7 419.4,709.7 420.7,710.7 C422.0,711.7 427.0,718.7 427.3,720.0 C427.6,721.3 424.6,722.3 423.3,721.3 C422.0,720.3 417.5,713.3 417.2,712.0Z M393.2,704.8 C393.8,704.3 398.0,703.7 398.8,704.0 C399.6,704.3 399.9,707.0 399.3,707.5 C398.7,708.0 394.5,708.3 393.7,708.0 C392.9,707.7 392.6,705.3 393.2,704.8Z M378.3,676.8 C378.6,676.1 381.0,675.5 381.5,676.0 C382.0,676.5 382.3,680.1 382.0,680.8 C381.7,681.5 379.3,681.8 378.8,681.3 C378.3,680.8 378.0,677.5 378.3,676.8Z" fill="#ff0050"/>
<path d="M234.0,392.0 C234.7,390.9 240.8,388.8 242.0,389.3 C243.2,389.8 244.0,394.9 243.3,396.0 C242.6,397.1 237.9,398.5 236.7,398.0 C235.5,397.5 233.3,393.1 234.0,392.0Z M275.3,385.3 C275.7,384.2 279.1,383.3 280.0,384.0 C280.9,384.7 283.1,389.6 282.7,390.7 C282.3,391.8 277.6,393.4 276.7,392.7 C275.8,392.0 274.9,386.4 275.3,385.3Z M259.3,392.0 C259.9,391.2 264.2,390.5 264.7,391.3 C265.2,392.1 263.9,397.9 263.3,398.7 C262.7,399.5 260.5,398.8 260.0,398.0 C259.5,397.2 258.7,392.8 259.3,392.0Z M283.3,405.3 C283.7,403.3 286.8,404.7 287.3,406.7 C287.8,408.7 287.7,419.3 287.3,421.3 C286.9,423.3 284.5,424.7 284.0,422.7 C283.5,420.7 282.9,407.3 283.3,405.3Z M297.3,412.0 C297.7,411.2 300.8,410.7 301.3,411.3 C301.8,411.9 301.7,415.9 301.3,416.7 C300.9,417.4 298.5,417.9 298.0,417.3 C297.5,416.7 296.9,412.8 297.3,412.0Z M296.7,442.0 C297.1,441.3 299.6,440.7 300.0,441.3 C300.4,441.9 300.4,446.0 300.0,446.7 C299.6,447.4 297.1,447.3 296.7,446.7 C296.3,446.1 296.3,442.7 296.7,442.0Z M242.0,441.3 C242.5,440.9 245.6,442.0 246.0,442.7 C246.4,443.4 245.8,446.3 245.3,446.7 C244.8,447.1 242.4,446.7 242.0,446.0 C241.6,445.3 241.5,441.7 242.0,441.3Z M223.3,442.7 C223.9,442.3 228.1,442.8 228.7,443.3 C229.3,443.8 228.6,446.3 228.0,446.7 C227.4,447.1 224.6,447.2 224.0,446.7 C223.4,446.2 222.7,443.1 223.3,442.7Z M260.7,480.0 C261.4,479.6 265.4,480.1 266.0,480.7 C266.6,481.3 266.0,484.3 265.3,484.7 C264.6,485.1 261.3,484.6 260.7,484.0 C260.1,483.4 260.0,480.4 260.7,480.0Z M176.0,394.7 C176.5,393.6 179.7,392.5 180.0,393.3 C180.3,394.1 179.2,400.2 178.7,401.3 C178.2,402.4 176.3,402.8 176.0,402.0 C175.7,401.2 175.5,395.8 176.0,394.7Z M164.7,417.3 C165.3,416.4 169.9,417.5 170.7,418.7 C171.5,419.9 171.9,425.8 171.3,426.7 C170.7,427.6 166.8,427.2 166.0,426.0 C165.2,424.8 164.1,418.2 164.7,417.3Z M169.3,430.0 C170.2,429.3 176.2,428.8 177.3,429.3 C178.4,429.8 178.9,433.3 178.0,434.0 C177.1,434.7 171.1,435.2 170.0,434.7 C168.9,434.2 168.4,430.7 169.3,430.0Z M84.0,234.0 L83.3,224.0 L86.0,218.7 L88.0,213.3 L97.3,212.0 L95.3,205.3 L87.7,204.3 L88.8,194.7 L100.0,192.7 L101.1,200.0 L110.0,196.3 L107.3,190.7 L111.3,187.3 L124.7,186.9 L126.0,197.3 L128.0,210.7 L142.7,217.3 L160.0,209.3 L173.3,202.7 L176.0,196.7 L189.3,192.0 L189.3,185.3 L185.3,182.7 L182.7,173.3 L181.3,164.0 L188.0,162.4 L200.0,156.0 L208.0,154.7 L220.0,153.3 L219.3,164.0 L223.3,178.7 L221.3,186.7 L226.7,193.3 L217.3,200.0 L216.0,206.7 L208.7,210.7 L198.7,204.0 L192.0,206.7 L185.3,209.3 L173.3,213.3 L169.3,220.0 L168.0,232.0 L162.7,230.7 L164.0,222.7 L152.0,223.3 L144.0,222.7 L136.0,225.3 L133.3,228.0 L138.7,232.0 L128.0,236.0 L122.7,241.3 L112.0,246.7 L101.3,248.0 L93.3,246.7 L89.3,238.7Z M229.3,148.7 L237.3,142.7 L244.7,141.3 L242.0,135.7 L250.4,134.9 L246.0,141.3 L252.7,146.0 L252.7,154.7 L245.3,162.7 L237.3,160.0 L232.0,157.3Z M230.7,244.0 C230.7,241.2 232.9,235.6 234.7,233.3 C236.5,231.0 243.0,227.3 245.3,225.3 C247.6,223.3 250.6,219.1 253.3,217.3 C256.0,215.5 263.4,211.7 266.7,210.7 C270.0,209.7 277.0,209.1 280.0,209.3 C283.0,209.5 288.4,210.5 290.7,212.0 C293.0,213.5 297.2,218.6 298.7,221.3 C300.2,224.0 302.4,230.8 302.7,233.3 C303.0,235.8 302.5,239.3 301.3,241.3 C300.1,243.3 295.3,248.1 293.3,249.3 C291.3,250.5 287.0,251.4 285.3,250.7 C283.6,250.0 281.7,245.3 280.0,244.0 C278.3,242.7 274.3,241.2 272.0,240.0 C269.7,238.8 263.6,235.0 261.3,234.7 C259.0,234.4 255.0,236.0 253.3,237.3 C251.6,238.6 249.7,242.8 248.0,245.3 C246.3,247.8 241.7,256.0 240.0,257.3 C238.3,258.6 235.9,257.7 234.7,256.0 C233.5,254.3 230.7,246.8 230.7,244.0Z M320.0,190.7 C320.5,188.3 321.0,185.4 324.0,184.8 C327.0,184.2 341.2,184.8 344.0,185.9 C346.8,187.0 345.4,191.0 346.7,193.3 C348.0,195.6 353.0,201.3 354.7,204.0 C356.4,206.7 359.8,212.2 360.0,214.7 C360.2,217.2 357.7,222.7 356.0,224.0 C354.3,225.3 348.9,226.1 346.7,225.3 C344.5,224.5 340.7,219.0 338.7,217.3 C336.7,215.6 332.9,212.3 330.7,212.0 C328.5,211.7 322.6,215.7 321.3,214.7 C320.0,213.7 320.2,207.0 320.0,204.0 C319.8,201.0 319.5,193.1 320.0,190.7Z M322.7,220.0 C323.9,218.8 329.4,217.7 330.7,218.7 C332.0,219.7 333.3,225.7 333.3,228.0 C333.3,230.3 331.9,236.3 330.7,237.3 C329.5,238.3 325.2,237.2 324.0,236.0 C322.8,234.8 321.5,230.0 321.3,228.0 C321.1,226.0 321.5,221.2 322.7,220.0Z M372.0,198.7 C372.8,196.7 375.8,192.8 377.3,193.3 C378.8,193.8 383.0,200.5 384.0,202.7 C385.0,204.9 386.3,209.2 385.3,210.7 C384.3,212.2 377.8,214.9 376.0,214.7 C374.2,214.5 371.7,211.3 371.2,209.3 C370.7,207.3 371.2,200.7 372.0,198.7Z M121.3,293.3 C122.6,292.0 126.7,290.8 128.0,292.0 C129.3,293.2 132.0,300.0 132.0,302.7 C132.0,305.4 129.5,311.3 128.0,313.3 C126.5,315.3 121.7,317.4 120.0,318.7 C118.3,320.0 115.9,323.8 114.7,324.0 C113.5,324.2 110.9,321.7 110.7,320.0 C110.5,318.3 112.5,312.9 113.3,310.7 C114.1,308.5 116.3,304.9 117.3,302.7 C118.3,300.5 120.0,294.6 121.3,293.3Z M89.3,284.0 C90.3,281.3 94.8,280.6 96.0,281.3 C97.2,282.0 99.0,287.0 98.7,289.3 C98.4,291.6 94.6,298.3 93.3,300.0 C92.0,301.7 88.5,304.7 88.0,302.7 C87.5,300.7 88.3,286.7 89.3,284.0Z M122.7,264.0 C123.5,262.7 129.6,261.7 130.7,262.7 C131.8,263.7 132.0,270.7 131.2,272.0 C130.4,273.3 125.1,274.3 124.0,273.3 C122.9,272.3 121.9,265.3 122.7,264.0Z M133.3,245.3 C134.6,244.2 147.1,243.3 149.3,244.0 C151.5,244.7 152.0,249.6 150.7,250.7 C149.4,251.8 140.9,253.2 138.7,252.5 C136.5,251.8 132.0,246.4 133.3,245.3Z M108.0,274.7 C109.0,273.7 116.0,272.6 117.3,273.3 C118.6,274.0 119.7,279.0 118.7,280.0 C117.7,281.0 110.6,282.0 109.3,281.3 C108.0,280.6 107.0,275.7 108.0,274.7Z M241.3,300.0 C242.5,298.5 248.9,297.0 250.7,297.3 C252.5,297.6 256.0,301.2 256.0,302.7 C256.0,304.2 252.5,308.5 250.7,309.3 C248.9,310.1 242.5,310.5 241.3,309.3 C240.1,308.1 240.1,301.5 241.3,300.0Z M264.0,300.0 C265.3,298.0 270.2,294.4 272.0,294.7 C273.8,295.0 278.0,300.4 278.7,302.7 C279.4,305.0 278.8,311.6 277.3,313.3 C275.8,315.0 268.7,316.3 266.7,316.0 C264.7,315.7 261.6,312.7 261.3,310.7 C261.0,308.7 262.7,302.0 264.0,300.0Z M302.7,284.0 C303.8,282.5 307.8,279.7 309.3,280.0 C310.8,280.3 314.2,284.5 314.7,286.7 C315.2,288.9 314.6,295.8 313.3,297.3 C312.0,298.8 305.6,299.4 304.0,298.7 C302.4,298.0 301.0,293.8 300.8,292.0 C300.6,290.2 301.6,285.5 302.7,284.0Z M344.0,300.0 C345.0,298.7 353.0,296.6 354.7,297.3 C356.4,298.0 358.3,304.0 357.3,305.3 C356.3,306.6 348.4,308.7 346.7,308.0 C345.0,307.3 343.0,301.3 344.0,300.0Z M342.7,314.7 C343.7,312.9 349.5,311.6 350.7,313.3 C351.9,315.0 353.0,326.2 352.0,328.0 C351.0,329.8 343.9,329.7 342.7,328.0 C341.5,326.3 341.7,316.5 342.7,314.7Z M396.9,162.7 C397.3,160.4 400.4,153.3 401.5,153.3 C402.6,153.3 405.6,160.4 406.0,162.7 C406.4,165.0 405.6,170.4 404.7,171.5 C403.8,172.6 399.5,172.6 398.5,171.5 C397.5,170.4 396.5,165.0 396.9,162.7Z M372.7,194.7 C373.5,192.4 376.5,191.5 378.0,193.3 C379.5,195.1 384.5,206.6 384.7,209.3 C384.9,212.0 380.9,214.4 379.3,214.7 C377.7,215.0 372.7,214.5 371.9,212.0 C371.1,209.5 371.9,197.0 372.7,194.7Z M483.3,270.7 C483.6,269.4 487.2,267.7 488.7,268.0 C490.2,268.3 494.6,272.0 495.3,273.3 C496.0,274.6 495.2,278.0 494.0,278.7 C492.8,279.4 487.3,279.7 486.0,278.7 C484.7,277.7 483.0,272.0 483.3,270.7Z M378.0,294.7 C379.7,292.9 386.8,291.0 390.0,290.7 C393.2,290.4 401.0,290.5 403.3,292.0 C405.6,293.5 408.2,299.7 408.7,302.7 C409.2,305.7 409.0,313.8 407.3,316.0 C405.6,318.2 397.8,319.0 395.3,320.0 C392.8,321.0 389.1,324.2 387.3,324.0 C385.5,323.8 382.0,321.0 380.7,318.7 C379.4,316.4 377.0,308.3 376.7,305.3 C376.4,302.3 376.3,296.5 378.0,294.7Z M420.7,306.7 C421.2,305.4 426.1,302.4 427.3,302.7 C428.5,303.0 430.5,308.0 430.0,309.3 C429.5,310.6 424.5,313.6 423.3,313.3 C422.1,313.0 420.2,308.0 420.7,306.7Z M486.0,286.7 C486.6,286.3 490.7,286.7 491.3,287.2 C491.9,287.7 491.4,290.3 490.8,290.7 C490.2,291.1 487.1,290.9 486.5,290.4 C485.9,289.9 485.4,287.1 486.0,286.7Z M34.7,327.9 C35.7,326.4 37.7,316.4 40.0,314.0 C42.3,311.6 50.0,310.7 53.3,308.7 C56.6,306.7 64.4,299.3 66.7,298.0 C69.0,296.7 69.7,297.2 72.0,298.0 C74.3,298.8 82.8,302.9 85.3,304.7 C87.8,306.5 91.0,310.4 92.0,312.7 C93.0,315.0 93.5,320.6 93.3,323.3 C93.1,326.0 92.4,332.0 90.7,334.0 C89.0,336.0 83.3,338.5 80.0,339.3 C76.7,340.1 67.3,340.0 64.0,340.7 C60.7,341.4 56.0,343.9 53.3,344.7 C50.6,345.5 45.4,347.6 42.7,347.3 C40.0,347.0 34.5,342.5 32.0,342.0 C29.5,341.5 22.9,344.1 22.7,343.3 C22.5,342.5 29.5,337.5 30.7,335.3 C31.9,333.1 31.5,326.9 32.0,326.0 C32.5,325.1 33.7,329.4 34.7,327.9Z M88.0,342.0 C89.3,340.7 97.3,338.7 101.3,338.0 C105.3,337.3 117.0,337.5 120.0,336.7 C123.0,335.9 123.0,331.5 125.3,331.3 C127.6,331.1 134.4,334.6 138.7,335.3 C143.0,336.0 156.0,336.2 160.0,336.7 C164.0,337.2 169.0,338.0 170.7,339.3 C172.4,340.6 174.0,345.6 173.3,347.3 C172.6,349.0 168.3,352.4 165.3,352.7 C162.3,353.0 152.6,350.7 149.3,350.0 C146.0,349.3 141.7,347.5 138.7,347.3 C135.7,347.1 128.6,348.4 125.3,348.7 C122.0,349.0 115.0,350.2 112.0,350.0 C109.0,349.8 104.0,347.5 101.3,347.3 C98.6,347.1 92.4,349.4 90.7,348.7 C89.0,348.0 86.7,343.3 88.0,342.0Z M112.0,307.3 C114.2,306.0 126.7,306.0 128.0,307.3 C129.3,308.6 124.4,316.0 122.7,318.0 C121.0,320.0 116.2,323.3 114.7,323.3 C113.2,323.3 111.0,320.0 110.7,318.0 C110.4,316.0 109.8,308.6 112.0,307.3Z M62.7,344.7 C64.2,343.4 72.2,341.3 74.7,342.0 C77.2,342.7 82.4,348.0 82.7,350.0 C83.0,352.0 79.1,356.8 77.3,358.0 C75.5,359.2 69.8,360.0 68.0,359.3 C66.2,358.6 63.4,354.5 62.7,352.7 C62.0,350.9 61.2,346.0 62.7,344.7Z M104.0,359.3 C105.0,358.3 112.0,355.0 114.7,355.3 C117.4,355.6 122.6,362.3 125.3,362.0 C128.0,361.7 133.0,353.7 136.0,352.7 C139.0,351.7 148.1,352.7 149.3,354.0 C150.5,355.3 147.3,361.3 145.3,363.3 C143.3,365.3 135.8,369.5 133.3,370.0 C130.8,370.5 127.3,368.0 125.3,367.3 C123.3,366.6 119.6,365.2 117.3,364.7 C115.0,364.2 108.4,364.0 106.7,363.3 C105.0,362.6 103.0,360.3 104.0,359.3Z M169.3,358.0 C169.8,356.0 174.2,352.0 176.0,352.7 C177.8,353.4 183.2,360.3 184.0,363.3 C184.8,366.3 183.7,374.9 182.7,376.7 C181.7,378.5 177.3,379.0 176.0,378.0 C174.7,377.0 172.8,371.2 172.0,368.7 C171.2,366.2 168.8,360.0 169.3,358.0Z M42.7,387.3 C43.7,386.0 50.1,385.2 53.3,384.7 C56.5,384.2 66.0,382.3 68.0,383.3 C70.0,384.3 70.5,390.9 69.3,392.7 C68.1,394.5 61.7,397.7 58.7,398.0 C55.7,398.3 47.3,396.6 45.3,395.3 C43.3,394.0 41.7,388.6 42.7,387.3Z M49.3,366.0 C50.6,365.0 57.2,363.9 58.7,364.7 C60.2,365.5 62.0,371.2 61.3,372.7 C60.6,374.2 55.0,376.7 53.3,376.7 C51.6,376.7 48.5,374.0 48.0,372.7 C47.5,371.4 48.0,367.0 49.3,366.0Z M74.7,407.3 C75.9,406.1 83.8,405.2 85.3,406.0 C86.8,406.8 87.9,412.8 86.7,414.0 C85.5,415.2 77.5,416.1 76.0,415.3 C74.5,414.5 73.5,408.5 74.7,407.3Z M168.0,414.0 C169.8,412.7 177.6,410.7 181.3,410.0 C185.0,409.3 194.3,407.9 197.3,408.7 C200.3,409.5 203.8,414.7 205.3,416.7 C206.8,418.7 210.3,423.2 209.3,424.7 C208.3,426.2 200.1,428.4 197.3,428.7 C194.5,429.0 189.4,428.1 186.7,427.3 C184.0,426.5 178.5,422.8 176.0,422.0 C173.5,421.2 167.7,421.7 166.7,420.7 C165.7,419.7 166.2,415.3 168.0,414.0Z M204.0,439.3 C204.7,437.5 209.2,432.5 210.7,432.7 C212.2,432.9 215.7,438.7 216.0,440.7 C216.3,442.7 214.6,447.9 213.3,448.7 C212.0,449.5 206.5,448.5 205.3,447.3 C204.1,446.1 203.3,441.1 204.0,439.3Z M241.3,411.3 C242.1,408.6 247.9,401.7 250.7,400.7 C253.5,399.7 262.0,401.3 264.0,403.3 C266.0,405.3 265.7,413.7 266.7,416.7 C267.7,419.7 270.2,425.0 272.0,427.3 C273.8,429.6 280.0,433.3 281.3,435.3 C282.6,437.3 283.5,441.3 282.7,443.3 C281.9,445.3 276.7,449.3 274.7,451.3 C272.7,453.3 268.0,457.3 266.7,459.3 C265.4,461.3 265.2,466.0 264.0,467.3 C262.8,468.6 258.3,471.7 257.3,470.0 C256.3,468.3 256.0,457.7 256.0,454.0 C256.0,450.3 258.0,443.7 257.3,440.7 C256.6,437.7 252.4,432.3 250.7,430.0 C249.0,427.7 245.2,424.3 244.0,422.0 C242.8,419.7 240.5,414.0 241.3,411.3Z M280.0,451.3 C281.2,449.8 285.5,452.0 286.7,454.0 C287.9,456.0 289.8,464.6 289.3,467.3 C288.8,470.0 282.9,473.6 282.7,475.3 C282.5,477.0 288.7,479.7 288.0,480.7 C287.3,481.7 279.6,483.6 277.3,483.3 C275.0,483.0 270.6,479.5 269.3,478.0 C268.0,476.5 265.7,472.8 266.7,471.3 C267.7,469.8 275.6,468.5 277.3,466.0 C279.0,463.5 278.8,452.8 280.0,451.3Z M284.0,350.0 C285.3,346.3 291.3,335.7 293.3,334.0 C295.3,332.3 298.3,334.4 300.0,336.7 C301.7,339.0 305.2,348.4 306.7,352.7 C308.2,357.0 311.7,367.8 312.0,371.3 C312.3,374.8 311.6,379.4 309.3,380.7 C307.0,382.0 296.3,382.5 293.3,382.0 C290.3,381.5 286.6,379.0 285.3,376.7 C284.0,374.4 282.9,366.6 282.7,363.3 C282.5,360.0 282.7,353.7 284.0,350.0Z M342.7,339.3 C344.4,337.6 352.5,340.7 354.7,342.0 C356.9,343.3 357.3,349.0 360.0,350.0 C362.7,351.0 372.7,350.2 376.0,350.0 C379.3,349.8 383.7,350.7 386.7,348.7 C389.7,346.7 396.9,334.3 400.0,334.0 C403.1,333.7 410.3,342.7 411.2,346.0 C412.1,349.3 409.0,357.7 407.2,360.7 C405.4,363.7 398.7,367.2 396.5,370.0 C394.3,372.8 391.6,380.3 389.9,383.3 C388.2,386.3 384.7,391.8 383.2,394.0 C381.7,396.2 378.7,398.7 377.9,400.7 C377.1,402.7 376.5,407.2 376.5,410.0 C376.5,412.8 378.1,420.8 377.9,423.3 C377.7,425.8 375.2,428.0 375.2,430.0 C375.2,432.0 377.2,437.1 377.9,439.3 C378.6,441.5 380.8,445.6 380.5,447.3 C380.2,449.0 376.9,452.2 375.2,452.7 C373.5,453.2 369.2,451.8 367.2,451.3 C365.2,450.8 360.4,450.2 359.2,448.7 C358.0,447.2 357.4,441.8 357.9,439.3 C358.4,436.8 362.2,431.0 363.2,428.7 C364.2,426.4 365.4,423.0 365.9,420.7 C366.4,418.4 367.0,413.0 367.2,410.0 C367.4,407.0 368.5,398.7 367.2,396.7 C365.9,394.7 358.3,395.3 356.5,394.0 C354.7,392.7 353.2,389.0 352.5,386.0 C351.8,383.0 351.9,372.8 351.2,370.0 C350.5,367.2 347.9,365.1 346.7,363.3 C345.5,361.5 341.8,358.3 341.3,355.3 C340.8,352.3 341.0,341.0 342.7,339.3Z M342.7,316.7 C343.5,314.9 349.5,312.7 350.7,314.0 C351.9,315.3 352.8,325.5 352.0,327.3 C351.2,329.1 345.2,330.0 344.0,328.7 C342.8,327.4 341.9,318.5 342.7,316.7Z M377.3,298.0 C378.0,295.0 380.2,294.3 384.0,294.0 C387.8,293.7 405.0,292.3 408.0,295.3 C411.0,298.3 411.0,314.3 408.0,318.0 C405.0,321.7 387.7,324.7 384.0,324.7 C380.3,324.7 379.5,321.3 378.7,318.0 C377.9,314.7 376.6,301.0 377.3,298.0Z M261.3,308.7 C263.1,307.8 275.5,307.9 277.3,308.7 C279.1,309.5 277.8,314.4 276.0,315.3 C274.2,316.2 264.5,316.7 262.7,315.9 C260.9,315.1 259.5,309.6 261.3,308.7Z M224.0,400.7 C224.6,399.7 228.7,400.0 229.3,401.2 C229.9,402.4 229.4,409.0 228.8,410.0 C228.2,411.0 225.1,410.4 224.5,409.2 C223.9,408.0 223.4,401.7 224.0,400.7Z M366.7,471.3 C367.5,470.0 373.5,469.0 374.7,470.0 C375.9,471.0 376.8,478.0 376.0,479.3 C375.2,480.6 369.2,481.7 368.0,480.7 C366.8,479.7 365.9,472.6 366.7,471.3Z M373.3,488.7 C374.5,487.0 382.8,484.0 384.0,484.7 C385.2,485.4 383.9,492.3 382.7,494.0 C381.5,495.7 375.9,498.7 374.7,498.0 C373.5,497.3 372.1,490.4 373.3,488.7Z M357.9,490.0 C358.5,488.7 362.4,487.7 363.2,488.7 C364.0,489.7 364.6,496.7 364.0,498.0 C363.4,499.3 359.5,500.3 358.7,499.3 C357.9,498.3 357.3,491.3 357.9,490.0Z M355.2,466.0 C355.8,465.0 359.7,463.9 360.5,464.7 C361.3,465.5 361.9,471.1 361.3,472.1 C360.7,473.1 356.8,473.5 356.0,472.7 C355.2,471.9 354.6,467.0 355.2,466.0Z M344.0,470.5 C344.6,469.8 348.6,469.4 349.3,470.0 C350.0,470.6 349.9,474.6 349.3,475.3 C348.7,476.0 345.2,475.9 344.5,475.3 C343.8,474.7 343.4,471.2 344.0,470.5Z M330.7,470.5 C331.3,470.0 335.3,469.6 336.0,470.0 C336.7,470.4 336.6,473.5 336.0,474.0 C335.4,474.5 331.9,474.4 331.2,474.0 C330.5,473.6 330.1,471.0 330.7,470.5Z M220.0,344.7 C221.1,342.7 226.8,340.8 228.0,342.0 C229.2,343.2 229.8,351.5 229.3,354.0 C228.8,356.5 225.3,361.5 224.0,362.0 C222.7,362.5 219.7,360.2 219.2,358.0 C218.7,355.8 218.9,346.7 220.0,344.7Z M248.0,376.7 C249.7,376.0 260.7,376.0 262.7,376.7 C264.7,377.4 265.7,381.3 264.0,382.0 C262.3,382.7 251.3,383.2 249.3,382.5 C247.3,381.8 246.3,377.4 248.0,376.7Z M378.0,307.3 C381.2,305.1 403.6,306.0 407.3,307.3 C411.0,308.6 409.1,316.3 407.3,318.0 C405.5,319.7 395.9,319.9 392.7,320.7 C389.5,321.5 383.8,326.4 382.0,324.7 C380.2,323.0 374.8,309.5 378.0,307.3Z M407.3,328.7 C408.1,327.4 415.2,326.3 416.7,327.3 C418.2,328.3 420.1,335.4 419.3,336.7 C418.5,338.0 411.5,339.0 410.0,338.0 C408.5,337.0 406.5,330.0 407.3,328.7Z M415.3,411.3 C416.5,408.0 420.5,396.6 422.0,395.3 C423.5,394.0 426.5,398.0 427.3,400.7 C428.1,403.4 428.2,412.7 428.7,416.7 C429.2,420.7 431.8,429.7 431.3,432.7 C430.8,435.7 426.4,438.9 424.7,440.7 C423.0,442.5 419.3,448.0 418.0,447.3 C416.7,446.6 414.7,438.5 414.0,435.3 C413.3,432.1 412.5,425.0 412.7,422.0 C412.9,419.0 414.1,414.6 415.3,411.3Z M392.7,458.0 C393.9,456.7 401.5,453.7 403.3,454.0 C405.1,454.3 407.6,459.2 407.3,460.7 C407.0,462.2 402.4,465.5 400.7,466.0 C399.0,466.5 395.0,465.7 394.0,464.7 C393.0,463.7 391.5,459.3 392.7,458.0Z M363.3,474.0 C364.0,472.7 372.3,469.7 374.0,470.0 C375.7,470.3 377.4,475.4 376.7,476.7 C376.0,478.0 370.4,481.0 368.7,480.7 C367.0,480.4 362.6,475.3 363.3,474.0Z M371.3,494.0 C372.0,492.3 380.3,485.0 382.0,484.7 C383.7,484.4 385.4,489.6 384.7,491.3 C384.0,493.0 378.4,497.7 376.7,498.0 C375.0,498.3 370.6,495.7 371.3,494.0Z M356.7,490.0 C357.4,488.7 362.0,487.7 362.8,488.7 C363.6,489.7 364.0,496.7 363.3,498.0 C362.6,499.3 358.3,500.3 357.5,499.3 C356.7,498.3 356.0,491.3 356.7,490.0Z M467.3,367.3 C468.0,366.0 471.5,363.0 472.7,363.3 C473.9,363.6 476.7,368.5 476.7,370.0 C476.7,371.5 473.9,374.9 472.7,375.3 C471.5,375.7 467.5,374.5 466.8,373.5 C466.1,372.5 466.6,368.6 467.3,367.3Z M454.5,386.8 C455.4,386.0 461.4,385.3 462.5,386.0 C463.6,386.7 464.2,391.3 463.3,392.1 C462.4,392.9 456.4,393.4 455.3,392.7 C454.2,392.0 453.6,387.6 454.5,386.8Z M463.3,328.1 C464.0,327.4 469.5,326.7 470.5,327.3 C471.5,327.9 472.0,332.0 471.3,332.7 C470.6,333.4 465.7,333.5 464.7,332.9 C463.7,332.3 462.6,328.8 463.3,328.1Z M498.0,330.0 C499.3,328.5 508.0,325.2 510.0,325.5 C512.0,325.8 514.2,331.3 514.0,332.7 C513.8,334.1 510.5,336.1 508.7,336.7 C506.9,337.3 500.6,338.0 499.3,337.2 C498.0,336.4 496.7,331.5 498.0,330.0Z M455.3,463.9 C455.7,463.4 458.3,462.9 458.8,463.3 C459.3,463.7 459.7,466.3 459.3,466.8 C458.9,467.3 456.4,467.7 455.9,467.3 C455.4,466.9 454.9,464.4 455.3,463.9Z M607.3,371.9 C607.8,371.2 611.4,370.7 612.1,371.3 C612.8,371.9 613.2,376.0 612.7,376.7 C612.2,377.4 608.8,377.3 608.1,376.7 C607.4,376.1 606.8,372.6 607.3,371.9Z M618.0,367.9 C618.4,367.4 621.5,366.9 622.0,367.3 C622.5,367.7 622.4,370.8 622.0,371.3 C621.6,371.8 619.0,371.7 618.5,371.3 C618.0,370.9 617.6,368.4 618.0,367.9Z M622.0,385.2 C622.5,384.5 626.1,384.2 626.8,384.7 C627.5,385.2 627.8,388.8 627.3,389.5 C626.8,390.2 623.2,390.5 622.5,390.0 C621.8,389.5 621.5,385.9 622.0,385.2Z M628.7,381.2 C629.1,380.7 631.6,380.3 632.1,380.7 C632.6,381.1 633.1,384.2 632.7,384.7 C632.3,385.2 629.7,385.1 629.2,384.7 C628.7,384.3 628.3,381.7 628.7,381.2Z M634.0,374.5 C634.4,374.0 637.0,373.6 637.5,374.0 C638.0,374.4 638.4,377.5 638.0,378.0 C637.6,378.5 635.0,378.4 634.5,378.0 C634.0,377.6 633.6,375.0 634.0,374.5Z M642.0,372.9 C642.4,372.5 645.0,372.3 645.5,372.7 C646.0,373.1 646.4,375.7 646.0,376.1 C645.6,376.5 643.0,376.5 642.5,376.1 C642.0,375.7 641.6,373.3 642.0,372.9Z M292.0,592.0 C292.3,590.0 299.5,581.3 301.3,580.0 C303.1,578.7 305.7,579.5 306.7,581.3 C307.7,583.1 310.3,592.9 309.3,594.7 C308.3,596.5 300.9,596.3 298.7,596.0 C296.5,595.7 291.7,594.0 292.0,592.0Z M317.3,577.3 C317.8,576.5 321.9,575.4 322.7,576.0 C323.5,576.6 324.5,581.1 324.0,581.9 C323.5,582.7 319.5,583.3 318.7,582.7 C317.9,582.1 316.8,578.1 317.3,577.3Z M336.0,591.5 C336.4,590.8 339.2,590.2 339.7,590.7 C340.2,591.2 340.4,594.8 340.0,595.5 C339.6,596.2 337.0,596.5 336.5,596.0 C336.0,595.5 335.6,592.2 336.0,591.5Z M344.0,637.3 C344.4,636.2 347.4,635.8 348.0,636.8 C348.6,637.8 348.9,644.2 348.5,645.3 C348.1,646.4 345.1,646.3 344.5,645.3 C343.9,644.3 343.6,638.4 344.0,637.3Z M346.1,612.0 C346.4,611.4 348.9,610.9 349.3,611.5 C349.7,612.1 349.6,615.9 349.3,616.5 C349.0,617.1 347.1,617.1 346.7,616.5 C346.3,615.9 345.8,612.6 346.1,612.0Z M346.1,622.7 C346.4,621.9 348.5,621.9 348.8,622.7 C349.1,623.5 349.1,628.5 348.8,629.3 C348.5,630.1 346.7,630.1 346.4,629.3 C346.1,628.5 345.8,623.5 346.1,622.7Z M385.9,684.0 C386.3,683.2 388.5,682.5 388.8,683.2 C389.1,683.9 388.7,688.5 388.3,689.3 C387.9,690.1 385.9,690.6 385.6,689.9 C385.3,689.2 385.5,684.8 385.9,684.0Z M382.7,700.8 C383.1,700.2 386.1,698.9 386.7,699.2 C387.3,699.5 387.6,702.9 387.2,703.5 C386.8,704.1 384.1,704.3 383.5,704.0 C382.9,703.7 382.3,701.4 382.7,700.8Z M373.9,714.1 C374.5,713.5 378.5,713.1 379.2,713.6 C379.9,714.1 380.3,717.3 379.7,717.9 C379.1,718.5 375.1,718.9 374.4,718.4 C373.7,717.9 373.3,714.7 373.9,714.1Z M362.1,715.5 C362.4,715.0 364.9,714.5 365.3,714.9 C365.7,715.3 365.9,718.2 365.6,718.7 C365.3,719.2 363.1,719.3 362.7,718.9 C362.3,718.5 361.8,716.0 362.1,715.5Z" fill="#1f6a49"/>
<path d="M163.1,402.7 C163.0,404.4 162.7,412.9 162.7,416.7 C162.7,420.4 163.0,430.0 163.3,432.7 C163.6,435.4 165.1,437.3 165.3,438.0" fill="none" stroke="#6fa6c0" stroke-width="4.0" stroke-linecap="round" stroke-linejoin="round"/>
<path d="M84.8,220.0 C86.2,220.8 91.9,225.4 96.0,226.7 C100.1,228.0 112.0,229.9 117.3,230.7 C122.6,231.5 132.7,233.3 138.7,233.3 C144.7,233.3 159.0,231.3 165.3,230.7 C171.6,230.1 184.6,228.2 189.3,228.5 C194.0,228.8 198.7,231.4 202.7,233.3 C206.7,235.2 217.6,241.7 221.3,244.0 C225.0,246.3 229.7,249.7 232.0,252.0 C234.3,254.3 237.7,260.0 240.0,262.7 C242.3,265.4 247.9,271.0 250.7,273.3 C253.5,275.6 261.2,280.3 262.7,281.3" fill="none" stroke="#6fa6c0" stroke-width="4.0" stroke-linecap="round" stroke-linejoin="round"/>
<path d="M117.3,230.7 C117.5,229.4 117.9,222.3 118.7,220.0 C119.5,217.7 123.5,214.3 124.0,212.0 C124.5,209.7 123.5,203.6 122.7,201.3 C121.9,199.0 119.0,194.7 117.3,193.3 C115.6,191.9 110.3,190.5 109.3,190.1" fill="none" stroke="#6fa6c0" stroke-width="2.6" stroke-linecap="round" stroke-linejoin="round"/>
<path d="M88.0,220.0 C88.7,218.3 93.1,209.4 93.3,206.7 C93.5,204.0 89.8,199.7 89.3,198.7" fill="none" stroke="#6fa6c0" stroke-width="2.0" stroke-linecap="round" stroke-linejoin="round"/>
<path d="M72.0,300.0 C73.7,300.7 82.0,305.6 85.3,305.3 C88.6,305.0 95.7,298.6 98.7,297.3 C101.7,296.0 108.8,296.4 109.3,294.7 C109.8,293.0 102.0,285.7 102.7,284.0 C103.4,282.3 111.9,282.1 114.7,281.3 C117.5,280.5 122.3,277.6 125.3,277.3 C128.3,277.0 135.0,278.4 138.7,278.7 C142.4,279.0 151.4,278.7 154.7,280.0 C158.0,281.3 162.0,287.0 165.3,289.3 C168.6,291.6 176.6,297.4 181.3,298.7 C186.0,300.0 197.7,300.3 202.7,300.0 C207.7,299.7 216.6,297.3 221.3,296.0 C226.0,294.7 235.7,290.8 240.0,289.3 C244.3,287.8 252.7,285.0 256.0,284.0 C259.3,283.0 265.4,281.6 266.7,281.3" fill="none" stroke="#6fa6c0" stroke-width="4.6" stroke-linecap="round" stroke-linejoin="round"/>
<path d="M262.7,281.9 C265.2,281.5 278.9,280.1 282.7,278.7 C286.5,277.3 290.0,272.2 293.3,270.7 C296.6,269.2 306.0,268.0 309.3,266.7 C312.6,265.4 317.0,260.8 320.0,260.0 C323.0,259.2 330.0,259.7 333.3,260.0 C336.6,260.3 344.0,262.7 346.7,262.7 C349.4,262.7 351.4,261.0 354.7,260.0 C358.0,259.0 369.3,255.7 373.3,254.7 C377.3,253.7 383.4,252.8 386.7,252.0 C390.0,251.2 402.6,247.7 400.0,248.0 C397.4,248.3 368.2,254.4 366.0,254.7 C363.8,255.0 378.7,251.5 382.0,250.7 C385.3,249.9 390.0,249.8 392.7,248.0 C395.4,246.2 400.3,239.2 403.3,236.0 C406.3,232.8 413.7,225.0 416.7,222.7 C419.7,220.4 425.2,217.8 427.3,217.3 C429.4,216.8 432.5,218.5 433.2,218.7" fill="none" stroke="#6fa6c0" stroke-width="7.0" stroke-linecap="round" stroke-linejoin="round"/>
<path d="M266.7,284.0 C265.4,285.7 259.3,293.6 256.0,297.3 C252.7,301.0 243.0,309.6 240.0,313.3 C237.0,317.0 232.0,325.8 232.0,326.7 C232.0,327.6 240.7,320.4 240.0,320.7 C239.3,320.9 230.0,326.4 226.7,328.7 C223.4,331.0 216.0,336.3 213.3,339.3 C210.6,342.3 207.3,349.0 205.3,352.7 C203.3,356.4 199.0,365.7 197.3,368.7 C195.6,371.7 194.0,374.9 192.0,376.7 C190.0,378.5 184.0,381.6 181.3,383.3 C178.6,385.0 173.2,387.8 170.7,390.0 C168.2,392.2 162.6,397.4 161.3,400.7 C160.0,404.0 159.8,412.7 160.0,416.7 C160.2,420.7 162.4,430.7 162.7,432.7" fill="none" stroke="#6fa6c0" stroke-width="4.2" stroke-linecap="round" stroke-linejoin="round"/>
<path d="M264.0,284.0 C261.0,285.0 245.3,290.3 240.0,292.0 C234.7,293.7 224.6,295.0 221.3,297.3 C218.0,299.6 216.0,307.7 213.3,310.7 C210.6,313.7 201.7,319.7 200.0,321.3 C198.3,322.9 200.3,322.1 200.0,323.3 C199.7,324.6 199.0,329.6 197.3,331.3 C195.6,333.0 189.0,336.7 186.7,336.7 C184.4,336.7 180.7,331.6 178.7,331.3 C176.7,331.0 171.0,332.3 170.7,334.0 C170.4,335.7 176.7,342.4 176.0,344.7 C175.3,347.0 168.0,350.9 165.3,352.7 C162.6,354.5 157.0,358.0 154.7,359.3 C152.4,360.6 148.7,363.3 146.7,363.3 C144.7,363.3 141.0,359.1 138.7,359.3 C136.4,359.5 130.7,363.7 128.0,364.7 C125.3,365.7 118.6,365.3 117.3,367.3 C116.0,369.3 118.6,378.4 117.3,380.7 C116.0,383.0 110.0,385.5 106.7,386.0 C103.4,386.5 94.4,384.2 90.7,384.7 C87.0,385.2 79.6,388.7 77.3,390.0 C75.0,391.3 72.7,394.6 72.0,395.3" fill="none" stroke="#6fa6c0" stroke-width="3.0" stroke-linecap="round" stroke-linejoin="round"/>
<path d="M320.0,192.0 C320.3,193.8 322.9,203.9 322.7,206.7 C322.5,209.5 319.0,212.4 318.7,214.7 C318.4,217.0 320.7,223.6 320.0,225.3 C319.3,227.0 314.1,227.7 313.3,228.0" fill="none" stroke="#6fa6c0" stroke-width="1.3" stroke-linecap="round" stroke-linejoin="round"/>
<path d="M313.3,228.0 C313.1,230.0 311.5,240.3 312.0,244.0 C312.5,247.7 316.3,255.2 317.3,257.3 C318.3,259.4 319.7,260.1 320.0,260.5" fill="none" stroke="#6fa6c0" stroke-width="3.3" stroke-linecap="round" stroke-linejoin="round"/>
<path d="M346.7,264.0 C345.7,266.2 341.0,277.8 338.7,281.3 C336.4,284.8 330.3,289.0 328.0,292.0 C325.7,295.0 322.3,302.6 320.0,305.3 C317.7,308.0 311.3,310.6 309.3,313.3 C307.3,316.0 305.0,325.4 304.0,326.7 C303.0,327.9 303.3,322.1 301.3,323.3 C299.3,324.6 290.7,333.4 288.0,336.7 C285.3,340.0 281.0,346.3 280.0,350.0 C279.0,353.7 279.2,362.3 280.0,366.0 C280.8,369.7 285.0,376.6 286.7,379.3 C288.4,382.0 290.8,385.3 293.3,387.3 C295.8,389.3 303.4,393.6 306.7,395.3 C310.0,397.0 317.8,398.7 320.0,400.7 C322.2,402.7 323.5,410.0 324.0,411.3" fill="none" stroke="#6fa6c0" stroke-width="4.6" stroke-linecap="round" stroke-linejoin="round"/>
<path d="M324.0,411.3 C324.3,413.3 327.2,423.6 326.7,427.3 C326.2,431.0 320.2,437.7 320.0,440.7 C319.8,443.7 325.3,448.6 325.3,451.3 C325.3,454.0 319.7,459.3 320.0,462.0 C320.3,464.7 325.7,470.4 328.0,472.7 C330.3,475.0 336.4,478.9 338.7,480.7 C341.0,482.5 345.7,486.5 346.7,487.3" fill="none" stroke="#6fa6c0" stroke-width="2.0" stroke-linecap="round" stroke-linejoin="round"/>
<path d="M392.7,249.3 C393.2,251.3 396.0,262.0 396.7,265.3 C397.4,268.6 399.5,274.0 398.0,276.0 C396.5,278.0 387.7,280.0 384.7,281.3 C381.7,282.6 375.7,284.7 374.0,286.7 C372.3,288.7 371.3,294.0 371.3,297.3 C371.3,300.6 373.8,309.5 374.0,313.3 C374.2,317.1 372.8,326.4 372.7,328.0 C372.6,329.6 371.9,325.9 373.3,326.0 C374.7,326.1 382.7,326.0 384.0,328.7 C385.3,331.4 384.0,345.0 384.0,347.3" fill="none" stroke="#6fa6c0" stroke-width="3.6" stroke-linecap="round" stroke-linejoin="round"/>
<path d="M384.0,347.3 C383.0,348.0 377.3,350.0 376.0,352.7 C374.7,355.4 374.6,364.4 373.3,368.7 C372.0,373.0 366.6,382.6 365.3,387.3 C364.0,392.0 362.7,401.7 362.7,406.0 C362.7,410.3 366.0,418.7 365.3,422.0 C364.6,425.3 358.3,430.0 357.3,432.7 C356.3,435.4 356.0,441.6 357.3,443.3 C358.6,445.0 366.0,444.0 368.0,446.0 C370.0,448.0 373.3,456.3 373.3,459.3 C373.3,462.3 369.5,467.0 368.0,470.0 C366.5,473.0 362.1,481.6 361.3,483.3" fill="none" stroke="#6fa6c0" stroke-width="2.4" stroke-linecap="round" stroke-linejoin="round"/>
<path d="M394.7,249.3 C394.7,251.3 394.0,262.6 394.7,265.3 C395.4,268.0 399.3,270.0 400.0,270.7" fill="none" stroke="#6fa6c0" stroke-width="3.0" stroke-linecap="round" stroke-linejoin="round"/>
</g>
<text x="299.4" y="131.4" class="b hv" font-size="40.5" textLength="84.2" lengthAdjust="spacingAndGlyphs">2016</text>
<text x="451.3" y="214.9" class="bl" font-style="italic" font-size="32.5" textLength="160" lengthAdjust="spacing">Amazonas</text>
<text x="130.6" y="275" font-size="31.3" textLength="118.5" lengthAdjust="spacing" style="stroke:#a9c976;stroke-opacity:0.8;stroke-width:3px;stroke-linejoin:round;paint-order:stroke">Manaus</text>
<circle cx="264.4" cy="271.6" r="8.6" fill="#222222"/>
<circle cx="462.3" cy="494" r="12" fill="#fff" stroke="#222222" stroke-width="4"/><circle cx="462.3" cy="494" r="6.9" fill="#222222"/>
<text x="482" y="506.2" class="b hv" font-size="31" textLength="122.3" lengthAdjust="spacing">Brasília</text>
<text x="359.3" y="569.8" font-size="31.5" textLength="173.6" lengthAdjust="spacing">BRASILIEN</text>
<circle cx="232.6" cy="357.4" r="19.8" fill="none" stroke="#222222" stroke-width="7.2"/>
</g>
</svg>
</body></html>
